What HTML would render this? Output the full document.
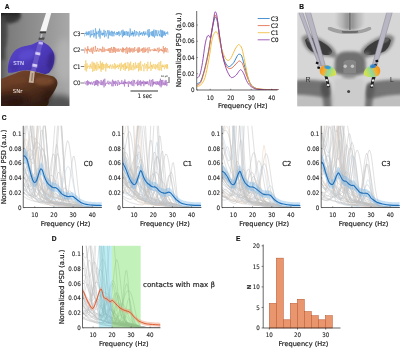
<!DOCTYPE html>
<html lang="en"><head><meta charset="utf-8"><title>Figure</title>
<style>html,body{margin:0;padding:0;background:#fff}body{width:400px;height:348px;overflow:hidden}svg{display:block}text{white-space:pre}</style></head>
<body>
<svg width="400" height="348" viewBox="0 0 400 348">
<text x="4.8" y="8.8" font-size="6.6" text-anchor="start" fill="#111" font-family="'Liberation Sans','DejaVu Sans',sans-serif" font-weight="bold" stroke="#111" stroke-width="0.18">A</text>
<text x="299.3" y="8.8" font-size="6.6" text-anchor="start" fill="#111" font-family="'Liberation Sans','DejaVu Sans',sans-serif" font-weight="bold" stroke="#111" stroke-width="0.18">B</text>
<text x="1.8" y="120" font-size="6.6" text-anchor="start" fill="#111" font-family="'Liberation Sans','DejaVu Sans',sans-serif" font-weight="bold" stroke="#111" stroke-width="0.18">C</text>
<text x="51.8" y="241" font-size="6.6" text-anchor="start" fill="#111" font-family="'Liberation Sans','DejaVu Sans',sans-serif" font-weight="bold" stroke="#111" stroke-width="0.18">D</text>
<text x="236" y="241" font-size="6.6" text-anchor="start" fill="#111" font-family="'Liberation Sans','DejaVu Sans',sans-serif" font-weight="bold" stroke="#111" stroke-width="0.18">E</text>
<defs>
<linearGradient id="abg" x1="0" y1="0" x2="1" y2="0"><stop offset="0" stop-color="#5a5a5a"/><stop offset="0.12" stop-color="#7c7c7c"/><stop offset="0.5" stop-color="#8f8f8f"/><stop offset="1" stop-color="#a9a9a9"/></linearGradient>
<radialGradient id="adark" cx="0" cy="0" r="1"><stop offset="0" stop-color="#1c1c1c" stop-opacity="1"/><stop offset="0.55" stop-color="#2a2a2a" stop-opacity="0.8"/><stop offset="1" stop-color="#444" stop-opacity="0"/></radialGradient>
<linearGradient id="stn" x1="0" y1="0" x2="1" y2="1"><stop offset="0" stop-color="#5846c8"/><stop offset="0.5" stop-color="#4e3bbc"/><stop offset="1" stop-color="#3e2c9c"/></linearGradient>
<linearGradient id="snr" x1="0" y1="0" x2="0.6" y2="1"><stop offset="0" stop-color="#7a4830"/><stop offset="0.45" stop-color="#613822"/><stop offset="1" stop-color="#2e1a10"/></linearGradient>
<filter id="b0" x="-5%" y="-5%" width="110%" height="110%"><feGaussianBlur stdDeviation="0.35"/></filter>
<filter id="b1" x="-20%" y="-20%" width="140%" height="140%"><feGaussianBlur stdDeviation="0.6"/></filter>
<filter id="b15" x="-20%" y="-20%" width="140%" height="140%"><feGaussianBlur stdDeviation="1"/></filter>
<filter id="b2" x="-30%" y="-30%" width="160%" height="160%"><feGaussianBlur stdDeviation="1.5"/></filter>
<filter id="b3" x="-40%" y="-40%" width="180%" height="180%"><feGaussianBlur stdDeviation="3"/></filter>
<clipPath id="clipA"><rect x="1" y="13" width="68.5" height="93"/></clipPath>
<clipPath id="clipB"><rect x="297.3" y="12.8" width="102.7" height="93.4"/></clipPath>
</defs>
<g clip-path="url(#clipA)">
<g filter="url(#b0)">
<rect x="0" y="12" width="71" height="96" fill="url(#abg)"/>
<ellipse cx="1" cy="13" rx="28" ry="26" fill="url(#adark)"/>
<rect x="-2" y="10" width="7" height="50" fill="#3c3c3c" opacity="0.7" filter="url(#b2)"/>
<rect x="-2" y="9" width="22" height="6.5" fill="#161616" opacity="0.85" filter="url(#b2)"/>
<ellipse cx="12" cy="17.5" rx="9" ry="5.5" fill="#262626" opacity="0.8" filter="url(#b2)" transform="rotate(-15 12 17.5)"/>
<ellipse cx="4" cy="32" rx="4" ry="16" fill="#444" opacity="0.6" filter="url(#b2)"/>
<ellipse cx="64" cy="60" rx="9" ry="22" fill="#bcbcbc" opacity="0.55" filter="url(#b3)"/>
<ellipse cx="58" cy="105" rx="18" ry="10" fill="#444" opacity="0.85" filter="url(#b3)"/>
<path d="M-1 79.6C0.5 79.03 5.15 77.27 8 76.2C10.85 75.13 13.42 74.13 16.1 73.2C18.78 72.27 21.42 70.93 24.1 70.6C26.78 70.27 29.52 70.77 32.2 71.2C34.88 71.63 37.52 72.53 40.2 73.2C42.88 73.87 46.22 74.7 48.3 75.2C50.38 75.7 51.37 75.52 52.7 76.2C54.03 76.88 55.52 77.95 56.3 79.3C57.08 80.65 57.73 82.3 57.4 84.3C57.07 86.3 55.65 88.95 54.3 91.3C52.95 93.65 51.18 95.78 49.3 98.4C47.42 101.02 51.38 105.57 43 107C34.62 108.43 6.33 107 -1 107Z" fill="url(#snr)" filter="url(#b1)"/>
<ellipse cx="44" cy="81" rx="10" ry="4.5" fill="#8a5638" opacity="0.6" filter="url(#b2)"/>
<ellipse cx="17" cy="80" rx="10" ry="4" fill="#74452c" opacity="0.5" filter="url(#b2)"/>
<ellipse cx="10" cy="101" rx="18" ry="8" fill="#1c100a" opacity="0.6" filter="url(#b3)"/>
<ellipse cx="47" cy="96" rx="5" ry="8" fill="#2a170e" opacity="0.5" filter="url(#b2)" transform="rotate(30 47 96)"/>
<path d="M30.6 69.5 L35 70 L33.6 83 L28.6 82.5Z" fill="#cdbba8" opacity="0.92" filter="url(#b1)"/>
<path d="M31.8 73 L33.2 73 L32.4 81 L31 81Z" fill="#8a6a50" opacity="0.7" filter="url(#b1)"/>
<path d="M8.2 72.7C8.15 71.95 7.67 70.35 7.9 68.2C8.13 66.05 8.73 62.37 9.6 59.8C10.47 57.23 11.7 54.67 13.1 52.8C14.5 50.93 16.02 49.72 18 48.6C19.98 47.48 22.67 46.8 25 46.1C27.33 45.4 30.02 45.03 32 44.4C33.98 43.77 35.45 42.93 36.9 42.3C38.35 41.67 39.42 40.48 40.7 40.6C41.98 40.72 43.25 42.13 44.6 43C45.95 43.87 47.52 44.63 48.8 45.8C50.08 46.97 51.38 48.37 52.3 50C53.22 51.63 54.02 53.5 54.3 55.6C54.58 57.7 54.42 60.38 54 62.6C53.58 64.82 52.78 67.12 51.8 68.9C50.82 70.68 49.53 72.5 48.1 73.3C46.67 74.1 45.18 73.97 43.2 73.7C41.22 73.43 38.77 72.27 36.2 71.7C33.63 71.13 30.6 70.42 27.8 70.3C25 70.18 21.97 70.6 19.4 71C16.83 71.4 14.27 72.42 12.4 72.7C10.53 72.98 8.9 72.7 8.2 72.7Z" fill="url(#stn)" filter="url(#b1)"/>
<ellipse cx="27" cy="55" rx="9" ry="5" fill="#6452d8" opacity="0.55" filter="url(#b2)" transform="rotate(-20 27 55)"/>
<ellipse cx="51" cy="61" rx="3.5" ry="9" fill="#30207c" opacity="0.65" filter="url(#b2)" transform="rotate(10 51 61)"/>
<ellipse cx="14" cy="67" rx="5" ry="4" fill="#3a2a95" opacity="0.5" filter="url(#b2)"/>
<path d="M38.6 40 L43.6 40 L35.6 71.5 L31 70.5Z" fill="#8070d4" opacity="0.55" filter="url(#b1)"/>
<rect x="38.6" y="41.8" width="4.4" height="2.6" fill="#cfc6f2" opacity="0.9" transform="rotate(12 40.8 43)" filter="url(#b0)"/>
<rect x="35.3" y="52.2" width="5" height="2.8" fill="#ddd5f8" opacity="0.95" transform="rotate(12 37.8 53.6)" filter="url(#b0)"/>
<rect x="32.3" y="64" width="5" height="2.8" fill="#ddd5f8" opacity="0.95" transform="rotate(12 34.8 65.4)" filter="url(#b0)"/>
<path d="M46.2 12.5 L51.4 12.5 L46.2 31.5 L40 31.5Z" fill="#f6f6f6"/>
<path d="M40 31.5 L46.2 31.5 L43.9 40.5 L38.2 40.5Z" fill="#8c8c90"/>
<path d="M40 31.5 L46.2 31.5 L45.8 33.2 L39.6 33.2Z" fill="#3c3c3c"/>
<path d="M38.9 37.6 L44.7 37.6 L44.1 39.8 L38.4 39.8Z" fill="#4c4c4c"/>
<path d="M41 34 L42.6 34 L41.6 38 L40.2 38Z" fill="#c8c8c8" opacity="0.8"/>
</g>
<text x="13.2" y="65.3" font-size="5.4" text-anchor="start" fill="#e4e0ff" font-family="'DejaVu Sans','Liberation Sans',sans-serif" font-weight="normal" stroke="#e4e0ff" stroke-width="0.05">STN</text>
<text x="12.8" y="93" font-size="5.4" text-anchor="start" fill="#efe4dc" font-family="'DejaVu Sans','Liberation Sans',sans-serif" font-weight="normal" stroke="#efe4dc" stroke-width="0.05">SNr</text>
</g>
<text x="73.2" y="35.65" font-size="6.1" text-anchor="start" fill="#1c1c1c" font-family="'DejaVu Sans Condensed','DejaVu Sans','Liberation Sans',sans-serif" font-weight="normal" stroke="#1c1c1c" stroke-width="0.1">C3</text>
<path d="M80.8 33.5 H84.3" stroke="#262626" stroke-width="0.6"/>
<path d="M84.6 36.4l.2 -2.6 .3 -.9 .2 .8 .3 -.6 .2 .6 .3 -1.3 .2 -.9 .3 3.7 .2 .3 .3 -2.9 .2 .6 .3 1.5 .2 -.7 .2 -2.1 .3 -.5 .2 2.9 .3 1 .2 -2.4 .3 -1.6 .2 2.8 .3 -.3 .2 .3 .3 3.4 .2 -2.9 .3 -3.6 .2 -.7 .2 .8 .3 4.3 .2 -.6 .3 -.8 .2 1.1 .3 -1.2 .2 -.3 .3 -2.9 .2 -.9 .3 2.5 .2 4.9 .2 .2 .3 -4.1 .2 -.3 .3 1.5 .2 1.1 .3 -3.2 .2 -4.1 .3 .7 .2 6.4 .3 3.3 .2 -4.6 .3 -2.5 .2 2.8 .2 -.3 .3 -.6 .2 .4 .3 -.4 .2 -1.9 .3 -.8 .2 3.1 .3 2.6 .2 .2 .3 -4.8 .2 -3.3 .3 5.1 .2 4.9 .2 -2.8 .3 -3.8 .2 -1.4 .3 1.2 .2 1.1 .3 .7 .2 1.5 .3 -2.1 .2 -.3 .3 2.9 .2 -.2 .3 -2.4 .2 .6 .2 .9 .3 -3 .2 -1.7 .3 4.3 .2 3.2 .3 -1.9 .2 -3.3 .3 -1.1 .2 -.1 .3 1.7 .2 3.3 .2 .5 .3 -2.2 .2 -.7 .3 .4 .2 -1 .3 -1.7 .2 -1 .3 3.5 .2 4.9 .3 -2 .2 -4.6 .3 -1.7 .2 1.6 .2 3.5 .3 -.7 .2 -3.1 .3 .2 .2 1.2 .3 2.2 .2 .7 .3 -.8 .2 -3.5 .3 -.8 .2 3.1 .3 2.5 .2 -1.9 .2 -3 .3 1 .2 .8 .3 -.9 .2 1.4 .3 2.5 .2 -2.9 .3 -2 .2 2 .3 .2 .2 -.4 .3 .6 .2 0 .2 .5 .3 .9 .2 -1.5 .3 -1.8 .2 .5 .3 1.7 .2 .9 .3 -2.2 .2 -.7 .3 2.1 .2 -2 .3 -.9 .2 2.9 .2 1.4 .3 .6 .2 -2.1 .3 -2.6 .2 .2 .3 2.2 .2 1 .3 -.4 .2 -.7 .3 -.9 .2 -.5 .2 -2 .3 1.9 .2 3.6 .3 1.4 .2 -2.8 .3 -4.8 .2 2.7 .3 3.5 .2 -1.5 .3 -3 .2 2.2 .3 1.5 .2 -3.5 .2 1.7 .3 2.1 .2 -.9 .3 -.3 .2 -2.1 .3 -1.1 .2 1.5 .3 2 .2 1 .3 -1.1 .2 -2.7 .3 1.1 .2 3.2 .2 -1.5 .3 -2.8 .2 .5 .3 .2 .2 1.2 .3 2.4 .2 1.2 .3 -3.5 .2 -5.2 .3 1.2 .2 4.6 .3 1.3 .2 .3 .2 -1.8 .3 -1.1 .2 1.6 .3 -2.9 .2 -.5 .3 3.3 .2 -1.9 .3 1.8 .2 2.1 .3 -2.8 .2 -1.2 .2 1.7 .3 -2.4 .2 -1.7 .3 2.8 .2 2.8 .3 .6 .2 -.9 .3 -2.2 .2 -1.5 .3 -.7 .2 2.1 .3 2.2 .2 -.4 .2 -.6 .3 -1.8 .2 -.6 .3 .7 .2 .4 .3 .8 .2 1.5 .3 1.2 .2 -2.7 .3 -2.6 .2 -.1 .3 2.7 .2 1.2 .2 -2 .3 .3 .2 1.2 .3 -1.5 .2 -.7 .3 1.2 .2 -.4 .3 .7 .2 2 .3 -.6 .2 -2.7 .3 -.4 .2 1.6 .2 -1.6 .3 -1 .2 3.6 .3 .9 .2 -1.8 .3 -1 .2 2 .3 -.3 .2 -1.8 .3 -1.2 .2 1.2 .3 .8 .2 .1 .2 .8 .3 .8 .2 .1 .3 -3.4 .2 -2.2 .3 2.7 .2 3.7 .3 1.3 .2 -4.1 .3 -4.3 .2 3.8 .2 4 .3 -2.2 .2 -2.3 .3 -.3 .2 .2 .3 1.3 .2 1.1 .3 .9 .2 -2.2 .3 -2 .2 3.2 .3 1.6 .2 -2.5 .2 -2.6 .3 .6 .2 5.1 .3 -1.4 .2 -5.5 .3 -.3 .2 4.7 .3 3.4 .2 -.9 .3 -2.6 .2 -3.9 .3 0 .2 4.5 .2 1.2 .3 -.7 .2 -1.3 .3 -3.8 .2 .2 .3 4.5 .2 1.4 .3 -1.6 .2 -.2 .3 -1.4 .2 .1 .3 -1.1 .2 -1.5 .2 3.1 .3 2 .2 -1.3 .3 .9 .2 1.2 .3 -4.2 .2 -2.5 .3 1.2 .2 2.9 .3 3.3 .2 -2.6 .2 -4.2 .3 2.8 .2 4.5 .3 -4.3 .2 -2.9 .3 3 .2 2.4 .3 -1.2 .2 -3.2 .3 .3 .2 2.9 .3 -1.4 .2 -1.7 .2 3.6 .3 .9 .2 -2.2 .3 -.5 .2 .6 .3 -1.4 .2 -.1 .3 1.5 .2 -.2 .3 -.3 .2 -1.8 .3 .5 .2 2.8" fill="none" stroke="#2f88d4" stroke-width="0.48" stroke-linejoin="round"/>
<text x="73.2" y="52.15" font-size="6.1" text-anchor="start" fill="#1c1c1c" font-family="'DejaVu Sans Condensed','DejaVu Sans','Liberation Sans',sans-serif" font-weight="normal" stroke="#1c1c1c" stroke-width="0.1">C2</text>
<path d="M80.8 50 H84.3" stroke="#262626" stroke-width="0.6"/>
<path d="M84.6 53.2l.2 -3.6 .3 -2 .2 .8 .3 .2 .2 1 .3 1.2 .2 .3 .3 -1.3 .2 -.7 .3 3.9 .2 .6 .3 -4.8 .2 -2.6 .2 3.2 .3 1.2 .2 -1.8 .3 1 .2 .1 .3 -.4 .2 1.9 .3 .5 .2 -1.5 .3 -.8 .2 -1 .3 .5 .2 2.3 .2 .9 .3 -2.7 .2 -2 .3 1.1 .2 0 .3 2.8 .2 2.3 .3 -3.1 .2 -3.9 .3 .4 .2 3.3 .2 .6 .3 0 .2 .6 .3 -.3 .2 -.6 .3 -2.3 .2 -2.6 .3 2.2 .2 3.2 .3 .5 .2 -.8 .3 -1 .2 .8 .2 .4 .3 -1.7 .2 -1.4 .3 0 .2 2 .3 .2 .2 .2 .3 1.4 .2 -.7 .3 -1.3 .2 -.5 .3 -.9 .2 1.6 .2 -.2 .3 -.8 .2 1.5 .3 -.7 .2 -.5 .3 .5 .2 2.2 .3 .1 .2 -3.9 .3 -1.6 .2 2.8 .3 2.6 .2 -.8 .2 -.4 .3 -.8 .2 -2.6 .3 .9 .2 1.9 .3 1.6 .2 -1 .3 -1.4 .2 0 .3 0 .2 1 .2 -.3 .3 -.9 .2 .2 .3 1.4 .2 -.1 .3 -.2 .2 -.9 .3 -1 .2 1.5 .3 .9 .2 -1.2 .3 -1.8 .2 .3 .2 3.3 .3 1 .2 -3.3 .3 -1.3 .2 1 .3 2.2 .2 1.7 .3 -2 .2 -3.9 .3 .9 .2 2.1 .3 .2 .2 -.9 .2 .5 .3 3 .2 -.9 .3 -5.1 .2 1.2 .3 3.6 .2 .3 .3 -2.3 .2 -2.6 .3 1.1 .2 3.7 .3 1 .2 -2.6 .2 -2.1 .3 .6 .2 1.4 .3 1.2 .2 -.8 .3 -1.4 .2 -.5 .3 .2 .2 2.8 .3 .3 .2 -2.9 .3 -.7 .2 .3 .2 2.3 .3 .6 .2 -1 .3 .1 .2 -1.2 .3 -.8 .2 .6 .3 .7 .2 0 .3 -.4 .2 .2 .2 2 .3 -.1 .2 -3.3 .3 -.9 .2 3.6 .3 1.4 .2 -2.8 .3 -1.9 .2 2.7 .3 1.2 .2 -2.6 .3 .6 .2 .3 .2 -.5 .3 -.1 .2 -1.1 .3 2.4 .2 2.7 .3 -1.2 .2 -3.2 .3 -2.1 .2 .1 .3 2.9 .2 4 .3 -1.3 .2 -3.4 .2 -1.3 .3 .7 .2 1.1 .3 1.2 .2 1.3 .3 -3 .2 -1.8 .3 2.4 .2 2.8 .3 -.9 .2 -3.1 .3 -.1 .2 1.7 .2 1.4 .3 -.6 .2 -2.6 .3 -.5 .2 1.4 .3 1.2 .2 2.1 .3 -1.4 .2 -2.7 .3 .1 .2 1.3 .2 2 .3 .1 .2 -3.8 .3 -1.2 .2 2.8 .3 1 .2 0 .3 -.4 .2 -.1 .3 .4 .2 -.9 .3 -.5 .2 -.6 .2 .9 .3 2.9 .2 -1.1 .3 -4 .2 .3 .3 4 .2 1.1 .3 -2.9 .2 -2.7 .3 .9 .2 3.9 .3 -.4 .2 -1.5 .2 -.2 .3 .3 .2 -.7 .3 -.7 .2 1.2 .3 1.1 .2 -.1 .3 -2.7 .2 -.2 .3 3.1 .2 1.7 .3 -2.2 .2 -2.7 .2 -.5 .3 1.7 .2 3.1 .3 .1 .2 -1.7 .3 -2.6 .2 -.6 .3 3 .2 1.6 .3 -1.9 .2 -1.1 .3 1 .2 .3 .2 .1 .3 -2.1 .2 -.7 .3 2.1 .2 2.2 .3 1.2 .2 -1.7 .3 -1.4 .2 -1.5 .3 -1.5 .2 1.2 .2 1.9 .3 -.2 .2 1.5 .3 -.2 .2 -1.7 .3 .6 .2 0 .3 0 .2 -.2 .3 -.1 .2 -.7 .3 .5 .2 -.2 .2 .2 .3 .9 .2 -.5 .3 0 .2 1 .3 -.9 .2 -1.8 .3 1.9 .2 .8 .3 -1.3 .2 -.8 .3 -.1 .2 1.9 .2 -.8 .3 -.2 .2 1.3 .3 0 .2 -.3 .3 -1.6 .2 -1.2 .3 -.2 .2 2.2 .3 2.4 .2 .1 .3 -1.4 .2 -2.8 .2 -.8 .3 1.8 .2 2 .3 -.2 .2 -1 .3 -.2 .2 -.6 .3 .6 .2 .6 .3 -1.7 .2 .9 .2 1.4 .3 -.7 .2 -.4 .3 1.1 .2 .5 .3 -4.1 .2 -1.4 .3 3.4 .2 3.9 .3 -.9 .2 -3.6 .3 -.8 .2 2.7 .2 1.1 .3 -2.3 .2 -2.2 .3 .8 .2 2.9 .3 1.2 .2 -.7 .3 -2 .2 -1.5 .3 .6 .2 .2 .3 1.3 .2 2.6" fill="none" stroke="#e2703f" stroke-width="0.48" stroke-linejoin="round"/>
<text x="73.2" y="68.65" font-size="6.1" text-anchor="start" fill="#1c1c1c" font-family="'DejaVu Sans Condensed','DejaVu Sans','Liberation Sans',sans-serif" font-weight="normal" stroke="#1c1c1c" stroke-width="0.1">C1</text>
<path d="M80.8 66.5 H84.3" stroke="#262626" stroke-width="0.6"/>
<path d="M84.6 64l.2 .7 .3 5.2 .2 .4 .3 -6.7 .2 -3.3 .3 4.7 .2 6.5 .3 -.6 .2 -5.2 .3 -2.3 .2 3 .3 2.1 .2 -1.9 .2 -.7 .3 .5 .2 .2 .3 -1.1 .2 .7 .3 0 .2 .4 .3 2.3 .2 -1.5 .3 -3.6 .2 2.2 .3 .7 .2 -.7 .2 2.2 .3 .3 .2 -1.3 .3 -4.7 .2 -.9 .3 6.3 .2 3.9 .3 -1.9 .2 -3.3 .3 -3.7 .2 -.5 .2 5.8 .3 2.8 .2 -5.1 .3 -2.8 .2 .6 .3 4.5 .2 1 .3 -4.5 .2 1.6 .3 4.6 .2 -1.8 .3 -4.5 .2 -2.8 .2 1.1 .3 4.4 .2 1.1 .3 1.3 .2 -1.5 .3 -4.4 .2 .6 .3 3.3 .2 .7 .3 -1.8 .2 -.7 .3 2.7 .2 -3.5 .2 -4.3 .3 3.6 .2 6 .3 1.4 .2 -6.8 .3 -1.7 .2 6.4 .3 -.4 .2 -4.3 .3 -2.7 .2 2.8 .3 4.7 .2 -2.3 .2 -3.6 .3 1.4 .2 2.9 .3 -1 .2 0 .3 -.4 .2 -2.2 .3 -.6 .2 4.5 .3 3 .2 -3.9 .2 -4.7 .3 .1 .2 4 .3 1.4 .2 -.7 .3 -2.2 .2 -1.4 .3 2.9 .2 .5 .3 -1.2 .2 .7 .3 .8 .2 -2 .2 0 .3 2.9 .2 -1 .3 -2.8 .2 -.5 .3 1.8 .2 -.6 .3 .1 .2 1.5 .3 .8 .2 1.1 .3 -1.7 .2 -2.6 .2 -.4 .3 1.3 .2 1.8 .3 -.9 .2 -.1 .3 2.1 .2 -1 .3 -3.5 .2 -.9 .3 4 .2 2.2 .3 -1.4 .2 -2.7 .2 -1 .3 2.1 .2 1.6 .3 -.8 .2 -1.2 .3 -.1 .2 1.1 .3 -1.1 .2 -1.4 .3 2.4 .2 2.2 .3 -.8 .2 -1.9 .2 -1.3 .3 .9 .2 .8 .3 -3.3 .2 .9 .3 3.9 .2 2.6 .3 -2 .2 -4.7 .3 -1.5 .2 2.8 .2 3.3 .3 -.2 .2 -2.2 .3 -1.3 .2 1.6 .3 .4 .2 -3 .3 1.7 .2 4.1 .3 -1.5 .2 -3 .3 -1.1 .2 -1 .2 2.9 .3 4.7 .2 -2.2 .3 -6.1 .2 3 .3 3.4 .2 -3.2 .3 .4 .2 2.2 .3 -1.1 .2 .3 .3 -2.4 .2 -3.2 .2 2.1 .3 2.2 .2 3.1 .3 1.7 .2 -4.5 .3 -3.2 .2 2.1 .3 3.7 .2 .5 .3 -4.8 .2 -3.2 .3 1.9 .2 5.6 .2 .9 .3 -2.9 .2 -1.4 .3 -.6 .2 -.4 .3 .6 .2 2.3 .3 2.7 .2 -2.8 .3 -4.6 .2 .9 .2 3.4 .3 0 .2 -.6 .3 2.5 .2 .3 .3 -4.6 .2 -2.5 .3 1.7 .2 4.2 .3 -.1 .2 -2.8 .3 .1 .2 2.3 .2 -.2 .3 -.5 .2 .2 .3 -4.1 .2 1.9 .3 6.4 .2 -3.1 .3 -4.8 .2 -1.1 .3 2.6 .2 4.2 .3 1 .2 -2.4 .2 -4.6 .3 -2.1 .2 4.8 .3 4.8 .2 -1.4 .3 -2.7 .2 0 .3 -.3 .2 -.8 .3 -1.2 .2 .7 .3 .5 .2 -.3 .2 2.7 .3 3.3 .2 -1.4 .3 -4.5 .2 -2.2 .3 .3 .2 1.2 .3 2.6 .2 1.3 .3 -.5 .2 -1 .3 -1.5 .2 -1.6 .2 1.7 .3 5.5 .2 -.7 .3 -6 .2 -2.7 .3 1.3 .2 3.3 .3 2.5 .2 -.8 .3 -1.4 .2 0 .2 1 .3 .5 .2 -1.2 .3 -3.2 .2 -2 .3 5 .2 4.1 .3 -3.9 .2 -2.1 .3 1.9 .2 -1.2 .3 0 .2 3.1 .2 .1 .3 -2.4 .2 -2.5 .3 .6 .2 1.4 .3 1.3 .2 1.5 .3 -.6 .2 -1.7 .3 -1.6 .2 -.8 .3 3.5 .2 1.9 .2 -2.7 .3 -1.6 .2 .2 .3 .5 .2 2.4 .3 -.9 .2 -3.5 .3 1.3 .2 3.5 .3 1.6 .2 -1.5 .3 -4 .2 -2.6 .2 .3 .3 3.8 .2 4.2 .3 .1 .2 -.5 .3 -3.5 .2 -5.5 .3 .7 .2 4.1 .3 4.9 .2 -.2 .2 -5 .3 0 .2 1.7 .3 -1.1 .2 -1.5 .3 1.1 .2 1.3 .3 -1.2 .2 .8 .3 .4 .2 1.6 .3 .6 .2 -4 .2 -.7 .3 1.9 .2 -.8 .3 .4 .2 1.8 .3 -1 .2 -2.5 .3 1.2 .2 3.6 .3 -1.2 .2 -3.6 .3 3.6 .2 .7" fill="none" stroke="#f0bc38" stroke-width="0.48" stroke-linejoin="round"/>
<text x="73.2" y="85.15" font-size="6.1" text-anchor="start" fill="#1c1c1c" font-family="'DejaVu Sans Condensed','DejaVu Sans','Liberation Sans',sans-serif" font-weight="normal" stroke="#1c1c1c" stroke-width="0.1">C0</text>
<path d="M80.8 83 H84.3" stroke="#262626" stroke-width="0.6"/>
<path d="M84.6 81.5l.2 .4 .3 2 .2 .1 .3 .2 .2 -.1 .3 -2.2 .2 -.8 .3 .9 .2 1.9 .3 1.6 .2 -1.5 .3 -3.7 .2 .7 .2 4.2 .3 -.3 .2 -2.8 .3 -.8 .2 2.2 .3 0 .2 -1.1 .3 -.3 .2 1.6 .3 .7 .2 -1.9 .3 .6 .2 1.3 .2 -1.5 .3 -.9 .2 -.3 .3 .3 .2 1.4 .3 -.3 .2 1.7 .3 -.1 .2 -2.5 .3 .4 .2 -.3 .2 -1.2 .3 .9 .2 1.8 .3 2 .2 -1.2 .3 -3.6 .2 .6 .3 3.4 .2 -1.4 .3 -3.7 .2 2.5 .3 2.5 .2 .2 .2 -3.4 .3 -1.7 .2 3.3 .3 2.9 .2 -2.8 .3 -2.6 .2 2.5 .3 .2 .2 0 .3 -.5 .2 -1.3 .3 .5 .2 1.2 .2 1.2 .3 .3 .2 -2.5 .3 -2.4 .2 2.1 .3 3 .2 -.7 .3 -2.7 .2 -.3 .3 1.9 .2 2 .3 -1.2 .2 -4.4 .2 .1 .3 5.1 .2 2.5 .3 -1.3 .2 -5.7 .3 -1.7 .2 .6 .3 4.8 .2 1.6 .3 -2.3 .2 -.4 .2 .4 .3 -.7 .2 .6 .3 .4 .2 -.3 .3 -.1 .2 -1.7 .3 -.9 .2 2.4 .3 1 .2 -.7 .3 1.2 .2 -.5 .2 -2.5 .3 .4 .2 .7 .3 .4 .2 .7 .3 -1.4 .2 -.7 .3 .9 .2 .4 .3 2 .2 1.3 .3 -3.3 .2 -2.8 .2 -.5 .3 3.4 .2 3.2 .3 -1.5 .2 -4 .3 .5 .2 2.7 .3 -.3 .2 -1.5 .3 -.9 .2 3 .3 1.5 .2 -2.6 .2 -2.4 .3 .8 .2 1.9 .3 0 .2 -1 .3 .2 .2 2.7 .3 .6 .2 -4.2 .3 -1.7 .2 1.2 .3 .8 .2 .6 .2 2.2 .3 0 .2 -2.4 .3 -.8 .2 1.2 .3 1.2 .2 -.7 .3 -.5 .2 .6 .3 .5 .2 -.1 .2 -3.7 .3 .3 .2 2.8 .3 .8 .2 -.9 .3 .2 .2 -.9 .3 1.7 .2 -1.1 .3 -1.9 .2 2.5 .3 2.8 .2 -3.2 .2 -3.8 .3 3.7 .2 .5 .3 -1.8 .2 .9 .3 -.7 .2 1.3 .3 .5 .2 -.5 .3 .3 .2 -1.5 .3 -.4 .2 -.1 .2 2.2 .3 3.1 .2 -2.8 .3 -3.3 .2 .2 .3 .8 .2 1.6 .3 .6 .2 -.8 .3 -1.2 .2 -.2 .3 2.3 .2 .4 .2 -2.9 .3 -.8 .2 1.9 .3 3.1 .2 -.1 .3 -2.7 .2 -1.5 .3 -1.8 .2 .7 .3 3.3 .2 2.4 .2 -.5 .3 -3.8 .2 -1.8 .3 2.2 .2 1.1 .3 0 .2 -.2 .3 .3 .2 .7 .3 -.7 .2 -1.3 .3 .1 .2 -.7 .2 1.8 .3 2.3 .2 -3.5 .3 -2.4 .2 3.2 .3 2.2 .2 -.4 .3 -1.9 .2 -1.2 .3 -.5 .2 1.6 .3 2.4 .2 -2.5 .2 -2.4 .3 2 .2 3.9 .3 -1.1 .2 -3.4 .3 0 .2 2.2 .3 -.2 .2 -1.8 .3 1.6 .2 -.8 .3 -2.2 .2 .7 .2 3.4 .3 1.6 .2 -2.4 .3 -2 .2 -.4 .3 2.6 .2 .5 .3 -2.9 .2 1 .3 1.4 .2 -1.9 .3 1.3 .2 .5 .2 -2.6 .3 .6 .2 2.3 .3 -.5 .2 -2.4 .3 .9 .2 1 .3 1.4 .2 .7 .3 -.5 .2 -1.6 .2 -3.3 .3 -.3 .2 2.5 .3 3.4 .2 .9 .3 -3.5 .2 -1.3 .3 -1.7 .2 .6 .3 4 .2 1.3 .3 .8 .2 -2.2 .2 -5.2 .3 .7 .2 5.3 .3 -1.4 .2 -2.1 .3 2 .2 0 .3 -1.8 .2 0 .3 1.3 .2 1.1 .3 -.1 .2 -2.3 .2 -.5 .3 1.8 .2 1.5 .3 0 .2 -2 .3 -1.6 .2 1.2 .3 2.2 .2 -2 .3 -.7 .2 .7 .3 2.5 .2 -.1 .2 -3.5 .3 -.6 .2 2 .3 3.5 .2 -2.8 .3 -4.8 .2 1.8 .3 5.1 .2 1.8 .3 -3.2 .2 -4.2 .2 1.9 .3 3.6 .2 -1.8 .3 -2.3 .2 -1.5 .3 1.2 .2 3.8 .3 -.3 .2 -1.9 .3 0 .2 2 .3 .6 .2 -2.7 .2 -2 .3 1.5 .2 3 .3 -2.1 .2 -3.1 .3 1.1 .2 2.8 .3 2.3 .2 -.7 .3 -3.1 .2 -.3 .3 1 .2 -.5" fill="none" stroke="#8f48b4" stroke-width="0.48" stroke-linejoin="round"/>
<path d="M130.5 91 H158" stroke="#1c1c1c" stroke-width="0.9"/>
<text x="144.8" y="98.4" font-size="6.1" text-anchor="middle" fill="#1c1c1c" font-family="'DejaVu Sans Condensed','DejaVu Sans','Liberation Sans',sans-serif" font-weight="normal" stroke="#1c1c1c" stroke-width="0.1">1 sec</text>
<path d="M169 77 V83" stroke="#1c1c1c" stroke-width="0.7"/>
<text x="161" y="76.6" font-size="2.4" text-anchor="start" fill="#1c1c1c" font-family="'DejaVu Sans','Liberation Sans',sans-serif" font-weight="normal" stroke="#1c1c1c" stroke-width="0.05">10 µV</text>
<clipPath id="clipP"><rect x="196.7" y="8" width="82" height="82"/></clipPath>
<g clip-path="url(#clipP)" fill="none" stroke-width="0.9" stroke-linejoin="round">
<path d="M196.75 84C197.08 83.83 198 83.67 198.75 83C199.5 82.33 200.21 82.58 201.25 80C202.29 77.42 203.75 72.5 205 67.5C206.25 62.5 207.58 56.25 208.75 50C209.92 43.75 211.04 35.21 212 30C212.96 24.79 213.88 20.83 214.5 18.75C215.12 16.67 215.25 16.88 215.75 17.5C216.25 18.12 216.79 18.75 217.5 22.5C218.21 26.25 218.96 33.96 220 40C221.04 46.04 222.5 54.46 223.75 58.75C225 63.04 226.46 64.5 227.5 65.75C228.54 67 228.96 66.79 230 66.25C231.04 65.71 232.5 64.29 233.75 62.5C235 60.71 236.54 56.88 237.5 55.5C238.46 54.12 238.79 54.12 239.5 54.25C240.21 54.38 240.83 54.04 241.75 56.25C242.67 58.46 243.83 63.54 245 67.5C246.17 71.46 247.5 76.88 248.75 80C250 83.12 250.62 84.71 252.5 86.25C254.38 87.79 255.42 88.62 260 89.25C264.58 89.88 276.67 89.88 280 90" stroke="#1f77c4"/>
<path d="M196.75 85.25C197.08 85.12 198 85.17 198.75 84.5C199.5 83.83 200.21 83.88 201.25 81.25C202.29 78.62 203.75 73.75 205 68.75C206.25 63.75 207.58 57.92 208.75 51.25C209.92 44.58 211.04 34.5 212 28.75C212.96 23 213.92 18.96 214.5 16.75C215.08 14.54 215 14.75 215.5 15.5C216 16.25 216.75 17.17 217.5 21.25C218.25 25.33 218.96 33.54 220 40C221.04 46.46 222.5 55.42 223.75 60C225 64.58 226.25 66.12 227.5 67.5C228.75 68.88 230 68.67 231.25 68.25C232.5 67.83 233.83 66.12 235 65C236.17 63.88 237.42 62.12 238.25 61.5C239.08 60.88 239.29 60.88 240 61.25C240.71 61.62 241.58 61.88 242.5 63.75C243.42 65.62 244.33 69.38 245.5 72.5C246.67 75.62 248.25 80.08 249.5 82.5C250.75 84.92 251.25 85.88 253 87C254.75 88.12 255.5 88.75 260 89.25C264.5 89.75 276.67 89.88 280 90" stroke="#e0603a"/>
<path d="M196.75 86.5C197.08 86.42 198 86.33 198.75 86C199.5 85.67 200.21 85.92 201.25 84.5C202.29 83.08 203.75 81.58 205 77.5C206.25 73.42 207.58 66.25 208.75 60C209.92 53.75 211.04 44.5 212 40C212.96 35.5 213.79 34.33 214.5 33C215.21 31.67 215.67 31.75 216.25 32C216.83 32.25 217.17 31.92 218 34.5C218.83 37.08 220.08 43.67 221.25 47.5C222.42 51.33 223.83 55.33 225 57.5C226.17 59.67 227.21 60.5 228.25 60.5C229.29 60.5 230.12 59.33 231.25 57.5C232.38 55.67 233.88 51.58 235 49.5C236.12 47.42 237.25 45.75 238 45C238.75 44.25 238.83 44.38 239.5 45C240.17 45.62 241.08 45.83 242 48.75C242.92 51.67 244 57.71 245 62.5C246 67.29 246.96 73.75 248 77.5C249.04 81.25 249.67 83.12 251.25 85C252.83 86.88 252.71 87.92 257.5 88.75C262.29 89.58 276.25 89.79 280 90" stroke="#f2b830"/>
<path d="M196.75 78C197.08 77.79 198.12 77.67 198.75 76.75C199.38 75.83 199.88 74.88 200.5 72.5C201.12 70.12 201.75 67.08 202.5 62.5C203.25 57.92 204.25 49.25 205 45C205.75 40.75 206.38 38.58 207 37C207.62 35.42 208.17 35.42 208.75 35.5C209.33 35.58 209.88 38.83 210.5 37.5C211.12 36.17 211.83 31.46 212.5 27.5C213.17 23.54 214 16.33 214.5 13.75C215 11.17 215.08 11.58 215.5 12C215.92 12.42 216.33 12.42 217 16.25C217.67 20.08 218.58 28.54 219.5 35C220.42 41.46 221.38 49.38 222.5 55C223.62 60.62 225 65.21 226.25 68.75C227.5 72.29 228.96 74.79 230 76.25C231.04 77.71 231.46 77.71 232.5 77.5C233.54 77.29 235.08 76.17 236.25 75C237.42 73.83 238.67 71.33 239.5 70.5C240.33 69.67 240.54 69.46 241.25 70C241.96 70.54 242.71 71.67 243.75 73.75C244.79 75.83 246.04 80.21 247.5 82.5C248.96 84.79 250.42 86.33 252.5 87.5C254.58 88.67 255.42 89.08 260 89.5C264.58 89.92 276.67 89.92 280 90" stroke="#8a3aa8"/>
</g>
<path d="M196.7 11 V90 H277.5" fill="none" stroke="#262626" stroke-width="0.7"/>
<path d="M196.7 90 h1.2" stroke="#262626" stroke-width="0.5"/>
<text x="194.6" y="92.2" font-size="6.2" text-anchor="end" fill="#1c1c1c" font-family="'DejaVu Sans Condensed','DejaVu Sans','Liberation Sans',sans-serif" font-weight="normal" stroke="#1c1c1c" stroke-width="0.1">0</text>
<path d="M196.7 73.75 h1.2" stroke="#262626" stroke-width="0.5"/>
<text x="194.6" y="75.95" font-size="6.2" text-anchor="end" fill="#1c1c1c" font-family="'DejaVu Sans Condensed','DejaVu Sans','Liberation Sans',sans-serif" font-weight="normal" stroke="#1c1c1c" stroke-width="0.1">0.02</text>
<path d="M196.7 57.5 h1.2" stroke="#262626" stroke-width="0.5"/>
<text x="194.6" y="59.7" font-size="6.2" text-anchor="end" fill="#1c1c1c" font-family="'DejaVu Sans Condensed','DejaVu Sans','Liberation Sans',sans-serif" font-weight="normal" stroke="#1c1c1c" stroke-width="0.1">0.04</text>
<path d="M196.7 41.25 h1.2" stroke="#262626" stroke-width="0.5"/>
<text x="194.6" y="43.45" font-size="6.2" text-anchor="end" fill="#1c1c1c" font-family="'DejaVu Sans Condensed','DejaVu Sans','Liberation Sans',sans-serif" font-weight="normal" stroke="#1c1c1c" stroke-width="0.1">0.06</text>
<path d="M196.7 25 h1.2" stroke="#262626" stroke-width="0.5"/>
<text x="194.6" y="27.2" font-size="6.2" text-anchor="end" fill="#1c1c1c" font-family="'DejaVu Sans Condensed','DejaVu Sans','Liberation Sans',sans-serif" font-weight="normal" stroke="#1c1c1c" stroke-width="0.1">0.08</text>
<path d="M210.2 90 v-1.2" stroke="#262626" stroke-width="0.5"/>
<text x="210.2" y="99.6" font-size="6.2" text-anchor="middle" fill="#1c1c1c" font-family="'DejaVu Sans Condensed','DejaVu Sans','Liberation Sans',sans-serif" font-weight="normal" stroke="#1c1c1c" stroke-width="0.1">10</text>
<path d="M230.7 90 v-1.2" stroke="#262626" stroke-width="0.5"/>
<text x="230.7" y="99.6" font-size="6.2" text-anchor="middle" fill="#1c1c1c" font-family="'DejaVu Sans Condensed','DejaVu Sans','Liberation Sans',sans-serif" font-weight="normal" stroke="#1c1c1c" stroke-width="0.1">20</text>
<path d="M251.2 90 v-1.2" stroke="#262626" stroke-width="0.5"/>
<text x="251.2" y="99.6" font-size="6.2" text-anchor="middle" fill="#1c1c1c" font-family="'DejaVu Sans Condensed','DejaVu Sans','Liberation Sans',sans-serif" font-weight="normal" stroke="#1c1c1c" stroke-width="0.1">30</text>
<path d="M271.7 90 v-1.2" stroke="#262626" stroke-width="0.5"/>
<text x="271.7" y="99.6" font-size="6.2" text-anchor="middle" fill="#1c1c1c" font-family="'DejaVu Sans Condensed','DejaVu Sans','Liberation Sans',sans-serif" font-weight="normal" stroke="#1c1c1c" stroke-width="0.1">40</text>
<text x="242.8" y="107.8" font-size="6.6" text-anchor="middle" fill="#1c1c1c" font-family="'DejaVu Sans','Liberation Sans',sans-serif" font-weight="normal" stroke="#1c1c1c" stroke-width="0.18">Frequency (Hz)</text>
<text x="180.8" y="50" font-size="6.8" text-anchor="middle" fill="#1c1c1c" font-family="'DejaVu Sans','Liberation Sans',sans-serif" font-weight="normal" transform="rotate(-90 180.8 50)" stroke="#1c1c1c" stroke-width="0.18">Normalized PSD (a.u.)</text>
<path d="M257.7 18.5 H269.7" stroke="#1f77c4" stroke-width="0.8"/>
<text x="271.1" y="20.65" font-size="6.1" text-anchor="start" fill="#1c1c1c" font-family="'DejaVu Sans Condensed','DejaVu Sans','Liberation Sans',sans-serif" font-weight="normal" stroke="#1c1c1c" stroke-width="0.2">C3</text>
<path d="M257.7 25.6 H269.7" stroke="#e0603a" stroke-width="0.8"/>
<text x="271.1" y="27.75" font-size="6.1" text-anchor="start" fill="#1c1c1c" font-family="'DejaVu Sans Condensed','DejaVu Sans','Liberation Sans',sans-serif" font-weight="normal" stroke="#1c1c1c" stroke-width="0.2">C2</text>
<path d="M257.7 32.7 H269.7" stroke="#f2b830" stroke-width="0.8"/>
<text x="271.1" y="34.85" font-size="6.1" text-anchor="start" fill="#1c1c1c" font-family="'DejaVu Sans Condensed','DejaVu Sans','Liberation Sans',sans-serif" font-weight="normal" stroke="#1c1c1c" stroke-width="0.2">C1</text>
<path d="M257.7 39.8 H269.7" stroke="#8a3aa8" stroke-width="0.8"/>
<text x="271.1" y="41.95" font-size="6.1" text-anchor="start" fill="#1c1c1c" font-family="'DejaVu Sans Condensed','DejaVu Sans','Liberation Sans',sans-serif" font-weight="normal" stroke="#1c1c1c" stroke-width="0.2">C0</text>
<g clip-path="url(#clipB)">
<rect x="297" y="12" width="104" height="95" fill="#d6d6d6"/>
<defs><linearGradient id="lobeL" x1="0" y1="0" x2="1" y2="0"><stop offset="0" stop-color="#d2d2d2"/><stop offset="0.5" stop-color="#b4b4b4"/><stop offset="1" stop-color="#868686"/></linearGradient><linearGradient id="lobeR" x1="1" y1="0" x2="0" y2="0"><stop offset="0" stop-color="#d2d2d2"/><stop offset="0.5" stop-color="#b4b4b4"/><stop offset="1" stop-color="#868686"/></linearGradient></defs>
<g filter="url(#b0)">
<rect x="290" y="93" width="120" height="20" fill="#bdbdbd" opacity="0.9" filter="url(#b3)"/>
<path d="M294 80.5 C302 79.5 312 79.5 323.9 81 L330 83.5 L331.5 110 L324 110 L322.5 97.5 C314 95.5 304 95 294 94.5Z" fill="#6e6e6e" opacity="0.95" filter="url(#b2)"/>
<ellipse cx="325.5" cy="90" rx="4.5" ry="8" fill="#484848" opacity="0.8" filter="url(#b2)" transform="rotate(-10 325.5 90)"/>
<path d="M404 80 C396 79.5 388 79.5 376 81 L367 84 L364 110 L371.5 110 L373 98.5 C382 96 392 95 404 94.5Z" fill="#707070" opacity="0.95" filter="url(#b2)"/>
<ellipse cx="370" cy="91" rx="4.5" ry="8" fill="#545454" opacity="0.75" filter="url(#b2)" transform="rotate(10 370 91)"/>
<path d="M334 80 C339 76 360 76 364.5 80 L364 110 L334 110Z" fill="#cccccc" filter="url(#b2)"/>
<circle cx="348.6" cy="91.4" r="1.5" fill="#444" filter="url(#b1)"/>
<path d="M336 12 L349.6 12 L349.6 29.5 C345 30.5 339 29 336.5 25 C335 21 335.5 16 336 12Z" fill="url(#lobeL)" filter="url(#b15)"/>
<path d="M364 12 L350.2 12 L350.2 29.5 C355 30.5 361 29 363.5 25 C365 21 364.5 16 364 12Z" fill="url(#lobeR)" filter="url(#b15)"/>
<rect x="349.3" y="10" width="1.2" height="20" fill="#5a5a5a" opacity="0.9" filter="url(#b1)"/>
<path d="M329.5 28.5 C336 31.5 343 32.3 350 32.3 C357 32.3 364 31.5 369.5 28.5" fill="none" stroke="#a0a0a0" stroke-width="3.6" stroke-linecap="round" filter="url(#b1)"/>
<path d="M343 31.6 C347 32.2 353 32.2 357 31.6" fill="none" stroke="#6c6c6c" stroke-width="2.4" stroke-linecap="round" filter="url(#b1)"/>
<path d="M301.5 37.6C302.25 37.15 303.92 35.17 306 34.9C308.08 34.63 311.33 35.23 314 36C316.67 36.77 319.42 38.08 322 39.5C324.58 40.92 327.42 42.75 329.5 44.5C331.58 46.25 333.58 48.33 334.5 50C335.42 51.67 335.75 53.42 335 54.5C334.25 55.58 332.33 56.33 330 56.5C327.67 56.67 324.17 56.17 321 55.5C317.83 54.83 313.75 54.08 311 52.5C308.25 50.92 306.08 48.48 304.5 46C302.92 43.52 302 39 301.5 37.6Z" fill="#7a7a7a" opacity="0.9" filter="url(#b2)"/>
<path d="M394.5 37.6C393.75 37.15 392.08 35.17 390 34.9C387.92 34.63 384.67 35.23 382 36C379.33 36.77 376.58 38.08 374 39.5C371.42 40.92 368.58 42.75 366.5 44.5C364.42 46.25 362.42 48.33 361.5 50C360.58 51.67 360.25 53.42 361 54.5C361.75 55.58 363.67 56.33 366 56.5C368.33 56.67 371.83 56.17 375 55.5C378.17 54.83 382.25 54.08 385 52.5C387.75 50.92 389.92 48.48 391.5 46C393.08 43.52 394 39 394.5 37.6Z" fill="#7a7a7a" opacity="0.9" filter="url(#b2)"/>
<path d="M305 39.91C305.6 39.55 306.93 37.96 308.6 37.75C310.27 37.53 312.87 38.01 315 38.63C317.13 39.24 319.33 40.29 321.4 41.43C323.47 42.56 325.73 44.03 327.4 45.43C329.07 46.83 330.67 48.49 331.4 49.83C332.13 51.16 332.4 52.56 331.8 53.43C331.2 54.29 329.67 54.89 327.8 55.03C325.93 55.16 323.13 54.76 320.6 54.23C318.07 53.69 314.8 53.09 312.6 51.83C310.4 50.56 308.67 48.61 307.4 46.63C306.13 44.64 305.4 41.03 305 39.91Z" fill="#383838" opacity="0.95" filter="url(#b1)"/>
<path d="M391 39.91C390.4 39.55 389.07 37.96 387.4 37.75C385.73 37.53 383.13 38.01 381 38.63C378.87 39.24 376.67 40.29 374.6 41.43C372.53 42.56 370.27 44.03 368.6 45.43C366.93 46.83 365.33 48.49 364.6 49.83C363.87 51.16 363.6 52.56 364.2 53.43C364.8 54.29 366.33 54.89 368.2 55.03C370.07 55.16 372.87 54.76 375.4 54.23C377.93 53.69 381.2 53.09 383.4 51.83C385.6 50.56 387.33 48.61 388.6 46.63C389.87 44.64 390.6 41.03 391 39.91Z" fill="#383838" opacity="0.95" filter="url(#b1)"/>
<ellipse cx="311" cy="40.5" rx="4.5" ry="2.2" fill="#707070" opacity="0.7" filter="url(#b1)" transform="rotate(25 311 40.5)"/>
<ellipse cx="385" cy="40.5" rx="4.5" ry="2.2" fill="#707070" opacity="0.7" filter="url(#b1)" transform="rotate(-25 385 40.5)"/>
<ellipse cx="333.5" cy="55" rx="4.5" ry="2.6" fill="#7c7c7c" opacity="0.8" filter="url(#b2)" transform="rotate(25 333.5 55)"/>
<ellipse cx="365.5" cy="55" rx="4.5" ry="2.6" fill="#7c7c7c" opacity="0.8" filter="url(#b2)" transform="rotate(-25 365.5 55)"/>
<path d="M335 60 C337 51 345 51.5 350 51.5 C355 51.5 363 51 365.5 60 L366 72 C362 77 340 77 334.5 72Z" fill="#707070" filter="url(#b2)"/>
<path d="M343.5 62 C346 59 354 59 356 62 L356 73 L343.5 73Z" fill="#858585" filter="url(#b1)"/>
<ellipse cx="345.2" cy="66.3" rx="1.7" ry="1.7" fill="#c8c8c8" opacity="0.95" filter="url(#b1)" transform="rotate(0 345.2 66.3)"/>
<ellipse cx="352.4" cy="66.3" rx="1.7" ry="1.7" fill="#c8c8c8" opacity="0.95" filter="url(#b1)" transform="rotate(0 352.4 66.3)"/>
<ellipse cx="349" cy="76" rx="7" ry="2.5" fill="#8a8a8a" opacity="0.8" filter="url(#b2)" transform="rotate(0 349 76)"/>
</g>
<g filter="url(#b0)">
<path d="M298.6 12 L302.6 12 L321.5 66 L319 66Z" fill="#b9b6c4" stroke="#807d88" stroke-width="0.45"/>
<path d="M305 12 L310.5 12 L325.5 66 L321.5 66Z" fill="#b9b6c4" stroke="#807d88" stroke-width="0.45"/>
<path d="M386.8 12 L392.4 12 L376.8 66 L372 66Z" fill="#b9b6c4" stroke="#807d88" stroke-width="0.45"/>
<rect x="316.3" y="61.5" width="2.6" height="2.2" fill="#111" transform="rotate(20 316.3 61.5)"/>
<rect x="317.8" y="66.2" width="2.6" height="2.2" fill="#111" transform="rotate(20 317.8 66.2)"/>
<rect x="375.2" y="60.5" width="2.6" height="2.2" fill="#111" transform="rotate(-20 375.2 60.5)"/>
<rect x="373.8" y="64.5" width="2.6" height="2.2" fill="#111" transform="rotate(-20 373.8 64.5)"/>
<path d="M324.5 76 L327.5 76 L330 87 L327.5 87.5Z" fill="#222"/>
<rect x="325.6" y="79" width="2.4" height="2" fill="#eee" transform="rotate(15 326 80)"/>
<rect x="327" y="84" width="2.4" height="2" fill="#eee" transform="rotate(15 328 85)"/>
<path d="M372 77 L375.5 77 L372.5 88 L370 87.5Z" fill="#222"/>
<rect x="371.8" y="79.5" width="2.4" height="2" fill="#eee" transform="rotate(-15 373 80)"/>
<rect x="370.6" y="84.5" width="2.4" height="2" fill="#eee" transform="rotate(-15 372 85)"/>
<defs><linearGradient id="rb1" x1="0" y1="0.3" x2="1" y2="0.6"><stop offset="0" stop-color="#f5901a"/><stop offset="0.3" stop-color="#f4b030"/><stop offset="0.55" stop-color="#8fd8a0"/><stop offset="0.8" stop-color="#bfe060"/><stop offset="1" stop-color="#d8e050"/></linearGradient><linearGradient id="rb2" x1="1" y1="0.3" x2="0" y2="0.6"><stop offset="0" stop-color="#f5901a"/><stop offset="0.3" stop-color="#f4b030"/><stop offset="0.55" stop-color="#8fd8a0"/><stop offset="0.8" stop-color="#bfe060"/><stop offset="1" stop-color="#d8e050"/></linearGradient></defs>
<path d="M320 69 C321 65 327 64.5 331 66.5 C335 68.5 337 72 336 75 C332 77.5 325 77 321.5 75 C319.5 73 319.5 71 320 69Z" fill="url(#rb1)" filter="url(#b1)"/>
<ellipse cx="327.5" cy="67.2" rx="3.2" ry="1.8" fill="#2f98e0" opacity="0.95" filter="url(#b1)" transform="rotate(10 327.5 67.2)"/>
<path d="M380 69 C379 65 373 64.5 369 66.5 C365 68.5 363 72 364 75 C368 78 375 77.5 378.5 75.5 C380.5 73 380.5 71 380 69Z" fill="url(#rb2)" filter="url(#b1)"/>
<ellipse cx="373" cy="66.2" rx="3" ry="1.9" fill="#2a7fd0" opacity="0.95" filter="url(#b1)" transform="rotate(-10 373 66.2)"/>
</g>
<text x="305.4" y="81.8" font-size="6.8" text-anchor="start" fill="#333" font-family="'Liberation Sans','DejaVu Sans',sans-serif" font-weight="normal" stroke="#333" stroke-width="0.05">R</text>
<text x="390" y="82.2" font-size="6.8" text-anchor="start" fill="#333" font-family="'Liberation Sans','DejaVu Sans',sans-serif" font-weight="normal" stroke="#333" stroke-width="0.05">L</text>
</g>
<clipPath id="cc0"><rect x="23.25" y="125.8" width="78.6" height="81.7"/></clipPath>
<g clip-path="url(#cc0)" fill="none" stroke-linejoin="round">
<path d="M23.2 147.7l1.2 -5.1 1.1 -3.2 1.1 0 1.1 3.6 1.1 6.9 1.1 8.8 1.1 9.2 1.1 8.2 1.1 6.5 1.1 4.7 1.1 3.2 1.1 2.1 1.1 1.4 1.1 1 1.2 .8 1.1 .7 1.1 .6 1.1 .6 1.1 .5 1.1 .5 1.1 .4 1.1 .4 1.1 .4 1.1 .3 1.1 .4 1.1 .3 1.1 .3 1.1 .2 1.2 .3 1.1 .2 1.1 .2 1.1 .2 1.1 .2 1.1 .2 1.1 .2 1.1 .2 1.1 .1 1.1 .2 1.1 .1 1.1 .2 1.1 .1 1.1 .2 1.2 .1 1.1 .2 1.1 .2 1.1 .1 1.1 .2 1.1 .3 1.1 .2 1.1 .3 1.1 .3 1.1 .3 1.1 .2 1.1 .3 1.1 .2 1.1 .1 1.1 .2 1.2 .1 1.1 0 1.1 .1 1.1 0 1.1 .1 1.1 0 1.1 0 1.1 0 1.1 0 1.1 0 1.1 0 1.1 0 1.1 .1 1.1 0" stroke="#ecd3c0" stroke-width="0.7" opacity="0.72"/>
<path d="M23.2 105l1.2 -17.8 1.1 -15.6 1.1 -11.7 1.1 -6.5 1.1 -.1 1.1 6.6 1.1 13.1 1.1 18.2 1.1 21.3 1.1 21.9 1.1 19.9 1.1 16.4 1.1 12.1 1.1 8.2 1.2 5 1.1 2.9 1.1 1.5 1.1 .9 1.1 .5 1.1 .3 1.1 .2 1.1 .2 1.1 .2 1.1 .2 1.1 .2 1.1 .2 1.1 .1 1.1 .2 1.2 .1 1.1 .1 1.1 .2 1.1 .1 1.1 .1 1.1 .1 1.1 .1 1.1 .1 1.1 .1 1.1 .1 1.1 .1 1.1 .1 1.1 .1 1.1 .1 1.2 .1 1.1 .1 1.1 .2 1.1 .1 1.1 .1 1.1 .2 1.1 .2 1.1 .1 1.1 .2 1.1 .2 1.1 .2 1.1 .2 1.1 .1 1.1 .1 1.1 .1 1.2 .1 1.1 .1 1.1 0 1.1 0 1.1 0 1.1 .1 1.1 0 1.1 0 1.1 0 1.1 0 1.1 0 1.1 0 1.1 0 1.1 0" stroke="#c4c4c4" stroke-width="0.7" opacity="0.72"/>
<path d="M23.2 134.2l1.2 -3.8 1.1 -9.9 1.1 -14.3 1.1 -13.7 1.1 -6.7 1.1 4.7 1.1 15.8 1.1 21.9 1.1 21.7 1.1 17.2 1.1 11.5 1.1 6.8 1.1 3.9 1.1 2.3 1.2 1.7 1.1 1.3 1.1 1 1.1 .6 1.1 0 1.1 -1 1.1 -2.5 1.1 -4.5 1.1 -6.6 1.1 -8.1 1.1 -8.6 1.1 -7.1 1.1 -3.8 1.1 .6 1.2 4.9 1.1 8.1 1.1 9.4 1.1 8.9 1.1 7.2 1.1 5.2 1.1 3.4 1.1 1.9 1.1 1 1.1 .6 1.1 .3 1.1 .2 1.1 .1 1.1 .1 1.2 .1 1.1 .1 1.1 .2 1.1 .1 1.1 .1 1.1 .1 1.1 .1 1.1 .1 1.1 .2 1.1 .1 1.1 .1 1.1 .1 1.1 .1 1.1 .1 1.1 0 1.2 0 1.1 .1 1.1 0 1.1 0 1.1 0 1.1 0 1.1 0 1.1 0 1.1 0 1.1 0 1.1 0 1.1 0 1.1 0 1.1 0" stroke="#c4c4c4" stroke-width="0.7" opacity="0.72"/>
<path d="M23.2 181.9l1.2 3 1.1 2.6 1.1 2.2 1.1 1.9 1.1 1.5 1.1 1.4 1.1 1.1 1.1 1 1.1 .8 1.1 .8 1.1 .6 1.1 .5 1.1 .5 1.1 .4 1.2 .4 1.1 .3 1.1 .3 1.1 .3 1.1 .2 1.1 .2 1.1 .2 1.1 .2 1.1 .2 1.1 .1 1.1 .2 1.1 .1 1.1 .2 1.1 .1 1.2 .1 1.1 .1 1.1 0 1.1 -.1 1.1 -.3 1.1 -.5 1.1 -.8 1.1 -1.4 1.1 -1.7 1.1 -2.1 1.1 -2.2 1.1 -1.9 1.1 -1.2 1.1 -.3 1.2 .7 1.1 1.7 1.1 2.3 1.1 2.5 1.1 2.3 1.1 2 1.1 1.5 1.1 1.1 1.1 .7 1.1 .5 1.1 .3 1.1 .3 1.1 .2 1.1 .1 1.1 .1 1.2 .1 1.1 .1 1.1 0 1.1 .1 1.1 0 1.1 0 1.1 0 1.1 0 1.1 0 1.1 .1 1.1 0 1.1 0 1.1 0 1.1 0" stroke="#c4c4c4" stroke-width="0.7" opacity="0.72"/>
<path d="M23.2 196.2l1.2 .8 1.1 .7 1.1 .6 1.1 .6 1.1 .5 1.1 .4 1.1 .4 1.1 .4 1.1 .3 1.1 .4 1.1 .2 1.1 .3 1.1 .2 1.1 .3 1.2 .1 1.1 -.1 1.1 -.4 1.1 -1.3 1.1 -2.5 1.1 -3.6 1.1 -3.8 1.1 -2.5 1.1 -.1 1.1 2.6 1.1 4 1.1 3.9 1.1 2.8 1.1 1.7 1.2 .9 1.1 .3 1.1 .2 1.1 .1 1.1 .1 1.1 .1 1.1 0 1.1 .1 1.1 .1 1.1 0 1.1 .1 1.1 .1 1.1 .1 1.1 0 1.2 .1 1.1 .1 1.1 .1 1.1 .1 1.1 .1 1.1 .2 1.1 .1 1.1 .2 1.1 .2 1.1 .2 1.1 .2 1.1 .1 1.1 .1 1.1 .2 1.1 0 1.2 .1 1.1 .1 1.1 0 1.1 0 1.1 0 1.1 .1 1.1 0 1.1 0 1.1 0 1.1 0 1.1 0 1.1 0 1.1 0 1.1 0" stroke="#c4c4c4" stroke-width="0.7" opacity="0.72"/>
<path d="M23.2 179.9l1.2 4.4 1.1 3.6 1.1 2.9 1.1 2.3 1.1 1.6 1.1 .8 1.1 -.3 1.1 -1.8 1.1 -3.7 1.1 -5.7 1.1 -6.6 1.1 -5.8 1.1 -3.3 1.1 .3 1.2 3.5 1.1 5.3 1.1 5.9 1.1 5.6 1.1 4.8 1.1 4 1.1 3 1.1 2.1 1.1 1.5 1.1 .9 1.1 .5 1.1 .3 1.1 .2 1.1 .1 1.2 0 1.1 .1 1.1 0 1.1 .1 1.1 0 1.1 0 1.1 .1 1.1 0 1.1 0 1.1 .1 1.1 0 1.1 0 1.1 .1 1.1 0 1.2 0 1.1 .1 1.1 0 1.1 0 1.1 .1 1.1 0 1.1 .1 1.1 .1 1.1 0 1.1 .1 1.1 .1 1.1 0 1.1 .1 1.1 0 1.1 .1 1.2 0 1.1 0 1.1 0 1.1 0 1.1 0 1.1 0 1.1 0 1.1 .1 1.1 0 1.1 0 1.1 0 1.1 0 1.1 0 1.1 0" stroke="#c0d8ea" stroke-width="0.7" opacity="0.72"/>
<path d="M23.2 160l1.2 -1 1.1 -1.9 1.1 -2.6 1.1 -2.7 1.1 -2.1 1.1 -.9 1.1 .8 1.1 2.5 1.1 4.2 1.1 5.3 1.1 5.8 1.1 5.6 1.1 5 1.1 4.1 1.2 3.2 1.1 2.4 1.1 1.8 1.1 1.4 1.1 1 1.1 .9 1.1 .8 1.1 .7 1.1 .6 1.1 .6 1.1 .6 1.1 .5 1.1 .5 1.1 .5 1.2 .5 1.1 .3 1.1 .4 1.1 .2 1.1 .2 1.1 .1 1.1 -.1 1.1 -.1 1.1 -.3 1.1 -.3 1.1 -.2 1.1 -.2 1.1 .1 1.1 .2 1.2 .5 1.1 .6 1.1 .9 1.1 .9 1.1 .9 1.1 .9 1.1 .8 1.1 .7 1.1 .5 1.1 .6 1.1 .4 1.1 .3 1.1 .3 1.1 .2 1.1 .2 1.2 .1 1.1 .1 1.1 .1 1.1 0 1.1 0 1.1 .1 1.1 0 1.1 0 1.1 0 1.1 0 1.1 0 1.1 0 1.1 0 1.1 .1" stroke="#c4c4c4" stroke-width="0.7" opacity="0.72"/>
<path d="M23.2 175.7l1.2 2.2 1.1 1.7 1.1 1 1.1 .4 1.1 -.3 1.1 -.9 1.1 -1.4 1.1 -1.7 1.1 -1.7 1.1 -1.4 1.1 -.6 1.1 .3 1.1 1.2 1.1 2.2 1.2 2.9 1.1 3.4 1.1 3.5 1.1 3.3 1.1 2.9 1.1 2.4 1.1 1.9 1.1 1.4 1.1 1.1 1.1 .8 1.1 .5 1.1 .4 1.1 .3 1.1 .3 1.2 .2 1.1 .2 1.1 .2 1.1 .2 1.1 .1 1.1 .2 1.1 .1 1.1 .2 1.1 .1 1.1 .1 1.1 .2 1.1 .1 1.1 .1 1.1 .1 1.2 .2 1.1 .1 1.1 .2 1.1 .2 1.1 .2 1.1 .2 1.1 .2 1.1 .3 1.1 .3 1.1 .3 1.1 .3 1.1 .2 1.1 .2 1.1 .2 1.1 .1 1.2 .2 1.1 0 1.1 .1 1.1 0 1.1 .1 1.1 0 1.1 0 1.1 0 1.1 0 1.1 0 1.1 0 1.1 0 1.1 0 1.1 0" stroke="#c4c4c4" stroke-width="0.7" opacity="0.72"/>
<path d="M23.2 185.4l1.2 .8 1.1 .5 1.1 .2 1.1 -.3 1.1 -.6 1.1 -1 1.1 -1.3 1.1 -1.4 1.1 -1.3 1.1 -.9 1.1 -.4 1.1 .4 1.1 1.1 1.1 1.9 1.2 2.3 1.1 2.5 1.1 2.5 1.1 2.4 1.1 2 1.1 1.6 1.1 1.3 1.1 1 1.1 .7 1.1 .6 1.1 .4 1.1 .3 1.1 .3 1.1 .3 1.2 .2 1.1 .3 1.1 .2 1.1 .2 1.1 .2 1.1 .2 1.1 .1 1.1 .2 1.1 .2 1.1 .1 1.1 .2 1.1 .2 1.1 .1 1.1 .2 1.2 .1 1.1 .2 1.1 .2 1.1 .2 1.1 .2 1.1 .2 1.1 .3 1.1 .3 1.1 .3 1.1 .3 1.1 .2 1.1 .3 1.1 .2 1.1 .1 1.1 .2 1.2 .1 1.1 .1 1.1 0 1.1 0 1.1 .1 1.1 0 1.1 0 1.1 0 1.1 0 1.1 0 1.1 0 1.1 .1 1.1 0 1.1 0" stroke="#c4c4c4" stroke-width="0.7" opacity="0.72"/>
<path d="M23.2 187.1l1.2 1.5 1.1 1.3 1.1 1.3 1.1 1.2 1.1 1 1.1 1 1.1 1 1.1 .8 1.1 .8 1.1 .7 1.1 .6 1.1 .5 1.1 .3 1.1 .1 1.2 -.3 1.1 -.7 1.1 -1.4 1.1 -2.1 1.1 -2.7 1.1 -3.3 1.1 -3.6 1.1 -3.5 1.1 -3 1.1 -2.2 1.1 -1.1 1.1 0 1.1 1.2 1.1 2.2 1.2 3 1.1 3.5 1.1 3.8 1.1 3.7 1.1 3.4 1.1 2.9 1.1 2.3 1.1 1.7 1.1 1.2 1.1 .8 1.1 .5 1.1 .3 1.1 .2 1.1 .2 1.2 .1 1.1 .1 1.1 .1 1.1 0 1.1 .1 1.1 .1 1.1 .1 1.1 .1 1.1 .2 1.1 .1 1.1 .1 1.1 0 1.1 .1 1.1 .1 1.1 0 1.2 .1 1.1 0 1.1 0 1.1 0 1.1 0 1.1 0 1.1 0 1.1 0 1.1 0 1.1 0 1.1 .1 1.1 0 1.1 0 1.1 0" stroke="#c4c4c4" stroke-width="0.7" opacity="0.72"/>
<path d="M23.2 149.7l1.2 2.9 1.1 2.5 1.1 2.1 1.1 1.4 1.1 .5 1.1 -.7 1.1 -2.2 1.1 -3.3 1.1 -3.8 1.1 -3.7 1.1 -2.6 1.1 -1 1.1 .3 1.1 1.2 1.2 1.6 1.1 1.5 1.1 1.7 1.1 2.1 1.1 3.1 1.1 4.3 1.1 5.3 1.1 5.9 1.1 5.8 1.1 5.2 1.1 4.3 1.1 3.4 1.1 2.5 1.1 1.8 1.2 1.3 1.1 1 1.1 .7 1.1 .6 1.1 .6 1.1 .5 1.1 .5 1.1 .5 1.1 .4 1.1 .4 1.1 .5 1.1 .4 1.1 .4 1.1 .3 1.2 .4 1.1 .4 1.1 .5 1.1 .4 1.1 .5 1.1 .5 1.1 .5 1.1 .6 1.1 .6 1.1 .5 1.1 .6 1.1 .4 1.1 .4 1.1 .3 1.1 .3 1.2 .2 1.1 .1 1.1 .1 1.1 .1 1.1 0 1.1 .1 1.1 0 1.1 0 1.1 0 1.1 0 1.1 .1 1.1 0 1.1 0 1.1 0" stroke="#c4c4c4" stroke-width="0.7" opacity="0.72"/>
<path d="M23.2 190l1.2 .6 1.1 .2 1.1 -.8 1.1 -2 1.1 -4.1 1.1 -6.3 1.1 -8.6 1.1 -10.1 1.1 -9.9 1.1 -7.6 1.1 -3.5 1.1 1.7 1.1 6.5 1.1 9.9 1.2 11.2 1.1 10.5 1.1 8.6 1.1 6.3 1.1 4.1 1.1 2.5 1.1 1.4 1.1 .8 1.1 .4 1.1 .3 1.1 .3 1.1 .2 1.1 .2 1.1 .1 1.2 .2 1.1 .2 1.1 .1 1.1 .2 1.1 .1 1.1 .1 1.1 .2 1.1 .1 1.1 .1 1.1 .1 1.1 .1 1.1 .1 1.1 .1 1.1 .1 1.2 .2 1.1 .1 1.1 .1 1.1 .2 1.1 .1 1.1 .2 1.1 .2 1.1 .2 1.1 .2 1.1 .3 1.1 .2 1.1 .2 1.1 .1 1.1 .2 1.1 .1 1.2 .1 1.1 0 1.1 .1 1.1 0 1.1 0 1.1 0 1.1 0 1.1 .1 1.1 0 1.1 0 1.1 0 1.1 0 1.1 0 1.1 0" stroke="#c4c4c4" stroke-width="0.7" opacity="0.72"/>
<path d="M23.2 184.6l1.2 -.6 1.1 -1.3 1.1 -1.8 1.1 -2 1.1 -1.8 1.1 -1.2 1.1 -.3 1.1 .8 1.1 1.5 1.1 1.7 1.1 1.4 1.1 .5 1.1 -.5 1.1 -1.1 1.2 -1 1.1 -.2 1.1 1.3 1.1 2.7 1.1 3.8 1.1 4.2 1.1 3.9 1.1 3.1 1.1 2.3 1.1 1.5 1.1 1 1.1 .5 1.1 .4 1.1 .2 1.2 .2 1.1 .2 1.1 .1 1.1 .2 1.1 .1 1.1 .1 1.1 .1 1.1 .2 1.1 .1 1.1 .1 1.1 .1 1.1 .1 1.1 .1 1.1 .1 1.2 .1 1.1 .1 1.1 .1 1.1 .1 1.1 .1 1.1 .2 1.1 .1 1.1 .2 1.1 .2 1.1 .1 1.1 .2 1.1 .2 1.1 .1 1.1 .1 1.1 .1 1.2 0 1.1 .1 1.1 0 1.1 0 1.1 .1 1.1 0 1.1 0 1.1 0 1.1 0 1.1 0 1.1 0 1.1 0 1.1 0 1.1 0" stroke="#c4c4c4" stroke-width="0.7" opacity="0.72"/>
<path d="M23.2 159.2l1.2 -2 1.1 -3 1.1 -4 1.1 -4.4 1.1 -4.4 1.1 -3.6 1.1 -2.2 1.1 -.4 1.1 1.8 1.1 3.9 1.1 5.6 1.1 6.6 1.1 7.1 1.1 7 1.2 6.3 1.1 5.3 1.1 4.3 1.1 3.3 1.1 2.5 1.1 1.8 1.1 1.4 1.1 1 1.1 .8 1.1 .7 1.1 .6 1.1 .6 1.1 .5 1.1 .5 1.2 .4 1.1 .4 1.1 .4 1.1 .4 1.1 .4 1.1 .4 1.1 .3 1.1 .3 1.1 .3 1.1 .3 1.1 .3 1.1 .3 1.1 .3 1.1 .3 1.2 .3 1.1 .3 1.1 .3 1.1 .3 1.1 .4 1.1 .3 1.1 .5 1.1 .4 1.1 .5 1.1 .4 1.1 .5 1.1 .4 1.1 .3 1.1 .2 1.1 .2 1.2 .2 1.1 .1 1.1 .1 1.1 0 1.1 .1 1.1 0 1.1 0 1.1 0 1.1 .1 1.1 0 1.1 0 1.1 0 1.1 0 1.1 0" stroke="#ecd3c0" stroke-width="0.7" opacity="0.72"/>
<path d="M23.2 187.9l1.2 1.7 1.1 1.5 1.1 1.4 1.1 1.2 1.1 1.1 1.1 .9 1.1 .6 1.1 .2 1.1 -.6 1.1 -1.7 1.1 -3.4 1.1 -5.3 1.1 -7.3 1.1 -8.7 1.2 -8.9 1.1 -7.4 1.1 -4.4 1.1 -.2 1.1 4.1 1.1 7.6 1.1 9.4 1.1 9.6 1.1 8.4 1.1 6.5 1.1 4.6 1.1 3 1.1 1.7 1.1 .9 1.2 .5 1.1 .3 1.1 .2 1.1 .1 1.1 .1 1.1 .1 1.1 .1 1.1 .1 1.1 .1 1.1 0 1.1 .1 1.1 .1 1.1 0 1.1 .1 1.2 .1 1.1 0 1.1 .1 1.1 .1 1.1 0 1.1 .1 1.1 .1 1.1 .1 1.1 .1 1.1 .1 1.1 .1 1.1 .1 1.1 .1 1.1 .1 1.1 0 1.2 0 1.1 .1 1.1 0 1.1 0 1.1 0 1.1 0 1.1 0 1.1 0 1.1 0 1.1 0 1.1 0 1.1 0 1.1 0 1.1 0" stroke="#c4c4c4" stroke-width="0.7" opacity="0.72"/>
<path d="M23.2 151.3l1.2 -8.9 1.1 -8.6 1.1 -6.9 1.1 -4.1 1.1 -.7 1.1 3.1 1.1 6.4 1.1 8.9 1.1 10.1 1.1 10.3 1.1 9.5 1.1 8.1 1.1 6.4 1.1 4.7 1.2 3.3 1.1 2.3 1.1 1.5 1.1 .9 1.1 .7 1.1 .5 1.1 .2 1.1 0 1.1 -.6 1.1 -1.6 1.1 -3.2 1.1 -5.3 1.1 -7.6 1.1 -9.2 1.2 -9 1.1 -6.6 1.1 -2.3 1.1 2.9 1.1 7.2 1.1 9.4 1.1 9.6 1.1 7.9 1.1 5.7 1.1 3.5 1.1 2 1.1 1 1.1 .6 1.1 .3 1.2 .2 1.1 .2 1.1 .1 1.1 .3 1.1 .2 1.1 .2 1.1 .3 1.1 .3 1.1 .3 1.1 .3 1.1 .3 1.1 .2 1.1 .3 1.1 .1 1.1 .2 1.2 .1 1.1 0 1.1 .1 1.1 0 1.1 .1 1.1 0 1.1 0 1.1 0 1.1 0 1.1 0 1.1 0 1.1 0 1.1 .1 1.1 0" stroke="#c4c4c4" stroke-width="0.7" opacity="0.72"/>
<path d="M23.2 150.2l1.2 5.9 1.1 2.8 1.1 -1.3 1.1 -6 1.1 -10 1.1 -11.1 1.1 -7.9 1.1 -1 1.1 7.6 1.1 14 1.1 16.6 1.1 15.2 1.1 11.4 1.1 7.4 1.2 4.2 1.1 2.3 1.1 1.3 1.1 .8 1.1 .6 1.1 .5 1.1 .4 1.1 .3 1.1 .3 1.1 .3 1.1 .2 1.1 .2 1.1 .2 1.1 .1 1.2 .2 1.1 .1 1.1 .1 1.1 .1 1.1 .1 1.1 .1 1.1 .1 1.1 0 1.1 .1 1.1 0 1.1 .1 1.1 0 1.1 .1 1.1 0 1.2 .1 1.1 0 1.1 .1 1.1 0 1.1 .1 1.1 0 1.1 .1 1.1 .1 1.1 .1 1.1 .1 1.1 0 1.1 .1 1.1 .1 1.1 0 1.1 0 1.2 .1 1.1 0 1.1 0 1.1 0 1.1 0 1.1 0 1.1 0 1.1 0 1.1 .1 1.1 0 1.1 0 1.1 0 1.1 0 1.1 0" stroke="#c4c4c4" stroke-width="0.7" opacity="0.72"/>
<path d="M23.2 163.2l1.2 3.9 1.1 3.5 1.1 3.2 1.1 2.9 1.1 2.7 1.1 2.4 1.1 2.1 1.1 2 1.1 1.8 1.1 1.6 1.1 1.5 1.1 1.4 1.1 1.2 1.1 1.1 1.2 1 1.1 1 1.1 .8 1.1 .8 1.1 .7 1.1 .6 1.1 .6 1.1 .5 1.1 .5 1.1 .5 1.1 .4 1.1 .3 1.1 .3 1.1 .1 1.2 0 1.1 -.4 1.1 -1 1.1 -2 1.1 -3.3 1.1 -5.2 1.1 -7.4 1.1 -9.6 1.1 -10.8 1.1 -10.4 1.1 -8.1 1.1 -3.8 1.1 1.3 1.1 6 1.2 9.1 1.1 10.4 1.1 10.2 1.1 8.7 1.1 7 1.1 5.1 1.1 3.5 1.1 2.3 1.1 1.3 1.1 .8 1.1 .5 1.1 .3 1.1 .1 1.1 .1 1.1 .1 1.2 .1 1.1 0 1.1 0 1.1 .1 1.1 0 1.1 0 1.1 0 1.1 0 1.1 0 1.1 0 1.1 0 1.1 0 1.1 0 1.1 0" stroke="#c4c4c4" stroke-width="0.7" opacity="0.72"/>
<path d="M23.2 193l1.2 .6 1.1 .5 1.1 .5 1.1 .4 1.1 .4 1.1 .3 1.1 -.1 1.1 -.6 1.1 -1.6 1.1 -3 1.1 -4.2 1.1 -4.7 1.1 -3.8 1.1 -1.5 1.2 1.5 1.1 3.9 1.1 5.2 1.1 5 1.1 3.9 1.1 2.5 1.1 1.4 1.1 .8 1.1 .4 1.1 .3 1.1 .2 1.1 .2 1.1 .1 1.1 .2 1.2 .2 1.1 .1 1.1 .2 1.1 .1 1.1 .2 1.1 .1 1.1 .2 1.1 .1 1.1 .1 1.1 .1 1.1 .2 1.1 .1 1.1 .1 1.1 .2 1.2 .1 1.1 .2 1.1 .1 1.1 .2 1.1 .2 1.1 .3 1.1 .2 1.1 .3 1.1 .3 1.1 .3 1.1 .3 1.1 .3 1.1 .2 1.1 .2 1.1 .1 1.2 .1 1.1 .1 1.1 .1 1.1 0 1.1 0 1.1 .1 1.1 0 1.1 0 1.1 0 1.1 0 1.1 0 1.1 0 1.1 0 1.1 0" stroke="#c4c4c4" stroke-width="0.7" opacity="0.72"/>
<path d="M23.2 167.8l1.2 2.1 1.1 1.9 1.1 1.8 1.1 1.7 1.1 1.6 1.1 1.5 1.1 1.4 1.1 1.3 1.1 1.3 1.1 1.1 1.1 .8 1.1 .4 1.1 -.7 1.1 -2.6 1.2 -5.1 1.1 -7.5 1.1 -8.2 1.1 -6 1.1 -1 1.1 4.6 1.1 8.4 1.1 9.2 1.1 7.8 1.1 5.4 1.1 3.5 1.1 2.1 1.1 1.3 1.1 .9 1.2 .7 1.1 .5 1.1 .4 1.1 .4 1.1 .4 1.1 .4 1.1 .3 1.1 .3 1.1 .3 1.1 .3 1.1 .3 1.1 .3 1.1 .2 1.1 .3 1.2 .3 1.1 .3 1.1 .3 1.1 .3 1.1 .3 1.1 .4 1.1 .4 1.1 .4 1.1 .5 1.1 .4 1.1 .4 1.1 .3 1.1 .3 1.1 .3 1.1 .2 1.2 .1 1.1 .1 1.1 .1 1.1 .1 1.1 0 1.1 0 1.1 0 1.1 .1 1.1 0 1.1 0 1.1 0 1.1 0 1.1 0 1.1 0" stroke="#c4c4c4" stroke-width="0.7" opacity="0.72"/>
<path d="M23.2 140.1l1.2 6.7 1.1 6 1.1 5.4 1.1 4.8 1.1 4.3 1.1 3.8 1.1 3.5 1.1 3.1 1.1 2.7 1.1 2.5 1.1 2.2 1.1 2 1.1 1.8 1.1 1.6 1.2 1.4 1.1 1.3 1.1 1.2 1.1 1 1.1 1 1.1 .8 1.1 .7 1.1 .6 1.1 .3 1.1 -.3 1.1 -1.6 1.1 -3.6 1.1 -7 1.1 -11.3 1.2 -15.5 1.1 -18 1.1 -17.2 1.1 -11.9 1.1 -3.2 1.1 6.7 1.1 14.5 1.1 18.4 1.1 18 1.1 14.8 1.1 10.5 1.1 6.4 1.1 3.5 1.1 1.7 1.2 .8 1.1 .4 1.1 .2 1.1 .2 1.1 .2 1.1 .2 1.1 .2 1.1 .2 1.1 .2 1.1 .2 1.1 .2 1.1 .2 1.1 .2 1.1 .1 1.1 .1 1.2 .1 1.1 0 1.1 .1 1.1 0 1.1 0 1.1 0 1.1 .1 1.1 0 1.1 0 1.1 0 1.1 0 1.1 0 1.1 0 1.1 0" stroke="#c4c4c4" stroke-width="0.7" opacity="0.72"/>
<path d="M23.2 167.7l1.2 5.3 1.1 4.3 1.1 3.7 1.1 3.1 1.1 2.6 1.1 2.1 1.1 1.2 1.1 -.2 1.1 -2.8 1.1 -7.4 1.1 -13.8 1.1 -20.4 1.1 -24.5 1.1 -22.5 1.2 -13.3 1.1 1.1 1.1 15.2 1.1 23.9 1.1 25.1 1.1 20.5 1.1 13.2 1.1 5.9 1.1 .1 1.1 -4.7 1.1 -8.7 1.1 -12.1 1.1 -14.6 1.1 -15.7 1.2 -14.6 1.1 -10.9 1.1 -5.2 1.1 1.5 1.1 8 1.1 12.9 1.1 15.6 1.1 15.8 1.1 14.2 1.1 11.4 1.1 8.3 1.1 5.6 1.1 3.5 1.1 2 1.2 1.1 1.1 .6 1.1 .4 1.1 .2 1.1 .2 1.1 .2 1.1 .3 1.1 .2 1.1 .3 1.1 .3 1.1 .2 1.1 .3 1.1 .2 1.1 .1 1.1 .2 1.2 .1 1.1 0 1.1 .1 1.1 0 1.1 .1 1.1 0 1.1 0 1.1 0 1.1 0 1.1 0 1.1 0 1.1 0 1.1 0 1.1 .1" stroke="#c4c4c4" stroke-width="0.7" opacity="0.72"/>
<path d="M23.2 154.3l1.2 4.7 1.1 4.2 1.1 3.8 1.1 3.8 1.1 3.8 1.1 3.9 1.1 3.8 1.1 3.6 1.1 3.2 1.1 2.8 1.1 2.3 1.1 1.9 1.1 1.4 1.1 1.1 1.2 .9 1.1 .6 1.1 .5 1.1 .2 1.1 -.2 1.1 -.8 1.1 -1.7 1.1 -2.6 1.1 -2.9 1.1 -2.2 1.1 -.7 1.1 1.2 1.1 2.8 1.1 3.2 1.2 2.9 1.1 2 1.1 1.2 1.1 .6 1.1 .3 1.1 .2 1.1 .1 1.1 .1 1.1 .1 1.1 .1 1.1 .1 1.1 0 1.1 .1 1.1 .1 1.2 .1 1.1 .1 1.1 .1 1.1 .2 1.1 .1 1.1 .2 1.1 .2 1.1 .2 1.1 .2 1.1 .3 1.1 .2 1.1 .2 1.1 .1 1.1 .2 1.1 .1 1.2 0 1.1 .1 1.1 .1 1.1 0 1.1 0 1.1 0 1.1 0 1.1 0 1.1 .1 1.1 0 1.1 0 1.1 0 1.1 0 1.1 0" stroke="#c0d8ea" stroke-width="0.7" opacity="0.72"/>
<path d="M23.2 134.3l1.2 4.9 1.1 4.6 1.1 4.3 1.1 3.9 1.1 3.6 1.1 3.2 1.1 2.6 1.1 1.7 1.1 .3 1.1 -1.6 1.1 -4.3 1.1 -7.3 1.1 -10.1 1.1 -11.8 1.2 -11.5 1.1 -8.8 1.1 -3.9 1.1 2.4 1.1 8.4 1.1 12.8 1.1 14.8 1.1 14.5 1.1 12.5 1.1 9.6 1.1 6.8 1.1 4.4 1.1 2.8 1.1 1.8 1.2 1.1 1.1 .9 1.1 .6 1.1 .6 1.1 .5 1.1 .5 1.1 .4 1.1 .4 1.1 .1 1.1 -.3 1.1 -1.3 1.1 -3 1.1 -5.3 1.1 -8 1.2 -9.9 1.1 -9.4 1.1 -6.1 1.1 -.3 1.1 5.7 1.1 10 1.1 11 1.1 9.5 1.1 6.6 1.1 3.9 1.1 2 1.1 1 1.1 .5 1.1 .3 1.1 .2 1.2 .1 1.1 .1 1.1 .1 1.1 0 1.1 0 1.1 .1 1.1 0 1.1 0 1.1 0 1.1 0 1.1 0 1.1 0 1.1 0 1.1 0" stroke="#c4c4c4" stroke-width="0.7" opacity="0.72"/>
<path d="M23.2 168.2l1.2 2.5 1.1 2.3 1.1 2.1 1.1 2.1 1.1 1.8 1.1 1.8 1.1 1.6 1.1 1.5 1.1 1.2 1.1 .7 1.1 -.2 1.1 -1.7 1.1 -4.2 1.1 -7.4 1.2 -10.6 1.1 -12.9 1.1 -12.5 1.1 -9.1 1.1 -2.9 1.1 4.6 1.1 10.7 1.1 14.1 1.1 14.2 1.1 12 1.1 8.8 1.1 5.6 1.1 3.3 1.1 1.8 1.2 1 1.1 .6 1.1 .4 1.1 .3 1.1 .3 1.1 .3 1.1 .3 1.1 .2 1.1 .3 1.1 .2 1.1 .2 1.1 .2 1.1 .2 1.1 .2 1.2 .2 1.1 .2 1.1 .2 1.1 .2 1.1 .2 1.1 .3 1.1 .2 1.1 .3 1.1 .3 1.1 .2 1.1 .3 1.1 .2 1.1 .1 1.1 .2 1.1 .1 1.2 .1 1.1 0 1.1 .1 1.1 0 1.1 0 1.1 0 1.1 .1 1.1 0 1.1 0 1.1 0 1.1 0 1.1 0 1.1 0 1.1 0" stroke="#c4c4c4" stroke-width="0.7" opacity="0.72"/>
<path d="M23.2 149.7l1.2 4.1 1.1 3.8 1.1 3.5 1.1 3.3 1.1 3 1.1 2.8 1.1 2.6 1.1 2.4 1.1 2.3 1.1 2.1 1.1 1.9 1.1 1.8 1.1 1.6 1.1 1.6 1.2 1.4 1.1 1.3 1.1 1.3 1.1 1.1 1.1 1.1 1.1 1 1.1 .9 1.1 .8 1.1 .7 1.1 .6 1.1 0 1.1 -1 1.1 -3.1 1.1 -6.5 1.2 -11.1 1.1 -15.5 1.1 -17.6 1.1 -15.4 1.1 -8.3 1.1 2 1.1 11.5 1.1 17.4 1.1 18.2 1.1 15 1.1 10.4 1.1 6.2 1.1 3.2 1.1 1.4 1.2 .7 1.1 .4 1.1 .3 1.1 .2 1.1 .2 1.1 .3 1.1 .2 1.1 .3 1.1 .2 1.1 .3 1.1 .2 1.1 .2 1.1 .1 1.1 .2 1.1 .1 1.2 0 1.1 .1 1.1 0 1.1 0 1.1 .1 1.1 0 1.1 0 1.1 0 1.1 0 1.1 0 1.1 0 1.1 0 1.1 0 1.1 0" stroke="#c4c4c4" stroke-width="0.7" opacity="0.72"/>
<path d="M23.2 121.3l1.2 -3.4 1.1 -11.2 1.1 -20.5 1.1 -29.5 1.1 -33.8 1.1 -28.5 1.1 -12.3 1.1 10 1.1 29.7 1.1 39.5 1.1 39 1.1 32 1.1 23.5 1.1 16.3 1.2 11.1 1.1 7.5 1.1 5.1 1.1 3.3 1.1 2.1 1.1 1.3 1.1 .8 1.1 .6 1.1 .4 1.1 .3 1.1 .2 1.1 .2 1.1 .1 1.1 .2 1.2 .1 1.1 .1 1.1 .1 1.1 .1 1.1 .1 1.1 .1 1.1 .1 1.1 0 1.1 .1 1.1 0 1.1 .1 1.1 0 1.1 .1 1.1 0 1.2 .1 1.1 0 1.1 .1 1.1 .1 1.1 0 1.1 .1 1.1 .1 1.1 .1 1.1 .1 1.1 .1 1.1 .1 1.1 .1 1.1 .1 1.1 .1 1.1 0 1.2 0 1.1 .1 1.1 0 1.1 0 1.1 0 1.1 0 1.1 0 1.1 0 1.1 0 1.1 0 1.1 0 1.1 0 1.1 0 1.1 0" stroke="#ecd3c0" stroke-width="0.7" opacity="0.72"/>
<path d="M23.2 145.6l1.2 -11.1 1.1 -7.9 1.1 -2.6 1.1 3.6 1.1 9.1 1.1 12.6 1.1 13.6 1.1 12.4 1.1 9.9 1.1 7.1 1.1 4.6 1.1 2.8 1.1 1.6 1.1 .9 1.2 .5 1.1 .4 1.1 .3 1.1 .3 1.1 .2 1.1 .2 1.1 .2 1.1 0 1.1 -.3 1.1 -.6 1.1 -1.5 1.1 -2.6 1.1 -3.9 1.1 -5.3 1.2 -6.1 1.1 -5.9 1.1 -4.4 1.1 -1.6 1.1 1.4 1.1 4.3 1.1 5.9 1.1 6.4 1.1 5.6 1.1 4.3 1.1 3 1.1 1.7 1.1 1 1.1 .5 1.2 .3 1.1 .1 1.1 .1 1.1 0 1.1 .1 1.1 .1 1.1 .1 1.1 .1 1.1 0 1.1 .1 1.1 .1 1.1 .1 1.1 .1 1.1 0 1.1 0 1.2 .1 1.1 0 1.1 0 1.1 0 1.1 0 1.1 0 1.1 0 1.1 0 1.1 .1 1.1 0 1.1 0 1.1 0 1.1 0 1.1 0" stroke="#c4c4c4" stroke-width="0.7" opacity="0.72"/>
<path d="M23.2 191.6l1.2 1.5 1.1 1.3 1.1 1.1 1.1 .9 1.1 .8 1.1 .6 1.1 .4 1.1 .1 1.1 -.8 1.1 -2.3 1.1 -4.8 1.1 -8.5 1.1 -12.3 1.1 -14.7 1.2 -14.1 1.1 -9.4 1.1 -1.5 1.1 7 1.1 13.2 1.1 15.3 1.1 13.9 1.1 10.2 1.1 6 1.1 1.9 1.1 -2.2 1.1 -6.8 1.1 -11.4 1.1 -13.9 1.2 -12.5 1.1 -6.1 1.1 3 1.1 10.9 1.1 14.2 1.1 13.1 1.1 9.2 1.1 5.3 1.1 2.5 1.1 1.1 1.1 .4 1.1 .1 1.1 .1 1.1 .2 1.2 .1 1.1 .1 1.1 .1 1.1 .1 1.1 .2 1.1 .2 1.1 .2 1.1 .2 1.1 .3 1.1 .2 1.1 .3 1.1 .2 1.1 .2 1.1 .1 1.1 .1 1.2 .1 1.1 .1 1.1 0 1.1 .1 1.1 0 1.1 0 1.1 0 1.1 0 1.1 0 1.1 0 1.1 .1 1.1 0 1.1 0 1.1 0" stroke="#c4c4c4" stroke-width="0.7" opacity="0.72"/>
<path d="M23.2 175.8l1.2 3.4 1.1 3.1 1.1 2.6 1.1 2.4 1.1 2 1.1 1.9 1.1 1.6 1.1 1.4 1.1 1.2 1.1 .9 1.1 .5 1.1 -.1 1.1 -1 1.1 -2 1.2 -3 1.1 -3.4 1.1 -3.1 1.1 -1.7 1.1 .3 1.1 2.4 1.1 3.8 1.1 4.3 1.1 3.9 1.1 3 1.1 2 1.1 1.2 1.1 .6 1.1 .4 1.2 .2 1.1 .2 1.1 .1 1.1 .1 1.1 .1 1.1 .1 1.1 .1 1.1 .1 1.1 .1 1.1 .1 1.1 0 1.1 .1 1.1 .1 1.1 .1 1.2 0 1.1 .1 1.1 .1 1.1 .1 1.1 .1 1.1 .1 1.1 .1 1.1 .1 1.1 .2 1.1 .1 1.1 .2 1.1 .1 1.1 .1 1.1 .1 1.1 0 1.2 .1 1.1 0 1.1 0 1.1 .1 1.1 0 1.1 0 1.1 0 1.1 0 1.1 0 1.1 0 1.1 0 1.1 0 1.1 0 1.1 0" stroke="#c4c4c4" stroke-width="0.7" opacity="0.72"/>
<path d="M23.2 179l1.2 -4.7 1.1 -1.8 1.1 2.2 1.1 5.5 1.1 6.7 1.1 5.8 1.1 4 1.1 2.3 1.1 1.2 1.1 .6 1.1 .3 1.1 .3 1.1 .2 1.1 .2 1.2 .2 1.1 .2 1.1 .1 1.1 .2 1.1 .1 1.1 .2 1.1 .1 1.1 .1 1.1 .2 1.1 .1 1.1 .1 1.1 .1 1.1 .1 1.1 .1 1.2 .1 1.1 .1 1.1 .1 1.1 .1 1.1 .1 1.1 0 1.1 .1 1.1 .1 1.1 .1 1.1 .1 1.1 0 1.1 .1 1.1 .1 1.1 .1 1.2 .1 1.1 .1 1.1 .1 1.1 .1 1.1 .2 1.1 .1 1.1 .2 1.1 .2 1.1 .3 1.1 .2 1.1 .2 1.1 .2 1.1 .1 1.1 .2 1.1 .1 1.2 .1 1.1 0 1.1 .1 1.1 0 1.1 0 1.1 0 1.1 0 1.1 .1 1.1 0 1.1 0 1.1 0 1.1 0 1.1 0 1.1 0" stroke="#c4c4c4" stroke-width="0.7" opacity="0.72"/>
<path d="M23.2 146.4l1.2 4.2 1.1 3.9 1.1 3.7 1.1 3.3 1.1 3.2 1.1 2.9 1.1 2.7 1.1 2.6 1.1 2.3 1.1 2.2 1.1 2 1.1 1.9 1.1 1.8 1.1 1.6 1.2 1.6 1.1 1.4 1.1 1.3 1.1 1.2 1.1 1.2 1.1 1.1 1.1 1 1.1 .9 1.1 .8 1.1 .8 1.1 .7 1.1 .6 1.1 .5 1.1 .2 1.2 0 1.1 -.3 1.1 -.8 1.1 -1.2 1.1 -1.6 1.1 -1.8 1.1 -1.8 1.1 -1.4 1.1 -.8 1.1 0 1.1 .9 1.1 1.6 1.1 2.3 1.1 2.4 1.2 2.5 1.1 2.1 1.1 1.8 1.1 1.4 1.1 1 1.1 .7 1.1 .6 1.1 .4 1.1 .3 1.1 .3 1.1 .2 1.1 .2 1.1 .1 1.1 .2 1.1 .1 1.2 0 1.1 .1 1.1 0 1.1 0 1.1 .1 1.1 0 1.1 0 1.1 0 1.1 0 1.1 0 1.1 0 1.1 0 1.1 0 1.1 0" stroke="#c4c4c4" stroke-width="0.7" opacity="0.72"/>
<path d="M23.2 142.8l1.2 3.6 1.1 3.4 1.1 3 1.1 2.7 1.1 2.1 1.1 1.5 1.1 .6 1.1 -.5 1.1 -1.6 1.1 -2.5 1.1 -3 1.1 -2.8 1.1 -1.9 1.1 -.3 1.2 1.7 1.1 3.7 1.1 5.3 1.1 6.1 1.1 6.2 1.1 5.8 1.1 4.8 1.1 3.8 1.1 2.8 1.1 2.1 1.1 1.6 1.1 1.2 1.1 .9 1.1 .9 1.2 .7 1.1 .7 1.1 .6 1.1 .6 1.1 .6 1.1 .5 1.1 .5 1.1 .5 1.1 .4 1.1 .5 1.1 .4 1.1 .4 1.1 .4 1.1 .4 1.2 .3 1.1 .4 1.1 .4 1.1 .4 1.1 .4 1.1 .5 1.1 .4 1.1 .5 1.1 .5 1.1 .5 1.1 .4 1.1 .4 1.1 .3 1.1 .2 1.1 .2 1.2 .1 1.1 .1 1.1 .1 1.1 .1 1.1 0 1.1 0 1.1 .1 1.1 0 1.1 0 1.1 0 1.1 0 1.1 0 1.1 0 1.1 0" stroke="#c4c4c4" stroke-width="0.7" opacity="0.72"/>
<path d="M23.2 186.3l1.2 -1 1.1 -.4 1.1 .3 1.1 1 1.1 1.7 1.1 2 1.1 2.2 1.1 2.2 1.1 1.8 1.1 1.6 1.1 1.2 1.1 .9 1.1 .7 1.1 .5 1.2 .3 1.1 .3 1.1 .2 1.1 .2 1.1 .2 1.1 .2 1.1 .1 1.1 .1 1.1 0 1.1 -.4 1.1 -1 1.1 -1.8 1.1 -2.4 1.1 -2.4 1.2 -1.4 1.1 .4 1.1 2 1.1 2.8 1.1 2.5 1.1 1.8 1.1 1 1.1 .5 1.1 .3 1.1 .1 1.1 .1 1.1 .1 1.1 .1 1.1 .1 1.2 .1 1.1 .1 1.1 .1 1.1 .2 1.1 .1 1.1 .2 1.1 .2 1.1 .2 1.1 .2 1.1 .2 1.1 .2 1.1 .1 1.1 .2 1.1 .1 1.1 .1 1.2 .1 1.1 0 1.1 .1 1.1 0 1.1 0 1.1 0 1.1 .1 1.1 0 1.1 0 1.1 0 1.1 0 1.1 0 1.1 0 1.1 0" stroke="#c4c4c4" stroke-width="0.7" opacity="0.72"/>
<path d="M23.2 175.6l1.2 2.6 1.1 2.3 1.1 2.1 1.1 1.7 1.1 1.4 1.1 .8 1.1 -.1 1.1 -1 1.1 -1.6 1.1 -1.8 1.1 -1 1.1 .5 1.1 2.2 1.1 3.3 1.2 3.8 1.1 3.4 1.1 2.6 1.1 1.7 1.1 .8 1.1 .2 1.1 -.5 1.1 -1.2 1.1 -2 1.1 -2.6 1.1 -3.2 1.1 -3.3 1.1 -3.1 1.1 -2.2 1.2 -.8 1.1 .7 1.1 2.1 1.1 3.2 1.1 3.7 1.1 3.8 1.1 3.4 1.1 2.8 1.1 2.1 1.1 1.4 1.1 .9 1.1 .6 1.1 .4 1.1 .2 1.2 .2 1.1 .1 1.1 .1 1.1 .1 1.1 .1 1.1 .1 1.1 .1 1.1 .2 1.1 .1 1.1 .1 1.1 .1 1.1 .1 1.1 .1 1.1 .1 1.1 0 1.2 0 1.1 .1 1.1 0 1.1 0 1.1 0 1.1 0 1.1 0 1.1 0 1.1 0 1.1 0 1.1 0 1.1 0 1.1 .1 1.1 0" stroke="#c4c4c4" stroke-width="0.7" opacity="0.72"/>
<path d="M23.2 162l1.2 -3.6 1.1 -.6 1.1 2.9 1.1 5.9 1.1 7.3 1.1 7.3 1.1 6.1 1.1 4.4 1.1 2.8 1.1 1.5 1.1 .3 1.1 -.6 1.1 -1.4 1.1 -2 1.2 -2 1.1 -1.4 1.1 -.1 1.1 1.2 1.1 2.4 1.1 2.8 1.1 2.7 1.1 2.1 1.1 1.4 1.1 .9 1.1 .6 1.1 .3 1.1 .3 1.1 .2 1.2 .2 1.1 .1 1.1 .2 1.1 .1 1.1 .2 1.1 .1 1.1 .1 1.1 .2 1.1 .1 1.1 .1 1.1 .1 1.1 .1 1.1 .1 1.1 .1 1.2 .1 1.1 .1 1.1 .1 1.1 .1 1.1 .2 1.1 .1 1.1 .2 1.1 .1 1.1 .2 1.1 .2 1.1 .1 1.1 .1 1.1 .2 1.1 0 1.1 .1 1.2 .1 1.1 0 1.1 0 1.1 .1 1.1 0 1.1 0 1.1 0 1.1 0 1.1 0 1.1 0 1.1 0 1.1 0 1.1 0 1.1 0" stroke="#c4c4c4" stroke-width="0.7" opacity="0.72"/>
<path d="M23.2 177.2l1.2 -3.2 1.1 -3.8 1.1 -3.3 1.1 -1.3 1.1 1.6 1.1 4.3 1.1 6 1.1 6.1 1.1 5.3 1.1 3.9 1.1 2.5 1.1 1.6 1.1 1 1.1 .7 1.2 .5 1.1 .5 1.1 .4 1.1 .4 1.1 .3 1.1 .3 1.1 .3 1.1 .3 1.1 .3 1.1 .2 1.1 .2 1.1 .3 1.1 .2 1.1 .1 1.2 .2 1.1 .2 1.1 .1 1.1 .2 1.1 .1 1.1 .1 1.1 .2 1.1 .1 1.1 .1 1.1 .1 1.1 .1 1.1 .1 1.1 .1 1.1 .2 1.2 .1 1.1 .1 1.1 .1 1.1 .2 1.1 .1 1.1 .2 1.1 .2 1.1 .2 1.1 .2 1.1 .3 1.1 .2 1.1 .2 1.1 .1 1.1 .2 1.1 .1 1.2 .1 1.1 0 1.1 .1 1.1 0 1.1 0 1.1 0 1.1 0 1.1 .1 1.1 0 1.1 0 1.1 0 1.1 0 1.1 0 1.1 0" stroke="#c4c4c4" stroke-width="0.7" opacity="0.72"/>
<path d="M23.2 161.3l1.2 5.2 1.1 3.5 1.1 1.3 1.1 -1.7 1.1 -5.2 1.1 -9.5 1.1 -13.4 1.1 -16.5 1.1 -17 1.1 -14.7 1.1 -9.1 1.1 -1.4 1.1 7 1.1 14 1.2 18.4 1.1 19.5 1.1 18 1.1 14.7 1.1 10.8 1.1 7.4 1.1 4.5 1.1 2.6 1.1 1.5 1.1 .7 1.1 .5 1.1 .3 1.1 .2 1.1 .2 1.2 .1 1.1 .2 1.1 .1 1.1 .1 1.1 .1 1.1 .2 1.1 .1 1.1 .1 1.1 .1 1.1 .1 1.1 .1 1.1 .1 1.1 0 1.1 .1 1.2 .2 1.1 .1 1.1 .1 1.1 .1 1.1 .2 1.1 .2 1.1 .2 1.1 .2 1.1 .2 1.1 .3 1.1 .2 1.1 .2 1.1 .2 1.1 .1 1.1 .1 1.2 .1 1.1 .1 1.1 0 1.1 .1 1.1 0 1.1 0 1.1 0 1.1 0 1.1 0 1.1 .1 1.1 0 1.1 0 1.1 0 1.1 0" stroke="#c4c4c4" stroke-width="0.7" opacity="0.72"/>
<path d="M23.2 96.6l1.2 -6.5 1.1 -2.6 1.1 2 1.1 6.6 1.1 10.3 1.1 12.2 1.1 12.1 1.1 10.1 1.1 6.3 1.1 1.6 1.1 -3.3 1.1 -7.7 1.1 -10.7 1.1 -11.5 1.2 -10 1.1 -6.3 1.1 -1.1 1.1 4.6 1.1 9.7 1.1 13.4 1.1 15.1 1.1 14.9 1.1 13.2 1.1 10.6 1.1 8.1 1.1 5.6 1.1 3.7 1.1 2.3 1.2 1.4 1.1 .9 1.1 .6 1.1 .4 1.1 .3 1.1 .3 1.1 .3 1.1 .2 1.1 .2 1.1 .3 1.1 .2 1.1 .1 1.1 .2 1.1 .2 1.2 .2 1.1 .1 1.1 .2 1.1 .2 1.1 .2 1.1 .2 1.1 .2 1.1 .2 1.1 .2 1.1 .2 1.1 .1 1.1 .2 1.1 .1 1.1 .1 1.1 .1 1.2 .1 1.1 0 1.1 0 1.1 .1 1.1 0 1.1 0 1.1 0 1.1 0 1.1 0 1.1 0 1.1 0 1.1 0 1.1 0 1.1 0" stroke="#c4c4c4" stroke-width="0.7" opacity="0.72"/>
<path d="M23.2 165.4l1.2 3 1.1 2.8 1.1 2.6 1.1 2.4 1.1 2.2 1.1 1.9 1.1 1.9 1.1 1.7 1.1 1.5 1.1 1.4 1.1 1.4 1.1 1.2 1.1 1.1 1.1 1 1.2 1 1.1 .9 1.1 .8 1.1 .7 1.1 .7 1.1 .7 1.1 .6 1.1 .5 1.1 .5 1.1 .5 1.1 .4 1.1 .4 1.1 .2 1.1 .1 1.2 -.1 1.1 -.4 1.1 -1 1.1 -1.6 1.1 -2.4 1.1 -3.4 1.1 -4.2 1.1 -4.7 1.1 -5 1.1 -4.6 1.1 -3.5 1.1 -1.9 1.1 .1 1.1 2 1.2 3.8 1.1 5 1.1 5.6 1.1 5.5 1.1 4.9 1.1 4 1.1 3.1 1.1 2.2 1.1 1.5 1.1 1 1.1 .6 1.1 .4 1.1 .3 1.1 .3 1.1 .1 1.2 .1 1.1 .1 1.1 .1 1.1 0 1.1 0 1.1 .1 1.1 0 1.1 0 1.1 0 1.1 0 1.1 0 1.1 0 1.1 0 1.1 0" stroke="#c0d8ea" stroke-width="0.7" opacity="0.72"/>
<path d="M23.25 148.16C23.57 148.29 24.53 148.29 25.17 148.97C25.81 149.64 26.45 150.31 27.08 152.2C27.72 154.08 28.36 157.59 29 160.28C29.64 162.98 30.28 165.94 30.92 168.36C31.56 170.79 32.2 173.35 32.84 174.83C33.47 176.31 34.11 177.25 34.75 177.25C35.39 177.25 36.03 176.31 36.67 174.83C37.31 173.35 37.95 170.38 38.59 168.36C39.23 166.34 39.86 163.38 40.5 162.71C41.14 162.03 41.78 162.98 42.42 164.32C43.06 165.67 43.7 168.9 44.34 170.79C44.98 172.67 45.62 174.29 46.25 175.64C46.89 176.98 47.53 178.06 48.17 178.87C48.81 179.68 49.45 179.95 50.09 180.49C50.73 181.03 51.37 181.7 52 182.1C52.64 182.51 53.28 182.78 53.92 182.91C54.56 183.05 55.2 182.64 55.84 182.91C56.48 183.18 57.12 183.85 57.76 184.53C58.4 185.2 59.03 186.14 59.67 186.95C60.31 187.76 60.95 188.7 61.59 189.38C62.23 190.05 62.87 190.59 63.51 190.99C64.15 191.4 64.79 191.53 65.42 191.8C66.06 192.07 66.7 192.48 67.34 192.61C67.98 192.75 68.62 192.68 69.26 192.61C69.9 192.54 70.54 192.21 71.18 192.21C71.81 192.21 72.45 192.27 73.09 192.61C73.73 192.95 74.37 193.69 75.01 194.23C75.65 194.77 76.29 195.3 76.93 195.84C77.56 196.38 78.2 196.92 78.84 197.46C79.48 198 79.8 198.54 80.76 199.08C81.72 199.62 83.32 200.29 84.59 200.69C85.87 201.1 87.15 201.3 88.43 201.5C89.71 201.7 90.03 201.77 92.26 201.91C94.5 202.04 100.25 202.24 101.85 202.31 L101.85 207.7C100.25 207.68 94.5 207.64 92.26 207.56C90.03 207.48 89.71 207.39 88.43 207.23C87.15 207.06 85.87 206.89 84.59 206.55C83.32 206.21 81.72 205.65 80.76 205.2C79.8 204.75 79.48 204.3 78.84 203.85C78.2 203.4 77.56 202.95 76.93 202.5C76.29 202.05 75.65 201.6 75.01 201.15C74.37 200.7 73.73 200.08 73.09 199.8C72.45 199.52 71.81 199.47 71.18 199.47C70.54 199.47 69.9 199.75 69.26 199.8C68.62 199.86 67.98 199.92 67.34 199.8C66.7 199.69 66.06 199.35 65.42 199.13C64.79 198.9 64.15 198.79 63.51 198.45C62.87 198.12 62.23 197.67 61.59 197.1C60.95 196.54 60.31 195.75 59.67 195.08C59.03 194.4 58.4 193.62 57.76 193.06C57.12 192.49 56.48 191.93 55.84 191.71C55.2 191.48 54.56 191.82 53.92 191.71C53.28 191.59 52.64 191.37 52 191.03C51.37 190.69 50.73 190.13 50.09 189.68C49.45 189.23 48.81 189.01 48.17 188.33C47.53 187.66 46.89 186.76 46.25 185.63C45.62 184.51 44.98 183.16 44.34 181.58C43.7 180.01 43.06 177.31 42.42 176.19C41.78 175.06 41.14 174.27 40.5 174.84C39.86 175.4 39.23 177.87 38.59 179.56C37.95 181.25 37.31 183.72 36.67 184.96C36.03 186.2 35.39 186.98 34.75 186.98C34.11 186.98 33.47 186.2 32.84 184.96C32.2 183.72 31.56 181.58 30.92 179.56C30.28 177.54 29.64 175.06 29 172.81C28.36 170.56 27.72 167.64 27.08 166.06C26.45 164.49 25.81 163.93 25.17 163.37C24.53 162.8 23.57 162.8 23.25 162.69 Z" fill="#6fb0e6" opacity="0.4"/>
<path d="M23.25 155.79C23.57 155.92 24.53 155.92 25.17 156.54C25.81 157.15 26.45 157.77 27.08 159.5C27.72 161.23 28.36 164.45 29 166.92C29.64 169.39 30.28 172.11 30.92 174.33C31.56 176.56 32.2 178.91 32.84 180.26C33.47 181.62 34.11 182.49 34.75 182.49C35.39 182.49 36.03 181.62 36.67 180.26C37.31 178.91 37.95 176.19 38.59 174.33C39.23 172.48 39.86 169.76 40.5 169.14C41.14 168.52 41.78 169.39 42.42 170.62C43.06 171.86 43.7 174.83 44.34 176.56C44.98 178.29 45.62 179.77 46.25 181.01C46.89 182.24 47.53 183.23 48.17 183.97C48.81 184.71 49.45 184.96 50.09 185.45C50.73 185.95 51.37 186.57 52 186.94C52.64 187.31 53.28 187.56 53.92 187.68C54.56 187.8 55.2 187.43 55.84 187.68C56.48 187.93 57.12 188.54 57.76 189.16C58.4 189.78 59.03 190.65 59.67 191.39C60.31 192.13 60.95 192.99 61.59 193.61C62.23 194.23 62.87 194.72 63.51 195.09C64.15 195.47 64.79 195.59 65.42 195.84C66.06 196.08 66.7 196.45 67.34 196.58C67.98 196.7 68.62 196.64 69.26 196.58C69.9 196.52 70.54 196.21 71.18 196.21C71.81 196.21 72.45 196.27 73.09 196.58C73.73 196.89 74.37 197.57 75.01 198.06C75.65 198.55 76.29 199.05 76.93 199.54C77.56 200.04 78.2 200.53 78.84 201.03C79.48 201.52 79.8 202.02 80.76 202.51C81.72 203 83.32 203.62 84.59 203.99C85.87 204.36 87.15 204.55 88.43 204.73C89.71 204.92 90.03 204.98 92.26 205.1C94.5 205.23 100.25 205.41 101.85 205.48" stroke="#1f6fb8" stroke-width="1.1"/>
</g>
<path d="M23.25 125.8 V207.5 H101.85" fill="none" stroke="#262626" stroke-width="0.7"/>
<path d="M23.25 207.7 h1.2" stroke="#262626" stroke-width="0.5"/>
<text x="21.45" y="209.9" font-size="6.2" text-anchor="end" fill="#1c1c1c" font-family="'DejaVu Sans Condensed','DejaVu Sans','Liberation Sans',sans-serif" font-weight="normal" stroke="#1c1c1c" stroke-width="0.1">0</text>
<path d="M23.25 192.87 h1.2" stroke="#262626" stroke-width="0.5"/>
<text x="21.45" y="195.07" font-size="6.2" text-anchor="end" fill="#1c1c1c" font-family="'DejaVu Sans Condensed','DejaVu Sans','Liberation Sans',sans-serif" font-weight="normal" stroke="#1c1c1c" stroke-width="0.1">0.02</text>
<path d="M23.25 178.04 h1.2" stroke="#262626" stroke-width="0.5"/>
<text x="21.45" y="180.24" font-size="6.2" text-anchor="end" fill="#1c1c1c" font-family="'DejaVu Sans Condensed','DejaVu Sans','Liberation Sans',sans-serif" font-weight="normal" stroke="#1c1c1c" stroke-width="0.1">0.04</text>
<path d="M23.25 163.21 h1.2" stroke="#262626" stroke-width="0.5"/>
<text x="21.45" y="165.41" font-size="6.2" text-anchor="end" fill="#1c1c1c" font-family="'DejaVu Sans Condensed','DejaVu Sans','Liberation Sans',sans-serif" font-weight="normal" stroke="#1c1c1c" stroke-width="0.1">0.06</text>
<path d="M23.25 148.38 h1.2" stroke="#262626" stroke-width="0.5"/>
<text x="21.45" y="150.58" font-size="6.2" text-anchor="end" fill="#1c1c1c" font-family="'DejaVu Sans Condensed','DejaVu Sans','Liberation Sans',sans-serif" font-weight="normal" stroke="#1c1c1c" stroke-width="0.1">0.08</text>
<path d="M23.25 133.55 h1.2" stroke="#262626" stroke-width="0.5"/>
<text x="21.45" y="135.75" font-size="6.2" text-anchor="end" fill="#1c1c1c" font-family="'DejaVu Sans Condensed','DejaVu Sans','Liberation Sans',sans-serif" font-weight="normal" stroke="#1c1c1c" stroke-width="0.1">0.1</text>
<path d="M34.75 207.5 v-1.2" stroke="#262626" stroke-width="0.5"/>
<text x="34.75" y="217.3" font-size="6.2" text-anchor="middle" fill="#1c1c1c" font-family="'DejaVu Sans Condensed','DejaVu Sans','Liberation Sans',sans-serif" font-weight="normal" stroke="#1c1c1c" stroke-width="0.1">10</text>
<path d="M53.92 207.5 v-1.2" stroke="#262626" stroke-width="0.5"/>
<text x="53.92" y="217.3" font-size="6.2" text-anchor="middle" fill="#1c1c1c" font-family="'DejaVu Sans Condensed','DejaVu Sans','Liberation Sans',sans-serif" font-weight="normal" stroke="#1c1c1c" stroke-width="0.1">20</text>
<path d="M73.09 207.5 v-1.2" stroke="#262626" stroke-width="0.5"/>
<text x="73.09" y="217.3" font-size="6.2" text-anchor="middle" fill="#1c1c1c" font-family="'DejaVu Sans Condensed','DejaVu Sans','Liberation Sans',sans-serif" font-weight="normal" stroke="#1c1c1c" stroke-width="0.1">30</text>
<path d="M92.26 207.5 v-1.2" stroke="#262626" stroke-width="0.5"/>
<text x="92.26" y="217.3" font-size="6.2" text-anchor="middle" fill="#1c1c1c" font-family="'DejaVu Sans Condensed','DejaVu Sans','Liberation Sans',sans-serif" font-weight="normal" stroke="#1c1c1c" stroke-width="0.1">40</text>
<text x="65.55" y="226.4" font-size="6.6" text-anchor="middle" fill="#1c1c1c" font-family="'DejaVu Sans','Liberation Sans',sans-serif" font-weight="normal" stroke="#1c1c1c" stroke-width="0.18">Frequency (Hz)</text>
<text x="83.65" y="166.4" font-size="6.8" text-anchor="start" fill="#1c1c1c" font-family="'DejaVu Sans','Liberation Sans',sans-serif" font-weight="normal" stroke="#1c1c1c" stroke-width="0.18">C0</text>
<clipPath id="cc1"><rect x="122.6" y="125.8" width="78.6" height="81.7"/></clipPath>
<g clip-path="url(#cc1)" fill="none" stroke-linejoin="round">
<path d="M122.6 160.8l1.1 7.3 1.1 6.1 1.1 5.1 1.1 4.1 1.1 3.1 1.1 1.8 1.1 -.2 1.2 -3.4 1.1 -7.4 1.1 -11.8 1.1 -14.9 1.1 -14.6 1.1 -9.9 1.1 -1.7 1.1 7.4 1.1 14.2 1.1 16.8 1.1 15.4 1.1 11.6 1.1 7.5 1.1 4 1.2 1.7 1.1 .3 1.1 -.6 1.1 -1.4 1.1 -1.9 1.1 -2.6 1.1 -2.9 1.1 -3.1 1.1 -2.8 1.1 -2.2 1.1 -1.1 1.1 .1 1.1 1.4 1.1 2.3 1.2 3 1.1 3.2 1.1 3.1 1.1 2.6 1.1 2.1 1.1 1.6 1.1 1 1.1 .7 1.1 .5 1.1 .2 1.1 .2 1.1 .1 1.1 .1 1.1 0 1.1 .1 1.2 .1 1.1 .1 1.1 .1 1.1 .1 1.1 0 1.1 .1 1.1 0 1.1 .1 1.1 0 1.1 0 1.1 0 1.1 0 1.1 0 1.1 0 1.2 0 1.1 0 1.1 0 1.1 0 1.1 0 1.1 .1 1.1 0" stroke="#ecd3c0" stroke-width="0.7" opacity="0.72"/>
<path d="M122.6 178.4l1.1 2 1.1 1.9 1.1 1.7 1.1 1.6 1.1 1.4 1.1 1.4 1.1 1.2 1.2 1.2 1.1 1 1.1 1 1.1 .9 1.1 .9 1.1 .7 1.1 .8 1.1 .6 1.1 .6 1.1 .6 1.1 .5 1.1 .4 1.1 .4 1.1 .1 1.2 0 1.1 -.4 1.1 -.7 1.1 -1.1 1.1 -1.4 1.1 -1.6 1.1 -1.5 1.1 -1.1 1.1 -.6 1.1 .3 1.1 1 1.1 1.6 1.1 2 1.1 2 1.2 1.9 1.1 1.5 1.1 1.2 1.1 .9 1.1 .6 1.1 .4 1.1 .2 1.1 .2 1.1 .2 1.1 .2 1.1 .1 1.1 .2 1.1 .2 1.1 .2 1.1 .2 1.2 .3 1.1 .2 1.1 .2 1.1 .2 1.1 .2 1.1 .1 1.1 .1 1.1 .1 1.1 0 1.1 .1 1.1 0 1.1 0 1.1 0 1.1 .1 1.2 0 1.1 0 1.1 0 1.1 0 1.1 0 1.1 0 1.1 0" stroke="#c4c4c4" stroke-width="0.7" opacity="0.72"/>
<path d="M122.6 197.4l1.1 1.1 1.1 .9 1.1 .8 1.1 .7 1.1 .6 1.1 .5 1.1 .5 1.2 .4 1.1 .3 1.1 .3 1.1 .3 1.1 .3 1.1 .2 1.1 .2 1.1 .2 1.1 .1 1.1 .1 1.1 -.1 1.1 -.3 1.1 -.9 1.1 -1.8 1.2 -3.2 1.1 -5.1 1.1 -7.2 1.1 -9 1.1 -9.6 1.1 -8.6 1.1 -5.7 1.1 -1.4 1.1 3.2 1.1 7.1 1.1 9.3 1.1 9.7 1.1 8.5 1.1 6.5 1.2 4.5 1.1 2.8 1.1 1.5 1.1 .8 1.1 .3 1.1 .2 1.1 .1 1.1 .1 1.1 0 1.1 .1 1.1 0 1.1 .1 1.1 0 1.1 .1 1.1 .1 1.2 .1 1.1 .1 1.1 .1 1.1 .1 1.1 0 1.1 .1 1.1 0 1.1 .1 1.1 0 1.1 0 1.1 0 1.1 0 1.1 0 1.1 0 1.2 0 1.1 0 1.1 0 1.1 0 1.1 0 1.1 0 1.1 .1" stroke="#c4c4c4" stroke-width="0.7" opacity="0.72"/>
<path d="M122.6 142.3l1.1 9.5 1.1 8.1 1.1 6.8 1.1 5.8 1.1 5 1.1 4.2 1.1 3.5 1.2 3.1 1.1 2.6 1.1 2.1 1.1 1.8 1.1 1.3 1.1 .4 1.1 -.9 1.1 -2.9 1.1 -5.3 1.1 -6.8 1.1 -6.3 1.1 -3 1.1 1.8 1.1 5.9 1.2 7.9 1.1 7.3 1.1 5.2 1.1 3.1 1.1 1.4 1.1 .4 1.1 -.3 1.1 -.8 1.1 -1.7 1.1 -2.6 1.1 -3.8 1.1 -5.3 1.1 -6.5 1.1 -7.4 1.2 -7.6 1.1 -6.8 1.1 -5 1.1 -2.5 1.1 .7 1.1 3.6 1.1 6 1.1 7.5 1.1 8 1.1 7.4 1.1 6.3 1.1 4.9 1.1 3.5 1.1 2.3 1.1 1.4 1.2 .8 1.1 .5 1.1 .2 1.1 .2 1.1 .1 1.1 .1 1.1 0 1.1 0 1.1 .1 1.1 0 1.1 0 1.1 0 1.1 0 1.1 0 1.2 0 1.1 0 1.1 0 1.1 0 1.1 0 1.1 0 1.1 0" stroke="#c4c4c4" stroke-width="0.7" opacity="0.72"/>
<path d="M122.6 80l1.1 2.9 1.1 6.3 1.1 10 1.1 13.1 1.1 15 1.1 15.1 1.1 13.8 1.2 11.4 1.1 9 1.1 6.5 1.1 4.7 1.1 3.3 1.1 2.4 1.1 1.8 1.1 1.4 1.1 1.2 1.1 1 1.1 .9 1.1 .7 1.1 .7 1.1 .6 1.2 .5 1.1 .4 1.1 .4 1.1 .4 1.1 .3 1.1 .3 1.1 .2 1.1 .2 1.1 .2 1.1 .2 1.1 .2 1.1 .1 1.1 .1 1.1 .2 1.2 .1 1.1 .1 1.1 .1 1.1 0 1.1 .1 1.1 .1 1.1 .1 1.1 0 1.1 .1 1.1 .1 1.1 .1 1.1 .1 1.1 .1 1.1 .1 1.1 .1 1.2 .1 1.1 .1 1.1 .2 1.1 .1 1.1 0 1.1 .1 1.1 .1 1.1 0 1.1 0 1.1 .1 1.1 0 1.1 0 1.1 0 1.1 0 1.2 0 1.1 0 1.1 0 1.1 0 1.1 0 1.1 0 1.1 0" stroke="#c4c4c4" stroke-width="0.7" opacity="0.72"/>
<path d="M122.6 109.9l1.1 -16.5 1.1 -18.5 1.1 -17.8 1.1 -13.1 1.1 -4 1.1 7.3 1.1 17.2 1.2 22.8 1.1 23.5 1.1 21.1 1.1 17.5 1.1 13.8 1.1 10.6 1.1 7.9 1.1 5.6 1.1 3.8 1.1 2.7 1.1 1.8 1.1 1.2 1.1 1 1.1 .7 1.2 .6 1.1 .6 1.1 .5 1.1 .4 1.1 .4 1.1 .4 1.1 .4 1.1 .3 1.1 .3 1.1 .3 1.1 .3 1.1 .3 1.1 .2 1.1 .3 1.2 .2 1.1 .2 1.1 .2 1.1 .2 1.1 .1 1.1 .2 1.1 .2 1.1 .1 1.1 .2 1.1 .2 1.1 .1 1.1 .2 1.1 .2 1.1 .2 1.1 .2 1.2 .1 1.1 .2 1.1 .2 1.1 .1 1.1 .2 1.1 .1 1.1 0 1.1 .1 1.1 0 1.1 .1 1.1 0 1.1 0 1.1 0 1.1 0 1.2 0 1.1 0 1.1 0 1.1 0 1.1 0 1.1 0 1.1 0" stroke="#c0d8ea" stroke-width="0.7" opacity="0.72"/>
<path d="M122.6 167.1l1.1 2.7 1.1 2.4 1.1 2.1 1.1 1.7 1.1 1 1.1 .1 1.1 -1.1 1.2 -2.6 1.1 -4.5 1.1 -6.4 1.1 -8.3 1.1 -9.7 1.1 -10.2 1.1 -9.4 1.1 -7.4 1.1 -4.2 1.1 -.2 1.1 3.9 1.1 7.6 1.1 10.3 1.1 11.7 1.2 11.8 1.1 10.9 1.1 9.3 1.1 7.4 1.1 5.6 1.1 3.9 1.1 2.7 1.1 1.8 1.1 1.1 1.1 .8 1.1 .5 1.1 .4 1.1 .3 1.1 .2 1.2 .3 1.1 .2 1.1 .2 1.1 .2 1.1 .2 1.1 .1 1.1 .2 1.1 .2 1.1 .2 1.1 .1 1.1 .2 1.1 .2 1.1 .2 1.1 .2 1.1 .2 1.2 .2 1.1 .2 1.1 .2 1.1 .2 1.1 .2 1.1 .1 1.1 .1 1.1 0 1.1 .1 1.1 0 1.1 0 1.1 .1 1.1 0 1.1 0 1.2 0 1.1 0 1.1 0 1.1 0 1.1 0 1.1 0 1.1 0" stroke="#c4c4c4" stroke-width="0.7" opacity="0.72"/>
<path d="M122.6 176.1l1.1 1.7 1.1 1.6 1.1 1.5 1.1 1.4 1.1 1.3 1.1 1.2 1.1 1.2 1.2 1.2 1.1 1 1.1 1 1.1 1 1.1 .9 1.1 .8 1.1 .8 1.1 .8 1.1 .7 1.1 .6 1.1 .6 1.1 .3 1.1 -.3 1.1 -1.7 1.2 -4.5 1.1 -9.7 1.1 -17.5 1.1 -26.1 1.1 -31.8 1.1 -30.2 1.1 -19.5 1.1 -3 1.1 13.2 1.1 23.5 1.1 26.9 1.1 24.8 1.1 20.4 1.1 15.5 1.2 11.1 1.1 7.3 1.1 4.6 1.1 2.6 1.1 1.4 1.1 .8 1.1 .4 1.1 .3 1.1 .2 1.1 .2 1.1 .2 1.1 .3 1.1 .2 1.1 .3 1.1 .3 1.2 .2 1.1 .3 1.1 .2 1.1 .3 1.1 .1 1.1 .2 1.1 .1 1.1 .1 1.1 0 1.1 .1 1.1 0 1.1 0 1.1 0 1.1 .1 1.2 0 1.1 0 1.1 0 1.1 0 1.1 0 1.1 0 1.1 0" stroke="#c4c4c4" stroke-width="0.7" opacity="0.72"/>
<path d="M122.6 186.1l1.1 2.1 1.1 1.8 1.1 1.6 1.1 1.4 1.1 1.3 1.1 1.1 1.1 .9 1.2 .4 1.1 -.4 1.1 -2 1.1 -4.7 1.1 -8.7 1.1 -13.6 1.1 -18.4 1.1 -21.3 1.1 -20.4 1.1 -14.6 1.1 -4.9 1.1 6.4 1.1 15.9 1.1 21.2 1.2 21.9 1.1 18.9 1.1 13.9 1.1 9.1 1.1 5.3 1.1 2.7 1.1 1.4 1.1 .6 1.1 .3 1.1 .1 1.1 .1 1.1 .1 1.1 .1 1.1 .1 1.2 .1 1.1 0 1.1 .1 1.1 .1 1.1 0 1.1 .1 1.1 .1 1.1 0 1.1 .1 1.1 0 1.1 .1 1.1 .1 1.1 .1 1.1 .1 1.1 .1 1.2 .1 1.1 .1 1.1 .1 1.1 .1 1.1 .1 1.1 0 1.1 .1 1.1 0 1.1 .1 1.1 0 1.1 0 1.1 0 1.1 0 1.1 0 1.2 0 1.1 0 1.1 0 1.1 0 1.1 0 1.1 0 1.1 0" stroke="#c4c4c4" stroke-width="0.7" opacity="0.72"/>
<path d="M122.6 181.4l1.1 1.6 1.1 1.5 1.1 1.3 1.1 1 1.1 .7 1.1 .3 1.1 -.3 1.2 -1 1.1 -1.7 1.1 -2.6 1.1 -3.6 1.1 -4.2 1.1 -4.6 1.1 -4.4 1.1 -3.6 1.1 -2 1.1 0 1.1 2.1 1.1 4.1 1.1 5.4 1.1 6.1 1.2 6 1.1 5.2 1.1 4.3 1.1 3.1 1.1 2.2 1.1 1.5 1.1 .9 1.1 .6 1.1 .4 1.1 .3 1.1 .2 1.1 .2 1.1 .2 1.1 .2 1.2 .1 1.1 .2 1.1 .1 1.1 .2 1.1 .1 1.1 .2 1.1 .1 1.1 .1 1.1 .2 1.1 .2 1.1 .2 1.1 .2 1.1 .2 1.1 .3 1.1 .3 1.2 .3 1.1 .3 1.1 .2 1.1 .3 1.1 .2 1.1 .2 1.1 .1 1.1 .1 1.1 .1 1.1 .1 1.1 0 1.1 .1 1.1 0 1.1 0 1.2 0 1.1 0 1.1 0 1.1 0 1.1 0 1.1 0 1.1 0" stroke="#c4c4c4" stroke-width="0.7" opacity="0.72"/>
<path d="M122.6 190.7l1.1 1.1 1.1 .9 1.1 .6 1.1 .2 1.1 -.3 1.1 -1 1.1 -1.8 1.2 -2.7 1.1 -3.6 1.1 -4.3 1.1 -4.5 1.1 -4.1 1.1 -3.2 1.1 -1.5 1.1 .3 1.1 2.1 1.1 3.8 1.1 4.7 1.1 5.1 1.1 4.9 1.1 4.3 1.2 3.4 1.1 2.5 1.1 1.8 1.1 1 1.1 .4 1.1 -.2 1.1 -.8 1.1 -1.2 1.1 -1.6 1.1 -1.6 1.1 -1.1 1.1 -.4 1.1 .6 1.1 1.4 1.2 1.8 1.1 1.9 1.1 1.6 1.1 1.1 1.1 .8 1.1 .5 1.1 .3 1.1 .2 1.1 .2 1.1 .1 1.1 .2 1.1 .2 1.1 .2 1.1 .3 1.1 .2 1.2 .3 1.1 .3 1.1 .3 1.1 .2 1.1 .2 1.1 .2 1.1 .1 1.1 .2 1.1 0 1.1 .1 1.1 0 1.1 .1 1.1 0 1.1 0 1.2 0 1.1 0 1.1 0 1.1 0 1.1 0 1.1 0 1.1 0" stroke="#c4c4c4" stroke-width="0.7" opacity="0.72"/>
<path d="M122.6 182.9l1.1 2.8 1.1 2.4 1.1 2.1 1.1 1.8 1.1 1.6 1.1 1.3 1.1 1.3 1.2 1 1.1 .9 1.1 .8 1.1 .7 1.1 .7 1.1 .5 1.1 .5 1.1 .4 1.1 .4 1.1 .4 1.1 .3 1.1 .2 1.1 .3 1.1 .2 1.2 .2 1.1 .2 1.1 .1 1.1 .2 1.1 .1 1.1 .2 1.1 .1 1.1 .1 1.1 0 1.1 0 1.1 -.1 1.1 -.4 1.1 -.8 1.1 -1.2 1.2 -1.6 1.1 -1.8 1.1 -1.7 1.1 -1 1.1 0 1.1 .9 1.1 1.7 1.1 2 1.1 1.8 1.1 1.5 1.1 1 1.1 .7 1.1 .3 1.1 .3 1.1 .2 1.2 .2 1.1 .1 1.1 .2 1.1 .1 1.1 .1 1.1 .1 1.1 .1 1.1 .1 1.1 0 1.1 0 1.1 .1 1.1 0 1.1 0 1.1 0 1.2 0 1.1 0 1.1 0 1.1 0 1.1 0 1.1 0 1.1 0" stroke="#c4c4c4" stroke-width="0.7" opacity="0.72"/>
<path d="M122.6 175.5l1.1 2.5 1.1 2.4 1.1 2.1 1.1 1.9 1.1 1.7 1.1 1.6 1.1 1.5 1.2 1.3 1.1 1.2 1.1 1.1 1.1 1 1.1 .9 1.1 .9 1.1 .7 1.1 .7 1.1 .7 1.1 .5 1.1 .4 1.1 .2 1.1 -.1 1.1 -.7 1.2 -1.3 1.1 -1.8 1.1 -1.8 1.1 -1.1 1.1 0 1.1 1.3 1.1 2.2 1.1 2.4 1.1 2.1 1.1 1.6 1.1 1 1.1 .5 1.1 .4 1.1 .2 1.2 .1 1.1 .2 1.1 .1 1.1 .2 1.1 .1 1.1 .1 1.1 .1 1.1 .2 1.1 .1 1.1 .1 1.1 .2 1.1 .2 1.1 .1 1.1 .3 1.1 .2 1.2 .2 1.1 .2 1.1 .3 1.1 .2 1.1 .1 1.1 .2 1.1 .1 1.1 .1 1.1 0 1.1 .1 1.1 0 1.1 0 1.1 0 1.1 0 1.2 .1 1.1 0 1.1 0 1.1 0 1.1 0 1.1 0 1.1 0" stroke="#c4c4c4" stroke-width="0.7" opacity="0.72"/>
<path d="M122.6 191.4l1.1 0 1.1 -.4 1.1 -.6 1.1 -.4 1.1 -.2 1.1 .3 1.1 .9 1.2 1.4 1.1 1.7 1.1 1.9 1.1 1.9 1.1 1.6 1.1 1.3 1.1 1.1 1.1 .7 1.1 .6 1.1 .3 1.1 .3 1.1 .2 1.1 .2 1.1 .2 1.2 .1 1.1 .1 1.1 .1 1.1 .1 1.1 .1 1.1 .1 1.1 .1 1.1 .1 1.1 0 1.1 0 1.1 0 1.1 -.1 1.1 -.2 1.1 -.4 1.2 -.5 1.1 -.7 1.1 -.8 1.1 -.9 1.1 -1 1.1 -.7 1.1 -.6 1.1 -.1 1.1 .2 1.1 .6 1.1 .9 1.1 1.1 1.1 1.2 1.1 1.1 1.1 .9 1.2 .7 1.1 .6 1.1 .3 1.1 .3 1.1 .2 1.1 .1 1.1 0 1.1 .1 1.1 0 1.1 .1 1.1 0 1.1 0 1.1 0 1.1 0 1.2 0 1.1 0 1.1 0 1.1 0 1.1 0 1.1 0 1.1 0" stroke="#ecd3c0" stroke-width="0.7" opacity="0.72"/>
<path d="M122.6 175l1.1 1.9 1.1 1.8 1.1 1.6 1.1 1.6 1.1 1.5 1.1 1.4 1.1 1.3 1.2 1.2 1.1 1.1 1.1 1.1 1.1 1 1.1 1 1.1 .9 1.1 .8 1.1 .8 1.1 .7 1.1 .3 1.1 -.2 1.1 -1.5 1.1 -3.7 1.1 -6.9 1.2 -10.3 1.1 -12.6 1.1 -11.9 1.1 -7.3 1.1 -.1 1.1 7.5 1.1 12.3 1.1 13.5 1.1 11.6 1.1 8.1 1.1 4.9 1.1 2.6 1.1 1.2 1.1 .7 1.2 .3 1.1 .3 1.1 .2 1.1 .2 1.1 .2 1.1 .2 1.1 .1 1.1 .2 1.1 .2 1.1 .2 1.1 .2 1.1 .2 1.1 .2 1.1 .2 1.1 .3 1.2 .2 1.1 .3 1.1 .2 1.1 .2 1.1 .1 1.1 .1 1.1 .1 1.1 .1 1.1 .1 1.1 0 1.1 0 1.1 .1 1.1 0 1.1 0 1.2 0 1.1 0 1.1 0 1.1 0 1.1 0 1.1 0 1.1 0" stroke="#c4c4c4" stroke-width="0.7" opacity="0.72"/>
<path d="M122.6 171.6l1.1 4.9 1.1 4.2 1.1 3.5 1.1 3.1 1.1 2.6 1.1 2.2 1.1 1.9 1.2 1.7 1.1 1.4 1.1 1.1 1.1 .9 1.1 .4 1.1 -.2 1.1 -1.3 1.1 -2.4 1.1 -3.8 1.1 -4.4 1.1 -4.2 1.1 -2.7 1.1 -.6 1.1 1.2 1.2 2 1.1 1.7 1.1 .5 1.1 -.6 1.1 -.9 1.1 -.3 1.1 1 1.1 2.3 1.1 3.5 1.1 3.8 1.1 3.7 1.1 3 1.1 2.2 1.1 1.4 1.2 .9 1.1 .5 1.1 .2 1.1 .2 1.1 .1 1.1 0 1.1 .1 1.1 0 1.1 .1 1.1 0 1.1 .1 1.1 .1 1.1 0 1.1 .1 1.1 .1 1.2 .1 1.1 .1 1.1 .1 1.1 .1 1.1 .1 1.1 .1 1.1 0 1.1 0 1.1 .1 1.1 0 1.1 0 1.1 0 1.1 0 1.1 0 1.2 0 1.1 0 1.1 0 1.1 0 1.1 0 1.1 0 1.1 0" stroke="#c4c4c4" stroke-width="0.7" opacity="0.72"/>
<path d="M122.6 160l1.1 -4 1.1 -5.5 1.1 -6.4 1.1 -6.3 1.1 -4.6 1.1 -1.9 1.1 1.6 1.2 5.2 1.1 7.8 1.1 9.2 1.1 9.3 1.1 8.2 1.1 6.7 1.1 5 1.1 3.5 1.1 2.4 1.1 1.6 1.1 1.2 1.1 .8 1.1 .8 1.1 .6 1.2 .6 1.1 .5 1.1 .5 1.1 .5 1.1 .5 1.1 .4 1.1 .4 1.1 .4 1.1 .4 1.1 .3 1.1 .3 1.1 .4 1.1 .3 1.1 .2 1.2 .3 1.1 .3 1.1 .2 1.1 .3 1.1 .2 1.1 .2 1.1 .3 1.1 .2 1.1 .2 1.1 .3 1.1 .3 1.1 .3 1.1 .3 1.1 .3 1.1 .4 1.2 .4 1.1 .4 1.1 .3 1.1 .3 1.1 .3 1.1 .2 1.1 .2 1.1 .1 1.1 .1 1.1 0 1.1 .1 1.1 0 1.1 .1 1.1 0 1.2 0 1.1 0 1.1 0 1.1 0 1.1 0 1.1 0 1.1 0" stroke="#c4c4c4" stroke-width="0.7" opacity="0.72"/>
<path d="M122.6 163.4l1.1 -3.3 1.1 -2.3 1.1 -.5 1.1 1.5 1.1 3.5 1.1 4.9 1.1 5.9 1.2 5.9 1.1 5.4 1.1 4.5 1.1 3.5 1.1 2.6 1.1 1.8 1.1 1.2 1.1 .9 1.1 .6 1.1 .5 1.1 .4 1.1 .3 1.1 .3 1.1 .3 1.2 .3 1.1 .2 1.1 .3 1.1 .2 1.1 .2 1.1 .2 1.1 .2 1.1 .1 1.1 .2 1.1 .2 1.1 .1 1.1 .1 1.1 0 1.1 -.2 1.2 -.4 1.1 -.8 1.1 -1.4 1.1 -1.7 1.1 -1.9 1.1 -1.5 1.1 -.6 1.1 .4 1.1 1.5 1.1 2 1.1 2.1 1.1 1.9 1.1 1.3 1.1 .9 1.1 .5 1.2 .4 1.1 .3 1.1 .3 1.1 .2 1.1 .1 1.1 .2 1.1 .1 1.1 .1 1.1 0 1.1 .1 1.1 0 1.1 0 1.1 0 1.1 0 1.2 .1 1.1 0 1.1 0 1.1 0 1.1 0 1.1 0 1.1 0" stroke="#c4c4c4" stroke-width="0.7" opacity="0.72"/>
<path d="M122.6 180.6l1.1 1.6 1.1 1.5 1.1 1.3 1.1 1.2 1.1 1 1.1 .6 1.1 .1 1.2 -.4 1.1 -1.2 1.1 -1.8 1.1 -2.3 1.1 -2.6 1.1 -2.3 1.1 -1.6 1.1 -.4 1.1 1 1.1 2.2 1.1 3.3 1.1 3.8 1.1 3.8 1.1 3.5 1.2 2.9 1.1 2.2 1.1 1.6 1.1 1.1 1.1 .8 1.1 .5 1.1 .4 1.1 .4 1.1 .3 1.1 .2 1.1 .2 1.1 .3 1.1 .2 1.1 .2 1.2 .1 1.1 .2 1.1 .2 1.1 .1 1.1 .2 1.1 .1 1.1 .2 1.1 .1 1.1 .2 1.1 .1 1.1 .1 1.1 .2 1.1 .2 1.1 .1 1.1 .2 1.2 .2 1.1 .2 1.1 .1 1.1 .2 1.1 .1 1.1 .1 1.1 0 1.1 .1 1.1 0 1.1 .1 1.1 0 1.1 0 1.1 0 1.1 0 1.2 0 1.1 0 1.1 0 1.1 0 1.1 0 1.1 0 1.1 0" stroke="#c4c4c4" stroke-width="0.7" opacity="0.72"/>
<path d="M122.6 171.2l1.1 3.7 1.1 3.3 1.1 2.9 1.1 2.5 1.1 2.1 1.1 1.4 1.1 .5 1.2 -.8 1.1 -2.6 1.1 -4.7 1.1 -6.7 1.1 -7.7 1.1 -7.3 1.1 -4.9 1.1 -1.2 1.1 3.2 1.1 6.8 1.1 8.9 1.1 9.3 1.1 8.1 1.1 6.3 1.2 4.3 1.1 2.6 1.1 1.6 1.1 .8 1.1 .5 1.1 .4 1.1 .2 1.1 .2 1.1 .2 1.1 .1 1.1 .1 1.1 0 1.1 -.1 1.1 -.4 1.2 -.9 1.1 -1.9 1.1 -3 1.1 -4.5 1.1 -5.7 1.1 -6.3 1.1 -5.8 1.1 -3.8 1.1 -.9 1.1 2.4 1.1 5.1 1.1 6.6 1.1 6.6 1.1 5.5 1.1 4 1.2 2.6 1.1 1.4 1.1 .7 1.1 .3 1.1 .2 1.1 .1 1.1 0 1.1 .1 1.1 0 1.1 0 1.1 0 1.1 0 1.1 0 1.1 0 1.2 0 1.1 0 1.1 0 1.1 0 1.1 0 1.1 0 1.1 .1" stroke="#c4c4c4" stroke-width="0.7" opacity="0.72"/>
<path d="M122.6 178.4l1.1 1.8 1.1 1.6 1.1 1.6 1.1 1.4 1.1 1.4 1.1 1.3 1.1 1.1 1.2 1.1 1.1 1.1 1.1 .9 1.1 .9 1.1 .9 1.1 .8 1.1 .7 1.1 .7 1.1 .7 1.1 .6 1.1 .5 1.1 .6 1.1 .5 1.1 .5 1.2 .4 1.1 .4 1.1 .4 1.1 .3 1.1 .3 1.1 .1 1.1 .1 1.1 -.2 1.1 -.3 1.1 -.6 1.1 -.7 1.1 -.9 1.1 -.9 1.1 -.6 1.2 -.3 1.1 .2 1.1 .6 1.1 1 1.1 1.2 1.1 1.3 1.1 1.1 1.1 1.1 1.1 .7 1.1 .6 1.1 .5 1.1 .3 1.1 .3 1.1 .3 1.1 .2 1.2 .3 1.1 .2 1.1 .2 1.1 .2 1.1 .2 1.1 .1 1.1 .1 1.1 .1 1.1 0 1.1 .1 1.1 0 1.1 0 1.1 .1 1.1 0 1.2 0 1.1 0 1.1 0 1.1 0 1.1 0 1.1 0 1.1 0" stroke="#c4c4c4" stroke-width="0.7" opacity="0.72"/>
<path d="M122.6 172.7l1.1 1.9 1.1 1.8 1.1 1.8 1.1 1.5 1.1 1.4 1.1 1.1 1.1 .3 1.2 -.9 1.1 -2.9 1.1 -5.4 1.1 -7.9 1.1 -9 1.1 -7.7 1.1 -4 1.1 1.3 1.1 6.3 1.1 9.5 1.1 10.1 1.1 9 1.1 6.8 1.1 4.6 1.2 2.9 1.1 1.8 1.1 1.1 1.1 .7 1.1 .5 1.1 .5 1.1 .4 1.1 .4 1.1 .4 1.1 .3 1.1 .3 1.1 .4 1.1 .2 1.1 .3 1.2 .3 1.1 .2 1.1 .3 1.1 .2 1.1 .2 1.1 .2 1.1 .3 1.1 .2 1.1 .2 1.1 .2 1.1 .2 1.1 .2 1.1 .3 1.1 .2 1.1 .3 1.2 .2 1.1 .3 1.1 .2 1.1 .2 1.1 .2 1.1 .1 1.1 .1 1.1 .1 1.1 .1 1.1 0 1.1 0 1.1 .1 1.1 0 1.1 0 1.2 0 1.1 0 1.1 0 1.1 0 1.1 0 1.1 0 1.1 0" stroke="#c4c4c4" stroke-width="0.7" opacity="0.72"/>
<path d="M122.6 134.4l1.1 9.4 1.1 8 1.1 7 1.1 6 1.1 5.2 1.1 4.4 1.1 3.7 1.2 2.9 1.1 1.4 1.1 -1 1.1 -4.3 1.1 -7.6 1.1 -8.9 1.1 -6.2 1.1 .2 1.1 6.9 1.1 11 1.1 11 1.1 8.2 1.1 5 1.1 2.5 1.2 1.1 1.1 .4 1.1 -.3 1.1 -1.8 1.1 -4.5 1.1 -8.3 1.1 -12.4 1.1 -14.4 1.1 -12 1.1 -4.7 1.1 4.7 1.1 12.1 1.1 14.8 1.1 12.9 1.2 8.9 1.1 5 1.1 2.4 1.1 1 1.1 .4 1.1 .1 1.1 .2 1.1 .1 1.1 .1 1.1 .1 1.1 .2 1.1 .1 1.1 .2 1.1 .2 1.1 .2 1.2 .2 1.1 .3 1.1 .2 1.1 .2 1.1 .1 1.1 .2 1.1 .1 1.1 .1 1.1 0 1.1 .1 1.1 0 1.1 0 1.1 0 1.1 0 1.2 0 1.1 .1 1.1 0 1.1 0 1.1 0 1.1 0 1.1 0" stroke="#c0d8ea" stroke-width="0.7" opacity="0.72"/>
<path d="M122.6 195.9l1.1 .7 1.1 .6 1.1 .6 1.1 .5 1.1 .5 1.1 .3 1.1 .2 1.2 -.2 1.1 -.8 1.1 -1.7 1.1 -3 1.1 -4.1 1.1 -4.7 1.1 -4.4 1.1 -2.6 1.1 -.2 1.1 2.5 1.1 4.5 1.1 5.1 1.1 4.7 1.1 3.7 1.2 2.4 1.1 1.4 1.1 .8 1.1 .4 1.1 .2 1.1 .2 1.1 .1 1.1 .1 1.1 .1 1.1 .1 1.1 .1 1.1 .1 1.1 .1 1.1 0 1.2 .1 1.1 .1 1.1 .1 1.1 .1 1.1 .1 1.1 0 1.1 .1 1.1 .1 1.1 .1 1.1 .2 1.1 .1 1.1 .1 1.1 .2 1.1 .2 1.1 .2 1.2 .2 1.1 .3 1.1 .2 1.1 .2 1.1 .1 1.1 .2 1.1 .1 1.1 0 1.1 .1 1.1 .1 1.1 0 1.1 0 1.1 0 1.1 0 1.2 0 1.1 .1 1.1 0 1.1 0 1.1 0 1.1 0 1.1 0" stroke="#c4c4c4" stroke-width="0.7" opacity="0.72"/>
<path d="M122.6 167.3l1.1 2.4 1.1 1.8 1.1 1.3 1.1 .5 1.1 -.4 1.1 -1.3 1.1 -2.2 1.2 -3 1.1 -3.4 1.1 -3.3 1.1 -2.8 1.1 -1.6 1.1 0 1.1 1.7 1.1 3.3 1.1 4.6 1.1 5.4 1.1 5.5 1.1 5.2 1.1 4.3 1.1 3.1 1.2 1.6 1.1 .1 1.1 -1.7 1.1 -3.4 1.1 -5 1.1 -5.9 1.1 -6.3 1.1 -5.6 1.1 -4 1.1 -1.5 1.1 1.2 1.1 3.9 1.1 5.8 1.1 6.9 1.2 7 1.1 6.3 1.1 5.3 1.1 3.9 1.1 2.8 1.1 1.9 1.1 1.1 1.1 .8 1.1 .4 1.1 .3 1.1 .3 1.1 .3 1.1 .2 1.1 .3 1.1 .3 1.2 .2 1.1 .3 1.1 .3 1.1 .2 1.1 .2 1.1 .2 1.1 .1 1.1 .1 1.1 .1 1.1 0 1.1 .1 1.1 0 1.1 0 1.1 0 1.2 0 1.1 0 1.1 .1 1.1 0 1.1 0 1.1 0 1.1 0" stroke="#c4c4c4" stroke-width="0.7" opacity="0.72"/>
<path d="M122.6 159.5l1.1 2.6 1.1 2.4 1.1 2.2 1.1 2.2 1.1 2 1.1 1.9 1.1 1.8 1.2 1.7 1.1 1.7 1.1 1.5 1.1 1.4 1.1 1.4 1.1 1.3 1.1 1.2 1.1 1.2 1.1 1.1 1.1 1 1.1 1 1.1 .9 1.1 .9 1.1 .8 1.2 .4 1.1 -.4 1.1 -2.6 1.1 -6.6 1.1 -12.9 1.1 -19.1 1.1 -21.4 1.1 -16 1.1 -3.3 1.1 11.2 1.1 20.7 1.1 22.1 1.1 17.3 1.1 10.7 1.2 5.4 1.1 2.4 1.1 1 1.1 .5 1.1 .4 1.1 .3 1.1 .3 1.1 .3 1.1 .3 1.1 .3 1.1 .4 1.1 .3 1.1 .4 1.1 .4 1.1 .4 1.2 .4 1.1 .4 1.1 .4 1.1 .3 1.1 .3 1.1 .2 1.1 .2 1.1 .1 1.1 .1 1.1 .1 1.1 0 1.1 0 1.1 .1 1.1 0 1.2 0 1.1 0 1.1 0 1.1 0 1.1 0 1.1 .1 1.1 0" stroke="#c4c4c4" stroke-width="0.7" opacity="0.72"/>
<path d="M122.6 143.8l1.1 -6.2 1.1 -5.2 1.1 -6.1 1.1 -10.5 1.1 -17.3 1.1 -21.1 1.1 -15.9 1.2 .1 1.1 19.9 1.1 33 1.1 34 1.1 25.8 1.1 15.3 1.1 7.4 1.1 3 1.1 1.1 1.1 .5 1.1 .2 1.1 .3 1.1 .1 1.1 .2 1.2 .2 1.1 .1 1.1 .2 1.1 .1 1.1 .2 1.1 .1 1.1 .1 1.1 .1 1.1 .1 1.1 .1 1.1 .1 1.1 .1 1.1 .1 1.1 .1 1.2 .1 1.1 .1 1.1 .1 1.1 .1 1.1 .1 1.1 0 1.1 .1 1.1 .1 1.1 .2 1.1 .1 1.1 .1 1.1 .2 1.1 .1 1.1 .2 1.1 .3 1.2 .2 1.1 .2 1.1 .2 1.1 .2 1.1 .2 1.1 .1 1.1 .2 1.1 0 1.1 .1 1.1 0 1.1 .1 1.1 0 1.1 0 1.1 0 1.2 0 1.1 .1 1.1 0 1.1 0 1.1 0 1.1 0 1.1 0" stroke="#ecd3c0" stroke-width="0.7" opacity="0.72"/>
<path d="M122.6 189.7l1.1 .9 1.1 .8 1.1 .8 1.1 .8 1.1 .7 1.1 .6 1.1 .7 1.2 .6 1.1 .5 1.1 .6 1.1 .5 1.1 .4 1.1 .5 1.1 .3 1.1 .3 1.1 .1 1.1 0 1.1 -.4 1.1 -.7 1.1 -1.1 1.1 -1.4 1.2 -1.8 1.1 -1.7 1.1 -1.5 1.1 -1 1.1 -.2 1.1 .6 1.1 1.4 1.1 1.9 1.1 2.2 1.1 2.2 1.1 2 1.1 1.6 1.1 1.2 1.1 .9 1.2 .6 1.1 .4 1.1 .3 1.1 .2 1.1 .1 1.1 .2 1.1 .1 1.1 .1 1.1 .2 1.1 .1 1.1 .2 1.1 .1 1.1 .2 1.1 .2 1.1 .2 1.2 .2 1.1 .2 1.1 .2 1.1 .2 1.1 .1 1.1 .2 1.1 0 1.1 .1 1.1 .1 1.1 0 1.1 0 1.1 0 1.1 .1 1.1 0 1.2 0 1.1 0 1.1 0 1.1 0 1.1 0 1.1 0 1.1 0" stroke="#c4c4c4" stroke-width="0.7" opacity="0.72"/>
<path d="M122.6 185.6l1.1 -.1 1.1 -.5 1.1 -.8 1.1 -1 1.1 -.7 1.1 -.2 1.1 .7 1.2 1.5 1.1 2.2 1.1 2.6 1.1 2.5 1.1 2.3 1.1 1.9 1.1 1.4 1.1 1.1 1.1 .7 1.1 .6 1.1 .5 1.1 .4 1.1 .3 1.1 .4 1.2 .3 1.1 .2 1.1 .3 1.1 .3 1.1 .2 1.1 .2 1.1 .2 1.1 .2 1.1 .2 1.1 .2 1.1 .2 1.1 .1 1.1 .2 1.1 .1 1.2 .1 1.1 .2 1.1 .1 1.1 .1 1.1 .1 1.1 .2 1.1 .1 1.1 .1 1.1 .1 1.1 .1 1.1 .2 1.1 .1 1.1 .2 1.1 .1 1.1 .2 1.2 .2 1.1 .2 1.1 .2 1.1 .1 1.1 .2 1.1 .1 1.1 .1 1.1 0 1.1 .1 1.1 0 1.1 0 1.1 .1 1.1 0 1.1 0 1.2 0 1.1 0 1.1 0 1.1 0 1.1 0 1.1 0 1.1 0" stroke="#c4c4c4" stroke-width="0.7" opacity="0.72"/>
<path d="M122.6 151.1l1.1 3.2 1.1 3 1.1 2.9 1.1 2.6 1.1 2.6 1.1 2.4 1.1 2.2 1.2 2.1 1.1 2 1.1 1.9 1.1 1.8 1.1 1.6 1.1 1.6 1.1 1.5 1.1 1.4 1.1 1.3 1.1 1.3 1.1 1.2 1.1 1.1 1.1 1 1.1 .9 1.2 .9 1.1 .5 1.1 0 1.1 -1 1.1 -2.7 1.1 -4.8 1.1 -6.9 1.1 -8.3 1.1 -7.5 1.1 -4.6 1.1 .1 1.1 4.8 1.1 8.3 1.1 9.3 1.2 8.4 1.1 6.3 1.1 4.1 1.1 2.3 1.1 1.4 1.1 .7 1.1 .5 1.1 .3 1.1 .4 1.1 .3 1.1 .3 1.1 .4 1.1 .3 1.1 .4 1.1 .4 1.2 .3 1.1 .4 1.1 .3 1.1 .3 1.1 .3 1.1 .1 1.1 .2 1.1 .1 1.1 .1 1.1 0 1.1 .1 1.1 0 1.1 0 1.1 0 1.2 .1 1.1 0 1.1 0 1.1 0 1.1 0 1.1 0 1.1 0" stroke="#c4c4c4" stroke-width="0.7" opacity="0.72"/>
<path d="M122.6 180.7l1.1 1.6 1.1 1.5 1.1 1.4 1.1 1.2 1.1 1.2 1.1 1.1 1.1 1 1.2 1 1.1 .9 1.1 .8 1.1 .8 1.1 .7 1.1 .7 1.1 .6 1.1 .6 1.1 .5 1.1 .3 1.1 0 1.1 -.3 1.1 -.9 1.1 -1.6 1.2 -2.6 1.1 -3.4 1.1 -4 1.1 -4.1 1.1 -3.5 1.1 -2.1 1.1 -.2 1.1 1.7 1.1 3.4 1.1 4.4 1.1 4.7 1.1 4.3 1.1 3.6 1.1 2.7 1.2 1.8 1.1 1.2 1.1 .8 1.1 .5 1.1 .3 1.1 .2 1.1 .2 1.1 .1 1.1 .2 1.1 .2 1.1 .2 1.1 .2 1.1 .3 1.1 .2 1.1 .3 1.2 .3 1.1 .4 1.1 .2 1.1 .3 1.1 .2 1.1 .2 1.1 .1 1.1 .1 1.1 .1 1.1 .1 1.1 0 1.1 .1 1.1 0 1.1 0 1.2 0 1.1 0 1.1 0 1.1 0 1.1 0 1.1 0 1.1 0" stroke="#c4c4c4" stroke-width="0.7" opacity="0.72"/>
<path d="M122.6 157.7l1.1 -2.8 1.1 -2.1 1.1 -.5 1.1 1.5 1.1 3.3 1.1 4.5 1.1 4.8 1.2 4.2 1.1 3.3 1.1 2.3 1.1 1.6 1.1 1.1 1.1 1.2 1.1 1.3 1.1 1.6 1.1 1.9 1.1 2 1.1 2.1 1.1 1.9 1.1 1.7 1.1 1.5 1.2 1.2 1.1 1 1.1 .8 1.1 .6 1.1 .6 1.1 .4 1.1 .4 1.1 .4 1.1 .3 1.1 .3 1.1 .4 1.1 .2 1.1 .3 1.1 .3 1.2 .2 1.1 .3 1.1 .2 1.1 .2 1.1 .2 1.1 .2 1.1 .2 1.1 .3 1.1 .2 1.1 .2 1.1 .3 1.1 .3 1.1 .3 1.1 .3 1.1 .4 1.2 .3 1.1 .4 1.1 .3 1.1 .3 1.1 .3 1.1 .2 1.1 .2 1.1 .1 1.1 .1 1.1 0 1.1 .1 1.1 0 1.1 .1 1.1 0 1.2 0 1.1 0 1.1 0 1.1 0 1.1 0 1.1 0 1.1 0" stroke="#c4c4c4" stroke-width="0.7" opacity="0.72"/>
<path d="M122.6 151.5l1.1 4.6 1.1 4.3 1.1 3.8 1.1 3.6 1.1 3.2 1.1 3 1.1 2.6 1.2 1.9 1.1 .7 1.1 -2 1.1 -6.5 1.1 -12.3 1.1 -16.4 1.1 -15.1 1.1 -6.8 1.1 5.5 1.1 15.6 1.1 19.3 1.1 16.7 1.1 11.2 1.1 6.1 1.2 3 1.1 1.4 1.1 .8 1.1 .3 1.1 -.4 1.1 -1.8 1.1 -4.3 1.1 -7.9 1.1 -12 1.1 -14.8 1.1 -13.9 1.1 -8.7 1.1 -.1 1.1 8.7 1.2 14.3 1.1 15.3 1.1 12.9 1.1 8.9 1.1 5.1 1.1 2.5 1.1 1.2 1.1 .5 1.1 .2 1.1 .2 1.1 .2 1.1 .1 1.1 .2 1.1 .1 1.1 .2 1.2 .1 1.1 .2 1.1 .1 1.1 .2 1.1 0 1.1 .1 1.1 .1 1.1 0 1.1 .1 1.1 0 1.1 0 1.1 0 1.1 0 1.1 0 1.2 0 1.1 0 1.1 0 1.1 0 1.1 0 1.1 0 1.1 .1" stroke="#c4c4c4" stroke-width="0.7" opacity="0.72"/>
<path d="M122.6 193.2l1.1 -2 1.1 -2.3 1.1 -2.4 1.1 -2.1 1.1 -1.6 1.1 -.7 1.1 .1 1.2 .6 1.1 .2 1.1 -1.6 1.1 -4.1 1.1 -5.7 1.1 -4.7 1.1 -.4 1.1 5.1 1.1 8.7 1.1 9.1 1.1 6.9 1.1 4 1.1 2 1.1 .8 1.2 .3 1.1 .2 1.1 .1 1.1 .1 1.1 .2 1.1 .1 1.1 .1 1.1 .1 1.1 .1 1.1 .1 1.1 .1 1.1 0 1.1 .1 1.1 .1 1.2 .1 1.1 .1 1.1 .1 1.1 0 1.1 .1 1.1 .1 1.1 .1 1.1 .1 1.1 0 1.1 .1 1.1 .2 1.1 .1 1.1 .1 1.1 .2 1.1 .2 1.2 .1 1.1 .2 1.1 .2 1.1 .1 1.1 .2 1.1 .1 1.1 .1 1.1 0 1.1 .1 1.1 0 1.1 0 1.1 .1 1.1 0 1.1 0 1.2 0 1.1 0 1.1 0 1.1 0 1.1 0 1.1 0 1.1 0" stroke="#c4c4c4" stroke-width="0.7" opacity="0.72"/>
<path d="M122.6 165.4l1.1 5.4 1.1 4.7 1.1 3.8 1.1 3.3 1.1 2.8 1.1 2.4 1.1 1.9 1.2 1.7 1.1 1.5 1.1 1.2 1.1 1.1 1.1 .9 1.1 .8 1.1 .7 1.1 .6 1.1 .5 1.1 .5 1.1 .3 1.1 .3 1.1 0 1.1 -.3 1.2 -.9 1.1 -1.7 1.1 -2.8 1.1 -3.8 1.1 -4.7 1.1 -5 1.1 -4.4 1.1 -3.1 1.1 -1.2 1.1 .8 1.1 2 1.1 2.5 1.1 2 1.1 1.4 1.2 1 1.1 1.2 1.1 1.9 1.1 3 1.1 3.5 1.1 3.7 1.1 3.3 1.1 2.5 1.1 1.7 1.1 1.1 1.1 .6 1.1 .4 1.1 .4 1.1 .2 1.1 .3 1.2 .3 1.1 .3 1.1 .3 1.1 .3 1.1 .2 1.1 .2 1.1 .1 1.1 .1 1.1 .1 1.1 .1 1.1 0 1.1 0 1.1 .1 1.1 0 1.2 0 1.1 0 1.1 0 1.1 0 1.1 0 1.1 0 1.1 0" stroke="#c4c4c4" stroke-width="0.7" opacity="0.72"/>
<path d="M122.6 136.1l1.1 8.3 1.1 7.2 1.1 6.4 1.1 5.6 1.1 4.9 1.1 4.4 1.1 3.8 1.2 3.4 1.1 3 1.1 2.6 1.1 2.3 1.1 2.1 1.1 1.8 1.1 1.6 1.1 1.4 1.1 1.2 1.1 1.1 1.1 1 1.1 .9 1.1 .7 1.1 .7 1.2 .6 1.1 .5 1.1 .5 1.1 .4 1.1 .4 1.1 .3 1.1 0 1.1 -.6 1.1 -1.9 1.1 -4.4 1.1 -8.1 1.1 -11.6 1.1 -12.8 1.1 -9.9 1.2 -2.8 1.1 5.6 1.1 11.6 1.1 12.6 1.1 9.3 1.1 3.5 1.1 -3.1 1.1 -8.6 1.1 -10.7 1.1 -7.9 1.1 -.7 1.1 7.1 1.1 11.5 1.1 11.1 1.1 7.8 1.2 4.2 1.1 1.8 1.1 .7 1.1 .3 1.1 .1 1.1 .1 1.1 0 1.1 .1 1.1 0 1.1 .1 1.1 0 1.1 0 1.1 0 1.1 0 1.2 0 1.1 0 1.1 0 1.1 0 1.1 0 1.1 0 1.1 0" stroke="#c4c4c4" stroke-width="0.7" opacity="0.72"/>
<path d="M122.6 174.5l1.1 2.7 1.1 1.4 1.1 -.1 1.1 -1.8 1.1 -3.1 1.1 -3.1 1.1 -1.7 1.2 .8 1.1 3.6 1.1 5.5 1.1 6 1.1 5.3 1.1 4 1.1 2.5 1.1 1.6 1.1 1 1.1 .6 1.1 .4 1.1 .4 1.1 .4 1.1 .3 1.2 .2 1.1 .3 1.1 .2 1.1 .2 1.1 .2 1.1 .2 1.1 .2 1.1 .1 1.1 .2 1.1 .1 1.1 .2 1.1 .1 1.1 .1 1.1 .1 1.2 .1 1.1 .2 1.1 .1 1.1 .1 1.1 .1 1.1 .1 1.1 .1 1.1 .1 1.1 .1 1.1 .2 1.1 .1 1.1 .2 1.1 .2 1.1 .2 1.1 .3 1.2 .2 1.1 .3 1.1 .2 1.1 .2 1.1 .2 1.1 .2 1.1 .1 1.1 .1 1.1 .1 1.1 0 1.1 .1 1.1 0 1.1 0 1.1 0 1.2 0 1.1 0 1.1 0 1.1 0 1.1 .1 1.1 0 1.1 0" stroke="#c4c4c4" stroke-width="0.7" opacity="0.72"/>
<path d="M122.6 173.2l1.1 2 1.1 1.8 1.1 1.7 1.1 1.6 1.1 1.4 1.1 1.1 1.1 .6 1.2 -.4 1.1 -2.3 1.1 -5.3 1.1 -9.5 1.1 -13.9 1.1 -16.3 1.1 -14.4 1.1 -8.1 1.1 .5 1.1 7.9 1.1 12.1 1.1 13.5 1.1 12.9 1.1 11.2 1.2 9.2 1.1 7 1.1 4.9 1.1 3.2 1.1 2 1.1 1.3 1.1 .7 1.1 .6 1.1 .4 1.1 .3 1.1 .3 1.1 .3 1.1 .2 1.1 .3 1.2 .2 1.1 .3 1.1 .2 1.1 .2 1.1 .2 1.1 .2 1.1 .2 1.1 .2 1.1 .2 1.1 .2 1.1 .3 1.1 .2 1.1 .3 1.1 .3 1.1 .3 1.2 .3 1.1 .3 1.1 .3 1.1 .3 1.1 .2 1.1 .1 1.1 .2 1.1 .1 1.1 .1 1.1 0 1.1 0 1.1 .1 1.1 0 1.1 0 1.2 0 1.1 0 1.1 0 1.1 .1 1.1 0 1.1 0 1.1 0" stroke="#c4c4c4" stroke-width="0.7" opacity="0.72"/>
<path d="M122.6 135.7l1.1 -17 1.1 -11.4 1.1 -1.8 1.1 8.6 1.1 16.3 1.1 19.2 1.1 17.6 1.2 13.3 1.1 8.7 1.1 4.9 1.1 2.5 1.1 1.2 1.1 .7 1.1 .4 1.1 .4 1.1 .3 1.1 .3 1.1 .2 1.1 .3 1.1 .2 1.1 .3 1.2 .2 1.1 .2 1.1 .2 1.1 .2 1.1 .2 1.1 .2 1.1 .1 1.1 .2 1.1 .2 1.1 .1 1.1 .1 1.1 .1 1.1 -.1 1.1 -.5 1.2 -1.1 1.1 -2.3 1.1 -3.8 1.1 -5.3 1.1 -6.1 1.1 -5.3 1.1 -3.1 1.1 .4 1.1 3.8 1.1 6 1.1 6.4 1.1 5.4 1.1 3.9 1.1 2.4 1.1 1.4 1.2 .7 1.1 .4 1.1 .3 1.1 .3 1.1 .2 1.1 .2 1.1 .1 1.1 .1 1.1 .1 1.1 0 1.1 0 1.1 .1 1.1 0 1.1 0 1.2 0 1.1 0 1.1 0 1.1 0 1.1 0 1.1 .1 1.1 0" stroke="#c4c4c4" stroke-width="0.7" opacity="0.72"/>
<path d="M122.6 192.2l1.1 .8 1.1 .8 1.1 .6 1.1 .6 1.1 .3 1.1 0 1.1 -.5 1.2 -1.2 1.1 -2.1 1.1 -2.7 1.1 -3.1 1.1 -2.8 1.1 -1.8 1.1 -.2 1.1 1.5 1.1 3 1.1 3.7 1.1 3.7 1.1 3.2 1.1 2.5 1.1 1.7 1.2 1 1.1 .7 1.1 .4 1.1 .3 1.1 .2 1.1 .1 1.1 .2 1.1 .1 1.1 -.1 1.1 -.4 1.1 -.9 1.1 -1.5 1.1 -1.7 1.1 -1.3 1.2 -.1 1.1 1.1 1.1 1.9 1.1 1.9 1.1 1.3 1.1 .8 1.1 .4 1.1 .2 1.1 .2 1.1 .1 1.1 .2 1.1 .1 1.1 .2 1.1 .2 1.1 .2 1.2 .2 1.1 .3 1.1 .2 1.1 .2 1.1 .1 1.1 .2 1.1 .1 1.1 .1 1.1 0 1.1 .1 1.1 0 1.1 0 1.1 0 1.1 0 1.2 .1 1.1 0 1.1 0 1.1 0 1.1 0 1.1 0 1.1 0" stroke="#c0d8ea" stroke-width="0.7" opacity="0.72"/>
<path d="M122.6 156.24C122.92 156.78 123.88 158.13 124.52 159.47C125.16 160.82 125.8 162.57 126.43 164.32C127.07 166.07 127.71 168.23 128.35 169.98C128.99 171.73 129.63 173.48 130.27 174.83C130.91 176.18 131.55 177.25 132.19 178.06C132.82 178.87 133.46 179.68 134.1 179.68C134.74 179.68 135.38 179.27 136.02 178.06C136.66 176.85 137.3 174.43 137.94 172.4C138.58 170.38 139.37 167.29 139.85 165.94C140.33 164.59 140.49 164.32 140.81 164.32C141.13 164.32 141.29 164.73 141.77 165.94C142.25 167.15 143.05 169.98 143.69 171.6C144.33 173.21 144.96 174.56 145.6 175.64C146.24 176.72 146.88 177.39 147.52 178.06C148.16 178.74 148.8 179.14 149.44 179.68C150.08 180.22 150.72 180.89 151.35 181.3C151.99 181.7 152.63 181.97 153.27 182.1C153.91 182.24 154.55 181.83 155.19 182.1C155.83 182.37 156.47 183.05 157.11 183.72C157.75 184.39 158.38 185.47 159.02 186.14C159.66 186.82 160.3 187.36 160.94 187.76C161.58 188.17 162.22 188.37 162.86 188.57C163.5 188.77 164.13 188.97 164.77 188.97C165.41 188.97 166.05 188.77 166.69 188.57C167.33 188.37 167.97 187.76 168.61 187.76C169.25 187.76 169.89 188.03 170.53 188.57C171.16 189.11 171.8 190.19 172.44 190.99C173.08 191.8 173.72 192.61 174.36 193.42C175 194.23 175.64 195.17 176.28 195.84C176.92 196.52 177.55 196.92 178.19 197.46C178.83 198 179.15 198.54 180.11 199.08C181.07 199.62 182.03 200.22 183.94 200.69C185.86 201.16 188.74 201.64 191.61 201.91C194.49 202.17 199.6 202.24 201.2 202.31 L201.2 207.7C199.6 207.68 194.49 207.75 191.61 207.56C188.74 207.37 185.86 206.94 183.94 206.55C182.03 206.16 181.07 205.65 180.11 205.2C179.15 204.75 178.83 204.3 178.19 203.85C177.55 203.4 176.92 203.06 176.28 202.5C175.64 201.94 175 201.15 174.36 200.48C173.72 199.8 173.08 199.13 172.44 198.45C171.8 197.78 171.16 196.88 170.53 196.43C169.89 195.98 169.25 195.75 168.61 195.75C167.97 195.75 167.33 196.26 166.69 196.43C166.05 196.6 165.41 196.77 164.77 196.77C164.13 196.77 163.5 196.6 162.86 196.43C162.22 196.26 161.58 196.09 160.94 195.75C160.3 195.42 159.66 194.97 159.02 194.4C158.38 193.84 157.75 192.94 157.11 192.38C156.47 191.82 155.83 191.26 155.19 191.03C154.55 190.81 153.91 191.14 153.27 191.03C152.63 190.92 151.99 190.69 151.35 190.36C150.72 190.02 150.08 189.46 149.44 189.01C148.8 188.56 148.16 188.22 147.52 187.66C146.88 187.09 146.24 186.53 145.6 185.63C144.96 184.73 144.33 183.61 143.69 182.26C143.05 180.91 142.25 178.55 141.77 177.54C141.29 176.52 141.13 176.19 140.81 176.19C140.49 176.19 140.33 176.41 139.85 177.54C139.37 178.66 138.58 181.25 137.94 182.93C137.3 184.62 136.66 186.65 136.02 187.66C135.38 188.67 134.74 189.01 134.1 189.01C133.46 189.01 132.82 188.33 132.19 187.66C131.55 186.98 130.91 186.08 130.27 184.96C129.63 183.83 128.99 182.37 128.35 180.91C127.71 179.45 127.07 177.65 126.43 176.19C125.8 174.72 125.16 173.26 124.52 172.14C123.88 171.01 122.92 169.89 122.6 169.44 Z" fill="#6fb0e6" opacity="0.4"/>
<path d="M122.6 163.21C122.92 163.7 123.88 164.94 124.52 166.18C125.16 167.41 125.8 169.02 126.43 170.62C127.07 172.23 127.71 174.21 128.35 175.82C128.99 177.42 129.63 179.03 130.27 180.26C130.91 181.5 131.55 182.49 132.19 183.23C132.82 183.97 133.46 184.71 134.1 184.71C134.74 184.71 135.38 184.34 136.02 183.23C136.66 182.12 137.3 179.89 137.94 178.04C138.58 176.19 139.37 173.34 139.85 172.11C140.33 170.87 140.49 170.62 140.81 170.62C141.13 170.62 141.29 171 141.77 172.11C142.25 173.22 143.05 175.82 143.69 177.3C144.33 178.78 144.96 180.02 145.6 181.01C146.24 181.99 146.88 182.61 147.52 183.23C148.16 183.85 148.8 184.22 149.44 184.71C150.08 185.21 150.72 185.83 151.35 186.2C151.99 186.57 152.63 186.81 153.27 186.94C153.91 187.06 154.55 186.69 155.19 186.94C155.83 187.19 156.47 187.8 157.11 188.42C157.75 189.04 158.38 190.03 159.02 190.65C159.66 191.26 160.3 191.76 160.94 192.13C161.58 192.5 162.22 192.68 162.86 192.87C163.5 193.06 164.13 193.24 164.77 193.24C165.41 193.24 166.05 193.06 166.69 192.87C167.33 192.68 167.97 192.13 168.61 192.13C169.25 192.13 169.89 192.38 170.53 192.87C171.16 193.36 171.8 194.35 172.44 195.09C173.08 195.84 173.72 196.58 174.36 197.32C175 198.06 175.64 198.93 176.28 199.54C176.92 200.16 177.55 200.53 178.19 201.03C178.83 201.52 179.15 202.02 180.11 202.51C181.07 203 182.03 203.56 183.94 203.99C185.86 204.43 188.74 204.86 191.61 205.1C194.49 205.35 199.6 205.41 201.2 205.48" stroke="#1f6fb8" stroke-width="1.1"/>
</g>
<path d="M122.6 125.8 V207.5 H201.2" fill="none" stroke="#262626" stroke-width="0.7"/>
<path d="M122.6 207.7 h1.2" stroke="#262626" stroke-width="0.5"/>
<text x="120.8" y="209.9" font-size="6.2" text-anchor="end" fill="#1c1c1c" font-family="'DejaVu Sans Condensed','DejaVu Sans','Liberation Sans',sans-serif" font-weight="normal" stroke="#1c1c1c" stroke-width="0.1">0</text>
<path d="M122.6 192.87 h1.2" stroke="#262626" stroke-width="0.5"/>
<text x="120.8" y="195.07" font-size="6.2" text-anchor="end" fill="#1c1c1c" font-family="'DejaVu Sans Condensed','DejaVu Sans','Liberation Sans',sans-serif" font-weight="normal" stroke="#1c1c1c" stroke-width="0.1">0.02</text>
<path d="M122.6 178.04 h1.2" stroke="#262626" stroke-width="0.5"/>
<text x="120.8" y="180.24" font-size="6.2" text-anchor="end" fill="#1c1c1c" font-family="'DejaVu Sans Condensed','DejaVu Sans','Liberation Sans',sans-serif" font-weight="normal" stroke="#1c1c1c" stroke-width="0.1">0.04</text>
<path d="M122.6 163.21 h1.2" stroke="#262626" stroke-width="0.5"/>
<text x="120.8" y="165.41" font-size="6.2" text-anchor="end" fill="#1c1c1c" font-family="'DejaVu Sans Condensed','DejaVu Sans','Liberation Sans',sans-serif" font-weight="normal" stroke="#1c1c1c" stroke-width="0.1">0.06</text>
<path d="M122.6 148.38 h1.2" stroke="#262626" stroke-width="0.5"/>
<text x="120.8" y="150.58" font-size="6.2" text-anchor="end" fill="#1c1c1c" font-family="'DejaVu Sans Condensed','DejaVu Sans','Liberation Sans',sans-serif" font-weight="normal" stroke="#1c1c1c" stroke-width="0.1">0.08</text>
<path d="M122.6 133.55 h1.2" stroke="#262626" stroke-width="0.5"/>
<text x="120.8" y="135.75" font-size="6.2" text-anchor="end" fill="#1c1c1c" font-family="'DejaVu Sans Condensed','DejaVu Sans','Liberation Sans',sans-serif" font-weight="normal" stroke="#1c1c1c" stroke-width="0.1">0.1</text>
<path d="M134.1 207.5 v-1.2" stroke="#262626" stroke-width="0.5"/>
<text x="134.1" y="217.3" font-size="6.2" text-anchor="middle" fill="#1c1c1c" font-family="'DejaVu Sans Condensed','DejaVu Sans','Liberation Sans',sans-serif" font-weight="normal" stroke="#1c1c1c" stroke-width="0.1">10</text>
<path d="M153.27 207.5 v-1.2" stroke="#262626" stroke-width="0.5"/>
<text x="153.27" y="217.3" font-size="6.2" text-anchor="middle" fill="#1c1c1c" font-family="'DejaVu Sans Condensed','DejaVu Sans','Liberation Sans',sans-serif" font-weight="normal" stroke="#1c1c1c" stroke-width="0.1">20</text>
<path d="M172.44 207.5 v-1.2" stroke="#262626" stroke-width="0.5"/>
<text x="172.44" y="217.3" font-size="6.2" text-anchor="middle" fill="#1c1c1c" font-family="'DejaVu Sans Condensed','DejaVu Sans','Liberation Sans',sans-serif" font-weight="normal" stroke="#1c1c1c" stroke-width="0.1">30</text>
<path d="M191.61 207.5 v-1.2" stroke="#262626" stroke-width="0.5"/>
<text x="191.61" y="217.3" font-size="6.2" text-anchor="middle" fill="#1c1c1c" font-family="'DejaVu Sans Condensed','DejaVu Sans','Liberation Sans',sans-serif" font-weight="normal" stroke="#1c1c1c" stroke-width="0.1">40</text>
<text x="164.9" y="226.4" font-size="6.6" text-anchor="middle" fill="#1c1c1c" font-family="'DejaVu Sans','Liberation Sans',sans-serif" font-weight="normal" stroke="#1c1c1c" stroke-width="0.18">Frequency (Hz)</text>
<text x="183" y="166.4" font-size="6.8" text-anchor="start" fill="#1c1c1c" font-family="'DejaVu Sans','Liberation Sans',sans-serif" font-weight="normal" stroke="#1c1c1c" stroke-width="0.18">C1</text>
<clipPath id="cc2"><rect x="221.9" y="125.8" width="78.6" height="81.7"/></clipPath>
<g clip-path="url(#cc2)" fill="none" stroke-linejoin="round">
<path d="M221.9 136l1.1 -1.1 1.1 -2.8 1.1 -3.4 1.1 -2.4 1.1 .3 1.1 3.7 1.1 7.1 1.2 9.5 1.1 10.5 1.1 9.9 1.1 8.3 1.1 6.4 1.1 4.6 1.1 3.1 1.1 2.2 1.1 1.6 1.1 1.2 1.1 1 1.1 .9 1.1 .7 1.1 .7 1.2 .7 1.1 .5 1.1 .5 1.1 .5 1.1 .4 1.1 .4 1.1 .4 1.1 .3 1.1 .2 1.1 -.1 1.1 -.9 1.1 -2.9 1.1 -6.6 1.1 -11.4 1.2 -14.8 1.1 -13.6 1.1 -6.2 1.1 4.6 1.1 13 1.1 15.4 1.1 12.6 1.1 7.8 1.1 3.8 1.1 1.6 1.1 .6 1.1 .3 1.1 .2 1.1 .3 1.1 .2 1.2 .3 1.1 .2 1.1 .3 1.1 .2 1.1 .2 1.1 .1 1.1 .1 1.1 .1 1.1 .1 1.1 0 1.1 .1 1.1 0 1.1 0 1.1 0 1.2 0 1.1 0 1.1 .1 1.1 0 1.1 0 1.1 0 1.1 0" stroke="#ecd3c0" stroke-width="0.7" opacity="0.72"/>
<path d="M221.9 171.1l1.1 1.3 1.1 1.6 1.1 2.1 1.1 2.6 1.1 3 1.1 3.2 1.1 3 1.2 2.7 1.1 2.2 1.1 1.7 1.1 1.4 1.1 1 1.1 .8 1.1 .6 1.1 .5 1.1 .5 1.1 .4 1.1 .4 1.1 .3 1.1 .3 1.1 .3 1.2 .3 1.1 .2 1.1 .2 1.1 .2 1.1 .2 1.1 .2 1.1 .2 1.1 .1 1.1 .2 1.1 .1 1.1 .2 1.1 .1 1.1 .1 1.1 .1 1.2 .2 1.1 .1 1.1 .1 1.1 .1 1.1 .1 1.1 .1 1.1 .1 1.1 .1 1.1 .2 1.1 .1 1.1 .2 1.1 .2 1.1 .2 1.1 .2 1.1 .3 1.2 .2 1.1 .3 1.1 .3 1.1 .2 1.1 .2 1.1 .2 1.1 .1 1.1 .1 1.1 0 1.1 .1 1.1 0 1.1 .1 1.1 0 1.1 0 1.2 0 1.1 0 1.1 0 1.1 0 1.1 0 1.1 0 1.1 .1" stroke="#c4c4c4" stroke-width="0.7" opacity="0.72"/>
<path d="M221.9 179.5l1.1 .2 1.1 -.4 1.1 -.7 1.1 -.5 1.1 .2 1.1 1.1 1.1 1.5 1.2 .7 1.1 -.9 1.1 -3.1 1.1 -5 1.1 -5.5 1.1 -4.4 1.1 -1.6 1.1 1.8 1.1 5 1.1 7 1.1 7.4 1.1 6.5 1.1 4.9 1.1 3.3 1.2 2.1 1.1 1.2 1.1 .7 1.1 .5 1.1 .4 1.1 .3 1.1 .3 1.1 .3 1.1 .2 1.1 .3 1.1 .2 1.1 .2 1.1 .2 1.1 .2 1.2 .1 1.1 .2 1.1 .2 1.1 .1 1.1 .2 1.1 .1 1.1 .1 1.1 .2 1.1 .1 1.1 .2 1.1 .1 1.1 .2 1.1 .1 1.1 .2 1.1 .2 1.2 .2 1.1 .2 1.1 .1 1.1 .2 1.1 .1 1.1 .1 1.1 .1 1.1 .1 1.1 0 1.1 0 1.1 .1 1.1 0 1.1 0 1.1 0 1.2 0 1.1 0 1.1 0 1.1 0 1.1 0 1.1 0 1.1 0" stroke="#c4c4c4" stroke-width="0.7" opacity="0.72"/>
<path d="M221.9 194.3l1.1 .9 1.1 .8 1.1 .5 1.1 .2 1.1 -.2 1.1 -.9 1.1 -1.6 1.2 -2.5 1.1 -3.4 1.1 -4.2 1.1 -4.5 1.1 -4.4 1.1 -3.5 1.1 -2 1.1 -.3 1.1 1.8 1.1 3.3 1.1 4.6 1.1 5 1.1 5 1.1 4.3 1.2 3.6 1.1 2.6 1.1 1.9 1.1 1.2 1.1 .8 1.1 .4 1.1 .3 1.1 .2 1.1 .2 1.1 .1 1.1 .1 1.1 .1 1.1 0 1.1 .1 1.2 .1 1.1 .1 1.1 0 1.1 .1 1.1 .1 1.1 .1 1.1 0 1.1 .1 1.1 .1 1.1 .1 1.1 .1 1.1 .1 1.1 .2 1.1 .1 1.1 .2 1.2 .2 1.1 .2 1.1 .2 1.1 .1 1.1 .2 1.1 .1 1.1 0 1.1 .1 1.1 .1 1.1 0 1.1 0 1.1 0 1.1 .1 1.1 0 1.2 0 1.1 0 1.1 0 1.1 0 1.1 0 1.1 0 1.1 0" stroke="#c4c4c4" stroke-width="0.7" opacity="0.72"/>
<path d="M221.9 173.7l1.1 2.8 1.1 2.5 1.1 2.2 1.1 1.9 1.1 1.6 1.1 1.2 1.1 .8 1.2 .5 1.1 .1 1.1 0 1.1 -.1 1.1 .1 1.1 .2 1.1 .6 1.1 1 1.1 1.3 1.1 1.6 1.1 1.7 1.1 1.7 1.1 1.6 1.1 1.3 1.2 1.2 1.1 .9 1.1 .7 1.1 .5 1.1 .4 1.1 .4 1.1 .2 1.1 .3 1.1 .2 1.1 .2 1.1 .1 1.1 .1 1.1 0 1.1 -.2 1.2 -.3 1.1 -.6 1.1 -.8 1.1 -.9 1.1 -1 1.1 -.7 1.1 -.4 1.1 .1 1.1 .7 1.1 1.1 1.1 1.2 1.1 1.3 1.1 1.1 1.1 .9 1.1 .6 1.2 .5 1.1 .3 1.1 .3 1.1 .2 1.1 .2 1.1 .1 1.1 .1 1.1 .1 1.1 0 1.1 .1 1.1 0 1.1 0 1.1 0 1.1 .1 1.2 0 1.1 0 1.1 0 1.1 0 1.1 0 1.1 0 1.1 0" stroke="#c4c4c4" stroke-width="0.7" opacity="0.72"/>
<path d="M221.9 179.7l1.1 1.8 1.1 1.7 1.1 1.6 1.1 1.4 1.1 1.3 1.1 1.2 1.1 1 1.2 .7 1.1 .5 1.1 0 1.1 -.5 1.1 -1.1 1.1 -1.5 1.1 -1.8 1.1 -1.8 1.1 -1.4 1.1 -.6 1.1 .4 1.1 1.3 1.1 1.9 1.1 2.2 1.2 2 1.1 1.5 1.1 .8 1.1 .3 1.1 -.2 1.1 -.3 1.1 -.3 1.1 .1 1.1 .4 1.1 .9 1.1 1.3 1.1 1.5 1.1 1.6 1.1 1.5 1.2 1.3 1.1 1.2 1.1 .9 1.1 .7 1.1 .5 1.1 .4 1.1 .3 1.1 .2 1.1 .2 1.1 .2 1.1 .1 1.1 .2 1.1 .2 1.1 .2 1.1 .3 1.2 .2 1.1 .2 1.1 .3 1.1 .2 1.1 .1 1.1 .2 1.1 .1 1.1 .1 1.1 0 1.1 .1 1.1 0 1.1 0 1.1 0 1.1 0 1.2 .1 1.1 0 1.1 0 1.1 0 1.1 0 1.1 0 1.1 0" stroke="#c0d8ea" stroke-width="0.7" opacity="0.72"/>
<path d="M221.9 188.3l1.1 2.6 1.1 2.2 1.1 1.8 1.1 1.5 1.1 1.3 1.1 1 1.1 1 1.2 .7 1.1 .6 1.1 .4 1.1 0 1.1 -.6 1.1 -1.7 1.1 -3 1.1 -4.8 1.1 -6.2 1.1 -6.7 1.1 -5.8 1.1 -3.4 1.1 .2 1.1 3.7 1.2 6.1 1.1 7.1 1.1 6.5 1.1 5 1.1 3.5 1.1 2 1.1 1.1 1.1 .6 1.1 .2 1.1 .2 1.1 .1 1.1 0 1.1 .1 1.1 0 1.2 .1 1.1 0 1.1 .1 1.1 0 1.1 .1 1.1 0 1.1 .1 1.1 .1 1.1 0 1.1 .1 1.1 .1 1.1 .1 1.1 .1 1.1 .1 1.1 .1 1.2 .1 1.1 .2 1.1 .1 1.1 .1 1.1 .1 1.1 .1 1.1 0 1.1 .1 1.1 0 1.1 .1 1.1 0 1.1 0 1.1 0 1.1 0 1.2 0 1.1 0 1.1 0 1.1 0 1.1 0 1.1 0 1.1 0" stroke="#c4c4c4" stroke-width="0.7" opacity="0.72"/>
<path d="M221.9 159.8l1.1 -1.8 1.1 -3.2 1.1 -3.9 1.1 -3.3 1.1 -1.1 1.1 1.9 1.1 5 1.2 6.9 1.1 7.3 1.1 6.6 1.1 5.1 1.1 3.5 1.1 2.5 1.1 1.7 1.1 1.2 1.1 1.1 1.1 .9 1.1 .9 1.1 .8 1.1 .8 1.1 .7 1.2 .7 1.1 .6 1.1 .6 1.1 .6 1.1 .6 1.1 .5 1.1 .5 1.1 .4 1.1 .5 1.1 .4 1.1 .4 1.1 .4 1.1 .3 1.1 .4 1.2 .3 1.1 .3 1.1 .3 1.1 .3 1.1 .3 1.1 .3 1.1 .2 1.1 .3 1.1 .3 1.1 .3 1.1 .3 1.1 .3 1.1 .4 1.1 .3 1.1 .4 1.2 .4 1.1 .4 1.1 .4 1.1 .3 1.1 .3 1.1 .2 1.1 .2 1.1 .1 1.1 .1 1.1 0 1.1 .1 1.1 0 1.1 .1 1.1 0 1.2 0 1.1 0 1.1 0 1.1 0 1.1 0 1.1 0 1.1 0" stroke="#c4c4c4" stroke-width="0.7" opacity="0.72"/>
<path d="M221.9 181.9l1.1 -2.2 1.1 -3.1 1.1 -3.1 1.1 -1.7 1.1 .6 1.1 3 1.1 4.5 1.2 4.9 1.1 4.1 1.1 3 1.1 1.9 1.1 1.2 1.1 .8 1.1 .6 1.1 .5 1.1 .5 1.1 .4 1.1 .4 1.1 .4 1.1 .4 1.1 .4 1.2 .3 1.1 .3 1.1 .3 1.1 .3 1.1 .3 1.1 .3 1.1 .3 1.1 .2 1.1 .2 1.1 .3 1.1 .2 1.1 .2 1.1 .2 1.1 .1 1.2 .2 1.1 .2 1.1 .2 1.1 .1 1.1 .2 1.1 .2 1.1 .1 1.1 .2 1.1 .1 1.1 .2 1.1 .2 1.1 .2 1.1 .2 1.1 .3 1.1 .3 1.2 .2 1.1 .3 1.1 .3 1.1 .2 1.1 .2 1.1 .1 1.1 .1 1.1 .1 1.1 .1 1.1 0 1.1 .1 1.1 0 1.1 0 1.1 0 1.2 0 1.1 .1 1.1 0 1.1 0 1.1 0 1.1 0 1.1 0" stroke="#c4c4c4" stroke-width="0.7" opacity="0.72"/>
<path d="M221.9 169.6l1.1 2.3 1.1 2.2 1.1 2.1 1.1 1.9 1.1 1.8 1.1 1.7 1.1 1.6 1.2 1.5 1.1 1.4 1.1 1.3 1.1 1.2 1.1 1.1 1.1 1.1 1.1 1 1.1 1 1.1 .9 1.1 .8 1.1 .7 1.1 .7 1.1 .5 1.1 .1 1.2 -.6 1.1 -1.7 1.1 -3 1.1 -4.1 1.1 -4.4 1.1 -3.7 1.1 -2.2 1.1 -.1 1.1 1.8 1.1 3.4 1.1 4.4 1.1 4.5 1.1 4.2 1.1 3.4 1.2 2.4 1.1 1.5 1.1 1 1.1 .5 1.1 .4 1.1 .2 1.1 .3 1.1 .1 1.1 .2 1.1 .2 1.1 .2 1.1 .2 1.1 .2 1.1 .2 1.1 .3 1.2 .2 1.1 .2 1.1 .2 1.1 .2 1.1 .1 1.1 .1 1.1 .1 1.1 .1 1.1 0 1.1 0 1.1 .1 1.1 0 1.1 0 1.1 0 1.2 0 1.1 0 1.1 0 1.1 0 1.1 0 1.1 0 1.1 0" stroke="#c4c4c4" stroke-width="0.7" opacity="0.72"/>
<path d="M221.9 191.3l1.1 -.9 1.1 -.7 1.1 -.4 1.1 .1 1.1 .7 1.1 1.2 1.1 1.5 1.2 1.8 1.1 1.8 1.1 1.6 1.1 1.5 1.1 1.1 1.1 .9 1.1 .6 1.1 .5 1.1 .4 1.1 .3 1.1 .2 1.1 .2 1.1 .2 1.1 0 1.2 -.2 1.1 -.7 1.1 -1.3 1.1 -2.2 1.1 -3 1.1 -3.1 1.1 -2.4 1.1 -.9 1.1 1.1 1.1 2.5 1.1 3.3 1.1 3.2 1.1 2.5 1.1 1.6 1.2 1 1.1 .4 1.1 .3 1.1 .1 1.1 .1 1.1 .1 1.1 0 1.1 .1 1.1 .1 1.1 .1 1.1 0 1.1 .1 1.1 .1 1.1 .1 1.1 .1 1.2 .1 1.1 .1 1.1 .1 1.1 .1 1.1 0 1.1 .1 1.1 0 1.1 .1 1.1 0 1.1 0 1.1 0 1.1 0 1.1 0 1.1 0 1.2 0 1.1 .1 1.1 0 1.1 0 1.1 0 1.1 0 1.1 0" stroke="#c4c4c4" stroke-width="0.7" opacity="0.72"/>
<path d="M221.9 176.9l1.1 1.8 1.1 1.6 1.1 1.6 1.1 1.4 1.1 1.3 1.1 1.3 1.1 1 1.2 .9 1.1 .2 1.1 -.9 1.1 -2.5 1.1 -4.2 1.1 -4.9 1.1 -3.9 1.1 -.7 1.1 3.1 1.1 5.7 1.1 6.3 1.1 5.2 1.1 3.4 1.1 1.9 1.2 1.1 1.1 .6 1.1 .4 1.1 .3 1.1 0 1.1 -.2 1.1 -.5 1.1 -1 1.1 -1.4 1.1 -1.5 1.1 -1.1 1.1 -.5 1.1 .5 1.1 1.3 1.2 1.9 1.1 1.9 1.1 1.7 1.1 1.3 1.1 .9 1.1 .5 1.1 .4 1.1 .3 1.1 .2 1.1 .2 1.1 .2 1.1 .3 1.1 .3 1.1 .3 1.1 .3 1.2 .3 1.1 .4 1.1 .3 1.1 .3 1.1 .2 1.1 .2 1.1 .2 1.1 .1 1.1 .1 1.1 .1 1.1 0 1.1 0 1.1 .1 1.1 0 1.2 0 1.1 0 1.1 0 1.1 0 1.1 0 1.1 0 1.1 0" stroke="#c4c4c4" stroke-width="0.7" opacity="0.72"/>
<path d="M221.9 196l1.1 .7 1.1 .6 1.1 .6 1.1 .6 1.1 .5 1.1 .5 1.1 .4 1.2 .5 1.1 .3 1.1 .4 1.1 .3 1.1 .3 1.1 .2 1.1 .2 1.1 0 1.1 -.3 1.1 -.5 1.1 -1 1.1 -1.4 1.1 -1.9 1.1 -2.2 1.2 -2.4 1.1 -2.1 1.1 -1.7 1.1 -.7 1.1 .3 1.1 1.2 1.1 2.1 1.1 2.5 1.1 2.6 1.1 2.4 1.1 2.1 1.1 1.6 1.1 1.1 1.1 .8 1.2 .5 1.1 .3 1.1 .2 1.1 .1 1.1 .1 1.1 .1 1.1 0 1.1 .1 1.1 .1 1.1 .1 1.1 .1 1.1 .1 1.1 .1 1.1 .1 1.1 .1 1.2 .1 1.1 .2 1.1 .1 1.1 .1 1.1 .1 1.1 .1 1.1 .1 1.1 0 1.1 0 1.1 .1 1.1 0 1.1 0 1.1 0 1.1 0 1.2 0 1.1 0 1.1 0 1.1 0 1.1 0 1.1 0 1.1 0" stroke="#c4c4c4" stroke-width="0.7" opacity="0.72"/>
<path d="M221.9 195.3l1.1 .7 1.1 .6 1.1 .6 1.1 .6 1.1 .5 1.1 .5 1.1 .5 1.2 .4 1.1 .4 1.1 .4 1.1 .4 1.1 .3 1.1 .3 1.1 .3 1.1 .3 1.1 .3 1.1 .2 1.1 .2 1.1 .1 1.1 0 1.1 -.2 1.2 -.4 1.1 -.9 1.1 -1.4 1.1 -1.9 1.1 -2.7 1.1 -3.1 1.1 -3.5 1.1 -3.3 1.1 -2.8 1.1 -1.8 1.1 -.6 1.1 .9 1.1 2.1 1.1 3.1 1.2 3.6 1.1 3.6 1.1 3.4 1.1 2.8 1.1 2.1 1.1 1.6 1.1 1.1 1.1 .7 1.1 .4 1.1 .3 1.1 .2 1.1 .2 1.1 .1 1.1 .1 1.1 .2 1.2 .1 1.1 .1 1.1 .1 1.1 .1 1.1 .1 1.1 .1 1.1 .1 1.1 0 1.1 0 1.1 .1 1.1 0 1.1 0 1.1 0 1.1 0 1.2 0 1.1 0 1.1 0 1.1 0 1.1 0 1.1 0 1.1 0" stroke="#ecd3c0" stroke-width="0.7" opacity="0.72"/>
<path d="M221.9 163.1l1.1 2.6 1.1 2.5 1.1 2.3 1.1 2.1 1.1 2 1.1 1.9 1.1 1.8 1.2 1.6 1.1 1.6 1.1 1.4 1.1 1.4 1.1 1.2 1.1 1.1 1.1 1.1 1.1 .8 1.1 .6 1.1 .3 1.1 0 1.1 -.4 1.1 -.7 1.1 -.8 1.2 -.6 1.1 -.3 1.1 .3 1.1 .9 1.1 1.4 1.1 1.9 1.1 2 1.1 1.9 1.1 1.6 1.1 1.3 1.1 1 1.1 .7 1.1 .6 1.1 .4 1.2 .3 1.1 .4 1.1 .2 1.1 .3 1.1 .3 1.1 .2 1.1 .3 1.1 .2 1.1 .3 1.1 .3 1.1 .2 1.1 .3 1.1 .4 1.1 .3 1.1 .4 1.2 .4 1.1 .4 1.1 .3 1.1 .3 1.1 .3 1.1 .2 1.1 .2 1.1 .1 1.1 .1 1.1 0 1.1 .1 1.1 0 1.1 .1 1.1 0 1.2 0 1.1 0 1.1 0 1.1 0 1.1 0 1.1 0 1.1 0" stroke="#c4c4c4" stroke-width="0.7" opacity="0.72"/>
<path d="M221.9 190.4l1.1 2.4 1.1 2 1.1 1.7 1.1 1.5 1.1 1.2 1.1 1.1 1.1 .9 1.2 .7 1.1 .7 1.1 .5 1.1 .3 1.1 0 1.1 -.6 1.1 -1.6 1.1 -2.8 1.1 -4.1 1.1 -4.7 1.1 -4.3 1.1 -2.4 1.1 .1 1.1 2.3 1.2 3.4 1.1 2.8 1.1 1.4 1.1 -.2 1.1 -1.3 1.1 -1.4 1.1 -.6 1.1 .6 1.1 1.9 1.1 2.7 1.1 3.1 1.1 2.8 1.1 2.3 1.1 1.7 1.2 1.1 1.1 .6 1.1 .3 1.1 .2 1.1 .1 1.1 .1 1.1 0 1.1 0 1.1 .1 1.1 0 1.1 0 1.1 .1 1.1 0 1.1 .1 1.1 0 1.2 .1 1.1 .1 1.1 0 1.1 .1 1.1 0 1.1 .1 1.1 0 1.1 0 1.1 0 1.1 0 1.1 0 1.1 0 1.1 .1 1.1 0 1.2 0 1.1 0 1.1 0 1.1 0 1.1 0 1.1 0 1.1 0" stroke="#c4c4c4" stroke-width="0.7" opacity="0.72"/>
<path d="M221.9 195.6l1.1 .5 1.1 .5 1.1 .4 1.1 .5 1.1 .4 1.1 .4 1.1 .3 1.2 .4 1.1 .3 1.1 .3 1.1 .3 1.1 .3 1.1 .3 1.1 .2 1.1 .3 1.1 .2 1.1 .2 1.1 .2 1.1 .2 1.1 .2 1.1 .2 1.2 .2 1.1 .1 1.1 .2 1.1 .1 1.1 .1 1.1 .1 1.1 -.1 1.1 -.1 1.1 -.3 1.1 -.6 1.1 -.9 1.1 -1.1 1.1 -1.3 1.1 -1.4 1.2 -1.4 1.1 -1.2 1.1 -.9 1.1 -.6 1.1 -.1 1.1 .3 1.1 .6 1.1 .9 1.1 1.2 1.1 1.4 1.1 1.5 1.1 1.7 1.1 1.5 1.1 1.3 1.1 1.2 1.2 .8 1.1 .6 1.1 .5 1.1 .3 1.1 .2 1.1 .2 1.1 .1 1.1 .1 1.1 0 1.1 .1 1.1 0 1.1 0 1.1 0 1.1 0 1.2 .1 1.1 0 1.1 0 1.1 0 1.1 0 1.1 0 1.1 0" stroke="#c4c4c4" stroke-width="0.7" opacity="0.72"/>
<path d="M221.9 173.3l1.1 1.6 1.1 1.6 1.1 1.5 1.1 1.4 1.1 1.3 1.1 1.2 1.1 .7 1.2 0 1.1 -1.7 1.1 -4.9 1.1 -9.5 1.1 -15.3 1.1 -20.2 1.1 -21.8 1.1 -17.8 1.1 -8 1.1 4.6 1.1 16.1 1.1 22.4 1.1 22.8 1.1 18.9 1.2 13 1.1 7.6 1.1 3.7 1.1 .9 1.1 -1 1.1 -2.6 1.1 -4.1 1.1 -5.3 1.1 -6.1 1.1 -6 1.1 -4.8 1.1 -2.7 1.1 .2 1.1 2.9 1.2 5.3 1.1 6.6 1.1 6.7 1.1 6.1 1.1 4.9 1.1 3.7 1.1 2.4 1.1 1.6 1.1 .9 1.1 .7 1.1 .4 1.1 .4 1.1 .4 1.1 .4 1.1 .4 1.2 .4 1.1 .4 1.1 .4 1.1 .3 1.1 .3 1.1 .2 1.1 .2 1.1 .1 1.1 .1 1.1 .1 1.1 .1 1.1 0 1.1 0 1.1 .1 1.2 0 1.1 0 1.1 0 1.1 0 1.1 0 1.1 0 1.1 0" stroke="#c4c4c4" stroke-width="0.7" opacity="0.72"/>
<path d="M221.9 180l1.1 1.6 1.1 1.5 1.1 1.3 1.1 1.4 1.1 1.2 1.1 1.2 1.1 1.1 1.2 1 1.1 1 1.1 .9 1.1 .9 1.1 .8 1.1 .7 1.1 .8 1.1 .6 1.1 .6 1.1 .6 1.1 .4 1.1 .3 1.1 0 1.1 -.3 1.2 -.6 1.1 -1.2 1.1 -1.7 1.1 -2.1 1.1 -2.5 1.1 -2.5 1.1 -2.2 1.1 -1.7 1.1 -.7 1.1 .4 1.1 1.4 1.1 2.3 1.1 2.9 1.1 3 1.2 3 1.1 2.7 1.1 2.1 1.1 1.7 1.1 1.2 1.1 .9 1.1 .6 1.1 .4 1.1 .3 1.1 .2 1.1 .2 1.1 .2 1.1 .2 1.1 .1 1.1 .2 1.2 .2 1.1 .2 1.1 .2 1.1 .1 1.1 .2 1.1 .1 1.1 0 1.1 .1 1.1 0 1.1 .1 1.1 0 1.1 0 1.1 0 1.1 0 1.2 0 1.1 0 1.1 0 1.1 0 1.1 0 1.1 0 1.1 0" stroke="#c4c4c4" stroke-width="0.7" opacity="0.72"/>
<path d="M221.9 169.1l1.1 3.8 1.1 3.3 1.1 2.8 1.1 2.2 1.1 .9 1.1 -1.1 1.1 -4.3 1.2 -8.7 1.1 -13.7 1.1 -17.9 1.1 -19.3 1.1 -16.3 1.1 -8.7 1.1 1.8 1.1 12 1.1 19 1.1 21.3 1.1 19.5 1.1 15.1 1.1 10.3 1.1 6.2 1.2 3.3 1.1 1.8 1.1 .9 1.1 .5 1.1 .3 1.1 .3 1.1 .2 1.1 .2 1.1 .2 1.1 .2 1.1 .1 1.1 .1 1.1 .2 1.1 .1 1.2 .1 1.1 .1 1.1 .1 1.1 .1 1.1 .1 1.1 0 1.1 .1 1.1 .1 1.1 .1 1.1 0 1.1 .1 1.1 .1 1.1 .1 1.1 .1 1.1 .1 1.2 .1 1.1 .1 1.1 .1 1.1 .1 1.1 0 1.1 .1 1.1 0 1.1 .1 1.1 0 1.1 0 1.1 0 1.1 0 1.1 0 1.1 0 1.2 0 1.1 0 1.1 0 1.1 0 1.1 .1 1.1 0 1.1 0" stroke="#c4c4c4" stroke-width="0.7" opacity="0.72"/>
<path d="M221.9 141.9l1.1 4.7 1.1 4.3 1.1 4 1.1 3.7 1.1 3.5 1.1 3.1 1.1 3 1.2 2.7 1.1 2.5 1.1 2.3 1.1 2.2 1.1 1.9 1.1 1.7 1.1 1.3 1.1 .6 1.1 -.7 1.1 -3.7 1.1 -8.8 1.1 -16.1 1.1 -23.2 1.1 -25.8 1.2 -20.3 1.1 -8 1.1 5.3 1.1 13.7 1.1 15.6 1.1 13.9 1.1 11.8 1.1 10.9 1.1 10.6 1.1 10.1 1.1 9.2 1.1 7.6 1.1 5.8 1.1 4.2 1.2 2.9 1.1 1.8 1.1 1.2 1.1 .7 1.1 .5 1.1 .4 1.1 .3 1.1 .3 1.1 .2 1.1 .3 1.1 .3 1.1 .3 1.1 .2 1.1 .3 1.1 .4 1.2 .3 1.1 .3 1.1 .3 1.1 .2 1.1 .2 1.1 .2 1.1 .1 1.1 .1 1.1 .1 1.1 0 1.1 .1 1.1 0 1.1 0 1.1 0 1.2 0 1.1 .1 1.1 0 1.1 0 1.1 0 1.1 0 1.1 0" stroke="#c4c4c4" stroke-width="0.7" opacity="0.72"/>
<path d="M221.9 189.8l1.1 1 1.1 .9 1.1 .9 1.1 .8 1.1 .8 1.1 .7 1.1 .4 1.2 0 1.1 -1.2 1.1 -2.9 1.1 -5.5 1.1 -7.4 1.1 -7.4 1.1 -4.7 1.1 .2 1.1 4.5 1.1 6.7 1.1 6.3 1.1 4.7 1.1 3 1.1 2.3 1.2 1.9 1.1 1.9 1.1 1.7 1.1 1.4 1.1 1.1 1.1 .7 1.1 .5 1.1 .3 1.1 .2 1.1 .2 1.1 .2 1.1 .1 1.1 .2 1.1 .1 1.2 .1 1.1 .1 1.1 .1 1.1 .2 1.1 .1 1.1 .1 1.1 .1 1.1 .1 1.1 .1 1.1 .1 1.1 .2 1.1 .1 1.1 .2 1.1 .1 1.1 .2 1.2 .2 1.1 .2 1.1 .2 1.1 .1 1.1 .2 1.1 .1 1.1 .1 1.1 0 1.1 .1 1.1 0 1.1 0 1.1 .1 1.1 0 1.1 0 1.2 0 1.1 0 1.1 0 1.1 0 1.1 0 1.1 0 1.1 0" stroke="#c4c4c4" stroke-width="0.7" opacity="0.72"/>
<path d="M221.9 132.6l1.1 4.3 1.1 4 1.1 3.8 1.1 3.6 1.1 3.3 1.1 3.2 1.1 2.8 1.2 2.2 1.1 .6 1.1 -3.1 1.1 -9.9 1.1 -19.2 1.1 -26.6 1.1 -25.4 1.1 -12.4 1.1 7.8 1.1 25 1.1 31 1.1 26.3 1.1 17.2 1.1 9.2 1.2 4.3 1.1 2.2 1.1 1.3 1.1 1 1.1 1 1.1 .9 1.1 .8 1.1 .8 1.1 .7 1.1 .7 1.1 .7 1.1 .6 1.1 .6 1.1 .4 1.2 .2 1.1 -.1 1.1 -.6 1.1 -1.3 1.1 -2 1.1 -2.5 1.1 -2.4 1.1 -1.7 1.1 -.2 1.1 1.5 1.1 2.8 1.1 3.5 1.1 3.5 1.1 2.9 1.1 2.2 1.2 1.5 1.1 1 1.1 .7 1.1 .5 1.1 .5 1.1 .3 1.1 .2 1.1 .2 1.1 .1 1.1 .1 1.1 .1 1.1 0 1.1 .1 1.1 0 1.2 0 1.1 0 1.1 .1 1.1 0 1.1 0 1.1 0 1.1 0" stroke="#c0d8ea" stroke-width="0.7" opacity="0.72"/>
<path d="M221.9 189.2l1.1 1 1.1 .9 1.1 .9 1.1 .8 1.1 .8 1.1 .7 1.1 .7 1.2 .6 1.1 .3 1.1 -.2 1.1 -1.5 1.1 -4 1.1 -7.7 1.1 -11.7 1.1 -13.8 1.1 -11.9 1.1 -5.4 1.1 3.6 1.1 11.2 1.1 14.5 1.1 13.4 1.2 9.6 1.1 5.8 1.1 2.9 1.1 1.3 1.1 .6 1.1 .3 1.1 .2 1.1 .2 1.1 .2 1.1 .2 1.1 .2 1.1 .1 1.1 .2 1.1 .1 1.2 .2 1.1 .1 1.1 .1 1.1 .1 1.1 .2 1.1 .1 1.1 .1 1.1 .1 1.1 .1 1.1 .2 1.1 .1 1.1 .2 1.1 .1 1.1 .2 1.1 .2 1.2 .2 1.1 .1 1.1 .2 1.1 .2 1.1 .1 1.1 .1 1.1 .1 1.1 0 1.1 .1 1.1 0 1.1 0 1.1 .1 1.1 0 1.1 0 1.2 0 1.1 0 1.1 0 1.1 0 1.1 0 1.1 0 1.1 0" stroke="#c4c4c4" stroke-width="0.7" opacity="0.72"/>
<path d="M221.9 97.8l1.1 -9.3 1.1 -10.1 1.1 -9.3 1.1 -6.7 1.1 -2.5 1.1 2.7 1.1 8 1.2 12.6 1.1 15.7 1.1 17.1 1.1 16.8 1.1 15.2 1.1 12.9 1.1 10.1 1.1 7.7 1.1 5.6 1.1 3.9 1.1 2.7 1.1 2 1.1 1.5 1.1 1.1 1.2 1 1.1 .8 1.1 .8 1.1 .7 1.1 .6 1.1 .5 1.1 .6 1.1 .4 1.1 .5 1.1 .4 1.1 .4 1.1 .3 1.1 .4 1.1 .3 1.2 .2 1.1 .3 1.1 .2 1.1 .3 1.1 .2 1.1 .2 1.1 .2 1.1 .2 1.1 .1 1.1 .2 1.1 .2 1.1 .2 1.1 .2 1.1 .2 1.1 .2 1.2 .2 1.1 .2 1.1 .2 1.1 .2 1.1 .1 1.1 .1 1.1 .1 1.1 .1 1.1 0 1.1 0 1.1 .1 1.1 0 1.1 0 1.1 0 1.2 0 1.1 0 1.1 0 1.1 0 1.1 0 1.1 0 1.1 0" stroke="#c4c4c4" stroke-width="0.7" opacity="0.72"/>
<path d="M221.9 134.9l1.1 6 1.1 5.5 1.1 4.9 1.1 4.2 1.1 3.4 1.1 1.9 1.1 -.3 1.2 -3.5 1.1 -7.5 1.1 -11.4 1.1 -13.9 1.1 -13.3 1.1 -8.9 1.1 -1.4 1.1 7.1 1.1 14 1.1 17.5 1.1 17.4 1.1 14.5 1.1 10.6 1.1 6.9 1.2 4.1 1.1 2.5 1.1 1.4 1.1 1 1.1 .8 1.1 .6 1.1 .6 1.1 .5 1.1 .5 1.1 .4 1.1 .4 1.1 .4 1.1 .4 1.1 .3 1.2 .3 1.1 .3 1.1 .2 1.1 .3 1.1 .2 1.1 .2 1.1 .2 1.1 .2 1.1 .2 1.1 .2 1.1 .2 1.1 .3 1.1 .2 1.1 .2 1.1 .3 1.2 .2 1.1 .3 1.1 .2 1.1 .2 1.1 .2 1.1 .1 1.1 .1 1.1 .1 1.1 0 1.1 .1 1.1 0 1.1 0 1.1 .1 1.1 0 1.2 0 1.1 0 1.1 0 1.1 0 1.1 0 1.1 0 1.1 0" stroke="#c4c4c4" stroke-width="0.7" opacity="0.72"/>
<path d="M221.9 191.6l1.1 .9 1.1 .8 1.1 .7 1.1 .7 1.1 .7 1.1 .6 1.1 .6 1.2 .5 1.1 .5 1.1 .5 1.1 .5 1.1 .4 1.1 .4 1.1 .4 1.1 .3 1.1 .4 1.1 .3 1.1 .3 1.1 .3 1.1 .3 1.1 .2 1.2 .3 1.1 .2 1.1 .2 1.1 .2 1.1 .2 1.1 .2 1.1 .2 1.1 .1 1.1 .2 1.1 .1 1.1 0 1.1 0 1.1 -.2 1.1 -.5 1.2 -.7 1.1 -1.2 1.1 -1.6 1.1 -1.9 1.1 -2.2 1.1 -2.1 1.1 -1.6 1.1 -1 1.1 .1 1.1 1 1.1 1.9 1.1 2.4 1.1 2.6 1.1 2.4 1.1 2 1.2 1.5 1.1 1 1.1 .7 1.1 .4 1.1 .3 1.1 .1 1.1 .1 1.1 .1 1.1 .1 1.1 0 1.1 0 1.1 .1 1.1 0 1.1 0 1.2 0 1.1 0 1.1 0 1.1 0 1.1 0 1.1 0 1.1 0" stroke="#ecd3c0" stroke-width="0.7" opacity="0.72"/>
<path d="M221.9 113.5l1.1 -11.9 1.1 -11.5 1.1 -6.9 1.1 1.1 1.1 10 1.1 17 1.1 20 1.2 19.2 1.1 15.6 1.1 11.2 1.1 7.2 1.1 4.5 1.1 2.8 1.1 1.8 1.1 1.3 1.1 1.1 1.1 .9 1.1 .9 1.1 .7 1.1 .7 1.1 .6 1.2 .5 1.1 .5 1.1 .5 1.1 .4 1.1 .3 1.1 .4 1.1 .3 1.1 .2 1.1 .3 1.1 .2 1.1 .2 1.1 .2 1.1 .2 1.1 .2 1.2 .1 1.1 .2 1.1 .1 1.1 .1 1.1 .2 1.1 .1 1.1 .1 1.1 .1 1.1 .1 1.1 .2 1.1 .1 1.1 .1 1.1 .2 1.1 .2 1.1 .2 1.2 .2 1.1 .2 1.1 .1 1.1 .2 1.1 .1 1.1 .2 1.1 0 1.1 .1 1.1 .1 1.1 0 1.1 0 1.1 0 1.1 .1 1.1 0 1.2 0 1.1 0 1.1 0 1.1 0 1.1 0 1.1 0 1.1 0" stroke="#c4c4c4" stroke-width="0.7" opacity="0.72"/>
<path d="M221.9 183.2l1.1 1.1 1.1 1 1.1 .9 1.1 .9 1.1 .9 1.1 .8 1.1 .8 1.2 .8 1.1 .7 1.1 .6 1.1 .7 1.1 .6 1.1 .6 1.1 .5 1.1 .6 1.1 .5 1.1 .4 1.1 .5 1.1 .4 1.1 .4 1.1 .4 1.2 .4 1.1 .4 1.1 .3 1.1 .3 1.1 .3 1.1 .1 1.1 0 1.1 -.3 1.1 -.8 1.1 -1.4 1.1 -2.5 1.1 -3.7 1.1 -5.1 1.1 -6.3 1.2 -7 1.1 -7 1.1 -6.1 1.1 -4 1.1 -1.3 1.1 1.8 1.1 4.5 1.1 6.6 1.1 7.7 1.1 7.7 1.1 6.8 1.1 5.6 1.1 4.2 1.1 2.9 1.1 1.9 1.2 1.3 1.1 .8 1.1 .5 1.1 .4 1.1 .3 1.1 .3 1.1 .1 1.1 .2 1.1 .1 1.1 0 1.1 .1 1.1 0 1.1 0 1.1 .1 1.2 0 1.1 0 1.1 0 1.1 0 1.1 0 1.1 0 1.1 0" stroke="#c4c4c4" stroke-width="0.7" opacity="0.72"/>
<path d="M221.9 152.3l1.1 4.4 1.1 4 1.1 3.7 1.1 3.3 1.1 3.2 1.1 2.8 1.1 2.6 1.2 2.4 1.1 2.3 1.1 2 1.1 1.9 1.1 1.7 1.1 1.5 1.1 1.3 1.1 1 1.1 .4 1.1 -.3 1.1 -1.4 1.1 -2.6 1.1 -4 1.1 -4.7 1.2 -4.5 1.1 -3.3 1.1 -.9 1.1 1.7 1.1 4.2 1.1 5.7 1.1 6 1.1 5.4 1.1 4.2 1.1 3 1.1 1.9 1.1 1.2 1.1 .7 1.1 .4 1.2 .3 1.1 .3 1.1 .2 1.1 .2 1.1 .2 1.1 .2 1.1 .2 1.1 .1 1.1 .2 1.1 .2 1.1 .1 1.1 .2 1.1 .2 1.1 .2 1.1 .2 1.2 .1 1.1 .2 1.1 .2 1.1 .1 1.1 .2 1.1 .1 1.1 0 1.1 .1 1.1 0 1.1 .1 1.1 0 1.1 0 1.1 0 1.1 0 1.2 0 1.1 0 1.1 0 1.1 0 1.1 0 1.1 0 1.1 0" stroke="#c4c4c4" stroke-width="0.7" opacity="0.72"/>
<path d="M221.9 196.2l1.1 .5 1.1 .4 1.1 .3 1.1 .2 1.1 0 1.1 -.3 1.1 -.7 1.2 -1.2 1.1 -1.6 1.1 -2.1 1.1 -2.4 1.1 -2.4 1.1 -2.1 1.1 -1.4 1.1 -.5 1.1 .5 1.1 1.5 1.1 2.4 1.1 2.7 1.1 2.9 1.1 2.7 1.2 2.3 1.1 1.8 1.1 1.4 1.1 1 1.1 .6 1.1 .5 1.1 .2 1.1 .2 1.1 .2 1.1 .1 1.1 .1 1.1 .1 1.1 .1 1.1 .1 1.2 .1 1.1 .1 1.1 0 1.1 0 1.1 -.2 1.1 -.6 1.1 -.8 1.1 -.9 1.1 -.6 1.1 .2 1.1 .8 1.1 1.1 1.1 1.1 1.1 .8 1.1 .5 1.2 .4 1.1 .2 1.1 .2 1.1 .2 1.1 .2 1.1 .1 1.1 .1 1.1 .1 1.1 0 1.1 .1 1.1 0 1.1 0 1.1 0 1.1 .1 1.2 0 1.1 0 1.1 0 1.1 0 1.1 0 1.1 0 1.1 0" stroke="#c4c4c4" stroke-width="0.7" opacity="0.72"/>
<path d="M221.9 175.6l1.1 2.1 1.1 1.9 1.1 1.8 1.1 1.6 1.1 1.5 1.1 1.5 1.1 1.3 1.2 1.2 1.1 1.1 1.1 1.1 1.1 1 1.1 .9 1.1 .8 1.1 .7 1.1 .6 1.1 .3 1.1 .1 1.1 -.4 1.1 -1 1.1 -1.7 1.1 -2.6 1.2 -3.2 1.1 -3.8 1.1 -3.8 1.1 -3.3 1.1 -2.3 1.1 -.8 1.1 .9 1.1 2.5 1.1 3.8 1.1 4.4 1.1 4.4 1.1 4.2 1.1 3.4 1.1 2.7 1.2 1.9 1.1 1.4 1.1 .8 1.1 .6 1.1 .4 1.1 .2 1.1 .2 1.1 .2 1.1 .2 1.1 .2 1.1 .2 1.1 .2 1.1 .2 1.1 .3 1.1 .2 1.2 .3 1.1 .3 1.1 .2 1.1 .3 1.1 .1 1.1 .2 1.1 .1 1.1 .1 1.1 .1 1.1 0 1.1 .1 1.1 0 1.1 0 1.1 0 1.2 0 1.1 0 1.1 .1 1.1 0 1.1 0 1.1 0 1.1 0" stroke="#c4c4c4" stroke-width="0.7" opacity="0.72"/>
<path d="M221.9 199.7l1.1 .3 1.1 .1 1.1 0 1.1 -.3 1.1 -.5 1.1 -.8 1.1 -1 1.2 -1 1.1 -1.1 1.1 -.8 1.1 -.6 1.1 -.1 1.1 .4 1.1 .8 1.1 1.1 1.1 1.4 1.1 1.4 1.1 1.4 1.1 1.2 1.1 1 1.1 .8 1.2 .5 1.1 .4 1.1 .3 1.1 .2 1.1 .1 1.1 .1 1.1 .1 1.1 .1 1.1 .1 1.1 0 1.1 .1 1.1 .1 1.1 0 1.1 .1 1.2 0 1.1 .1 1.1 0 1.1 .1 1.1 0 1.1 .1 1.1 0 1.1 .1 1.1 .1 1.1 0 1.1 .1 1.1 .1 1.1 .1 1.1 .1 1.1 .2 1.2 .1 1.1 .1 1.1 .2 1.1 .1 1.1 .1 1.1 .1 1.1 0 1.1 .1 1.1 0 1.1 0 1.1 .1 1.1 0 1.1 0 1.1 0 1.2 0 1.1 0 1.1 0 1.1 0 1.1 0 1.1 0 1.1 0" stroke="#c4c4c4" stroke-width="0.7" opacity="0.72"/>
<path d="M221.9 67.6l1.1 -12 1.1 -9.4 1.1 -4.8 1.1 1.2 1.1 7.5 1.1 13 1.1 17 1.2 18.9 1.1 18.7 1.1 16.9 1.1 14.3 1.1 11.3 1.1 8.4 1.1 6 1.1 4.3 1.1 3.1 1.1 2.2 1.1 1.8 1.1 1.4 1.1 1.3 1.1 1.1 1.2 1.1 1.1 .9 1.1 1 1.1 .8 1.1 .8 1.1 .8 1.1 .7 1.1 .7 1.1 .6 1.1 .6 1.1 .6 1.1 .5 1.1 .5 1.1 .5 1.2 .4 1.1 .4 1.1 .4 1.1 .4 1.1 .4 1.1 .3 1.1 .3 1.1 .4 1.1 .3 1.1 .3 1.1 .4 1.1 .3 1.1 .4 1.1 .4 1.1 .3 1.2 .4 1.1 .4 1.1 .3 1.1 .3 1.1 .2 1.1 .2 1.1 .1 1.1 .1 1.1 .1 1.1 0 1.1 .1 1.1 0 1.1 0 1.1 0 1.2 .1 1.1 0 1.1 0 1.1 0 1.1 0 1.1 0 1.1 0" stroke="#c4c4c4" stroke-width="0.7" opacity="0.72"/>
<path d="M221.9 187l1.1 1 1.1 .9 1.1 .9 1.1 .9 1.1 .8 1.1 .8 1.1 .7 1.2 .7 1.1 .6 1.1 .6 1.1 .6 1.1 .6 1.1 .5 1.1 .5 1.1 .4 1.1 .3 1.1 .1 1.1 -.2 1.1 -.7 1.1 -1.4 1.1 -2.5 1.2 -3.8 1.1 -5.3 1.1 -6.4 1.1 -7.3 1.1 -7.1 1.1 -6 1.1 -3.8 1.1 -.8 1.1 2.2 1.1 5 1.1 6.9 1.1 7.8 1.1 7.5 1.1 6.6 1.2 5.3 1.1 3.9 1.1 2.7 1.1 1.7 1.1 1 1.1 .7 1.1 .3 1.1 .3 1.1 .2 1.1 .2 1.1 .2 1.1 .2 1.1 .2 1.1 .2 1.1 .2 1.2 .3 1.1 .2 1.1 .3 1.1 .2 1.1 .1 1.1 .2 1.1 .1 1.1 .1 1.1 0 1.1 .1 1.1 0 1.1 0 1.1 0 1.1 .1 1.2 0 1.1 0 1.1 0 1.1 0 1.1 0 1.1 0 1.1 0" stroke="#c4c4c4" stroke-width="0.7" opacity="0.72"/>
<path d="M221.9 166.5l1.1 3.6 1.1 3.1 1.1 2.7 1.1 2.2 1.1 1.7 1.1 1.2 1.1 .8 1.2 .5 1.1 .1 1.1 .1 1.1 .1 1.1 .3 1.1 .7 1.1 1.1 1.1 1.5 1.1 1.8 1.1 2 1.1 2 1.1 1.9 1.1 1.7 1.1 1.5 1.2 1.1 1.1 1 1.1 .7 1.1 .5 1.1 .5 1.1 .3 1.1 .3 1.1 .3 1.1 .2 1.1 .3 1.1 .2 1.1 .1 1.1 .2 1.1 .2 1.2 .1 1.1 .2 1.1 .1 1.1 .2 1.1 .1 1.1 .1 1.1 .2 1.1 .1 1.1 .2 1.1 .1 1.1 .2 1.1 .2 1.1 .2 1.1 .3 1.1 .3 1.2 .2 1.1 .3 1.1 .3 1.1 .3 1.1 .2 1.1 .1 1.1 .2 1.1 .1 1.1 0 1.1 .1 1.1 0 1.1 .1 1.1 0 1.1 0 1.2 0 1.1 0 1.1 0 1.1 0 1.1 0 1.1 0 1.1 .1" stroke="#c4c4c4" stroke-width="0.7" opacity="0.72"/>
<path d="M221.9 134.3l1.1 -2 1.1 -6.1 1.1 -9.4 1.1 -11.3 1.1 -10.9 1.1 -8.3 1.1 -3.3 1.2 2.9 1.1 9.1 1.1 14 1.1 16.7 1.1 17.2 1.1 15.8 1.1 13 1.1 9.9 1.1 6.9 1.1 4.6 1.1 2.9 1.1 1.8 1.1 1.1 1.1 .7 1.2 .5 1.1 .4 1.1 .4 1.1 .3 1.1 .2 1.1 .3 1.1 .2 1.1 .2 1.1 .2 1.1 .1 1.1 .2 1.1 .2 1.1 .1 1.1 .1 1.2 .2 1.1 .1 1.1 .1 1.1 .1 1.1 .2 1.1 .1 1.1 .1 1.1 .1 1.1 .2 1.1 .1 1.1 .2 1.1 .2 1.1 .2 1.1 .3 1.1 .3 1.2 .3 1.1 .3 1.1 .3 1.1 .2 1.1 .2 1.1 .2 1.1 .1 1.1 .1 1.1 .1 1.1 .1 1.1 0 1.1 0 1.1 .1 1.1 0 1.2 0 1.1 0 1.1 0 1.1 0 1.1 0 1.1 0 1.1 0" stroke="#c4c4c4" stroke-width="0.7" opacity="0.72"/>
<path d="M221.9 174.8l1.1 2.5 1.1 2.2 1.1 2.1 1.1 1.8 1.1 1.6 1.1 1.3 1.1 1 1.2 .3 1.1 -.6 1.1 -2 1.1 -3.9 1.1 -6.4 1.1 -9.4 1.1 -12.3 1.1 -14.7 1.1 -15.9 1.1 -15 1.1 -12.1 1.1 -7.1 1.1 -.9 1.1 5.6 1.2 11.2 1.1 15.1 1.1 16.7 1.1 16.4 1.1 14.4 1.1 11.7 1.1 8.7 1.1 6.1 1.1 4 1.1 2.4 1.1 1.5 1.1 .8 1.1 .5 1.1 .3 1.2 .2 1.1 .2 1.1 .2 1.1 .1 1.1 .2 1.1 .1 1.1 .2 1.1 .1 1.1 .2 1.1 .2 1.1 .1 1.1 .2 1.1 .3 1.1 .2 1.1 .3 1.2 .3 1.1 .3 1.1 .3 1.1 .2 1.1 .2 1.1 .2 1.1 .2 1.1 .1 1.1 0 1.1 .1 1.1 0 1.1 .1 1.1 0 1.1 0 1.2 0 1.1 0 1.1 0 1.1 0 1.1 0 1.1 0 1.1 0" stroke="#c4c4c4" stroke-width="0.7" opacity="0.72"/>
<path d="M221.9 128.1l1.1 1.7 1.1 .6 1.1 .1 1.1 .2 1.1 1.2 1.1 2.8 1.1 4.5 1.2 6 1.1 6.6 1.1 6.6 1.1 5.9 1.1 4.9 1.1 3.9 1.1 3 1.1 2.5 1.1 2 1.1 1.7 1.1 1.6 1.1 1.4 1.1 1.3 1.1 1.2 1.2 1.2 1.1 1 1.1 1 1.1 .9 1.1 .8 1.1 .7 1.1 .3 1.1 0 1.1 -.7 1.1 -1.5 1.1 -2.7 1.1 -3.8 1.1 -4.8 1.1 -5.4 1.2 -5.2 1.1 -4 1.1 -2 1.1 .5 1.1 3.1 1.1 5 1.1 6.1 1.1 6.3 1.1 5.7 1.1 4.7 1.1 3.5 1.1 2.5 1.1 1.6 1.1 1.1 1.1 .8 1.2 .6 1.1 .5 1.1 .4 1.1 .4 1.1 .2 1.1 .3 1.1 .1 1.1 .2 1.1 .1 1.1 0 1.1 .1 1.1 0 1.1 .1 1.1 0 1.2 0 1.1 0 1.1 0 1.1 0 1.1 0 1.1 0 1.1 .1" stroke="#c4c4c4" stroke-width="0.7" opacity="0.72"/>
<path d="M221.9 132.6l1.1 .5 1.1 -5.7 1.1 -12 1.1 -15.9 1.1 -14.7 1.1 -7.7 1.1 3.5 1.2 14.8 1.1 22.3 1.1 23.8 1.1 20.6 1.1 15 1.1 9.6 1.1 5.5 1.1 3.1 1.1 1.8 1.1 1.2 1.1 1 1.1 .8 1.1 .6 1.1 .6 1.2 .6 1.1 .4 1.1 .4 1.1 .3 1.1 .1 1.1 -.2 1.1 -.7 1.1 -1.5 1.1 -2.6 1.1 -4 1.1 -5.5 1.1 -6.5 1.1 -6.6 1.1 -5.7 1.2 -3.3 1.1 -.4 1.1 2.9 1.1 5.3 1.1 6.8 1.1 6.9 1.1 6 1.1 4.7 1.1 3.3 1.1 2.1 1.1 1.2 1.1 .6 1.1 .4 1.1 .2 1.1 .2 1.2 .1 1.1 .2 1.1 .1 1.1 .1 1.1 .1 1.1 .1 1.1 0 1.1 .1 1.1 0 1.1 .1 1.1 0 1.1 0 1.1 0 1.1 0 1.2 0 1.1 0 1.1 0 1.1 0 1.1 0 1.1 0 1.1 0" stroke="#c0d8ea" stroke-width="0.7" opacity="0.72"/>
<path d="M221.9 165.13C222.22 165.27 223.18 165.4 223.82 165.94C224.46 166.48 225.09 167.42 225.73 168.36C226.37 169.31 227.01 170.38 227.65 171.6C228.29 172.81 228.93 174.43 229.57 175.64C230.21 176.85 230.85 178.2 231.49 178.87C232.12 179.54 232.76 179.95 233.4 179.68C234.04 179.41 234.68 178.74 235.32 177.25C235.96 175.77 236.6 172.67 237.24 170.79C237.88 168.9 238.67 166.88 239.15 165.94C239.63 165 239.79 164.86 240.11 165.13C240.43 165.4 240.59 166.21 241.07 167.56C241.55 168.9 242.35 171.6 242.99 173.21C243.63 174.83 244.26 176.18 244.9 177.25C245.54 178.33 246.18 179.01 246.82 179.68C247.46 180.35 248.1 180.89 248.74 181.3C249.38 181.7 250.02 181.97 250.66 182.1C251.29 182.24 251.93 181.97 252.57 182.1C253.21 182.24 253.85 182.51 254.49 182.91C255.13 183.32 255.77 183.99 256.41 184.53C257.05 185.07 257.68 185.61 258.32 186.14C258.96 186.68 259.6 187.22 260.24 187.76C260.88 188.3 261.52 188.97 262.16 189.38C262.8 189.78 263.44 189.98 264.07 190.19C264.71 190.39 265.35 190.52 265.99 190.59C266.63 190.66 267.27 190.52 267.91 190.59C268.55 190.66 269.19 190.66 269.82 190.99C270.46 191.33 271.1 191.94 271.74 192.61C272.38 193.28 273.02 194.29 273.66 195.04C274.3 195.78 274.94 196.52 275.58 197.06C276.22 197.59 276.85 197.86 277.49 198.27C278.13 198.67 278.45 199.08 279.41 199.48C280.37 199.88 281.33 200.29 283.24 200.69C285.16 201.1 288.04 201.64 290.91 201.91C293.79 202.17 298.9 202.24 300.5 202.31 L300.5 207.7C298.9 207.68 293.79 207.75 290.91 207.56C288.04 207.37 285.16 206.89 283.24 206.55C281.33 206.21 280.37 205.88 279.41 205.54C278.45 205.2 278.13 204.86 277.49 204.53C276.85 204.19 276.22 203.96 275.58 203.51C274.94 203.06 274.3 202.45 273.66 201.83C273.02 201.21 272.38 200.37 271.74 199.8C271.1 199.24 270.46 198.73 269.82 198.45C269.19 198.17 268.55 198.17 267.91 198.12C267.27 198.06 266.63 198.17 265.99 198.12C265.35 198.06 264.71 197.95 264.07 197.78C263.44 197.61 262.8 197.44 262.16 197.1C261.52 196.77 260.88 196.2 260.24 195.75C259.6 195.3 258.96 194.85 258.32 194.4C257.68 193.96 257.05 193.51 256.41 193.06C255.77 192.61 255.13 192.04 254.49 191.71C253.85 191.37 253.21 191.14 252.57 191.03C251.93 190.92 251.29 191.14 250.66 191.03C250.02 190.92 249.38 190.69 248.74 190.36C248.1 190.02 247.46 189.57 246.82 189.01C246.18 188.44 245.54 187.88 244.9 186.98C244.26 186.08 243.63 184.96 242.99 183.61C242.35 182.26 241.55 180.01 241.07 178.89C240.59 177.76 240.43 177.09 240.11 176.86C239.79 176.64 239.63 176.75 239.15 177.54C238.67 178.32 237.88 180.01 237.24 181.58C236.6 183.16 235.96 185.75 235.32 186.98C234.68 188.22 234.04 188.78 233.4 189.01C232.76 189.23 232.12 188.89 231.49 188.33C230.85 187.77 230.21 186.65 229.57 185.63C228.93 184.62 228.29 183.27 227.65 182.26C227.01 181.25 226.37 180.35 225.73 179.56C225.09 178.77 224.46 177.99 223.82 177.54C223.18 177.09 222.22 176.97 221.9 176.86 Z" fill="#6fb0e6" opacity="0.4"/>
<path d="M221.9 171.37C222.22 171.49 223.18 171.61 223.82 172.11C224.46 172.6 225.09 173.47 225.73 174.33C226.37 175.2 227.01 176.19 227.65 177.3C228.29 178.41 228.93 179.89 229.57 181.01C230.21 182.12 230.85 183.35 231.49 183.97C232.12 184.59 232.76 184.96 233.4 184.71C234.04 184.47 234.68 183.85 235.32 182.49C235.96 181.13 236.6 178.29 237.24 176.56C237.88 174.83 238.67 172.97 239.15 172.11C239.63 171.24 239.79 171.12 240.11 171.37C240.43 171.61 240.59 172.36 241.07 173.59C241.55 174.83 242.35 177.3 242.99 178.78C243.63 180.26 244.26 181.5 244.9 182.49C245.54 183.48 246.18 184.1 246.82 184.71C247.46 185.33 248.1 185.83 248.74 186.2C249.38 186.57 250.02 186.81 250.66 186.94C251.29 187.06 251.93 186.81 252.57 186.94C253.21 187.06 253.85 187.31 254.49 187.68C255.13 188.05 255.77 188.67 256.41 189.16C257.05 189.66 257.68 190.15 258.32 190.65C258.96 191.14 259.6 191.63 260.24 192.13C260.88 192.62 261.52 193.24 262.16 193.61C262.8 193.98 263.44 194.17 264.07 194.35C264.71 194.54 265.35 194.66 265.99 194.72C266.63 194.79 267.27 194.66 267.91 194.72C268.55 194.79 269.19 194.79 269.82 195.09C270.46 195.4 271.1 195.96 271.74 196.58C272.38 197.2 273.02 198.12 273.66 198.8C274.3 199.48 274.94 200.16 275.58 200.66C276.22 201.15 276.85 201.4 277.49 201.77C278.13 202.14 278.45 202.51 279.41 202.88C280.37 203.25 281.33 203.62 283.24 203.99C285.16 204.36 288.04 204.86 290.91 205.1C293.79 205.35 298.9 205.41 300.5 205.48" stroke="#1f6fb8" stroke-width="1.1"/>
</g>
<path d="M221.9 125.8 V207.5 H300.5" fill="none" stroke="#262626" stroke-width="0.7"/>
<path d="M221.9 207.7 h1.2" stroke="#262626" stroke-width="0.5"/>
<text x="220.1" y="209.9" font-size="6.2" text-anchor="end" fill="#1c1c1c" font-family="'DejaVu Sans Condensed','DejaVu Sans','Liberation Sans',sans-serif" font-weight="normal" stroke="#1c1c1c" stroke-width="0.1">0</text>
<path d="M221.9 192.87 h1.2" stroke="#262626" stroke-width="0.5"/>
<text x="220.1" y="195.07" font-size="6.2" text-anchor="end" fill="#1c1c1c" font-family="'DejaVu Sans Condensed','DejaVu Sans','Liberation Sans',sans-serif" font-weight="normal" stroke="#1c1c1c" stroke-width="0.1">0.02</text>
<path d="M221.9 178.04 h1.2" stroke="#262626" stroke-width="0.5"/>
<text x="220.1" y="180.24" font-size="6.2" text-anchor="end" fill="#1c1c1c" font-family="'DejaVu Sans Condensed','DejaVu Sans','Liberation Sans',sans-serif" font-weight="normal" stroke="#1c1c1c" stroke-width="0.1">0.04</text>
<path d="M221.9 163.21 h1.2" stroke="#262626" stroke-width="0.5"/>
<text x="220.1" y="165.41" font-size="6.2" text-anchor="end" fill="#1c1c1c" font-family="'DejaVu Sans Condensed','DejaVu Sans','Liberation Sans',sans-serif" font-weight="normal" stroke="#1c1c1c" stroke-width="0.1">0.06</text>
<path d="M221.9 148.38 h1.2" stroke="#262626" stroke-width="0.5"/>
<text x="220.1" y="150.58" font-size="6.2" text-anchor="end" fill="#1c1c1c" font-family="'DejaVu Sans Condensed','DejaVu Sans','Liberation Sans',sans-serif" font-weight="normal" stroke="#1c1c1c" stroke-width="0.1">0.08</text>
<path d="M221.9 133.55 h1.2" stroke="#262626" stroke-width="0.5"/>
<text x="220.1" y="135.75" font-size="6.2" text-anchor="end" fill="#1c1c1c" font-family="'DejaVu Sans Condensed','DejaVu Sans','Liberation Sans',sans-serif" font-weight="normal" stroke="#1c1c1c" stroke-width="0.1">0.1</text>
<path d="M233.4 207.5 v-1.2" stroke="#262626" stroke-width="0.5"/>
<text x="233.4" y="217.3" font-size="6.2" text-anchor="middle" fill="#1c1c1c" font-family="'DejaVu Sans Condensed','DejaVu Sans','Liberation Sans',sans-serif" font-weight="normal" stroke="#1c1c1c" stroke-width="0.1">10</text>
<path d="M252.57 207.5 v-1.2" stroke="#262626" stroke-width="0.5"/>
<text x="252.57" y="217.3" font-size="6.2" text-anchor="middle" fill="#1c1c1c" font-family="'DejaVu Sans Condensed','DejaVu Sans','Liberation Sans',sans-serif" font-weight="normal" stroke="#1c1c1c" stroke-width="0.1">20</text>
<path d="M271.74 207.5 v-1.2" stroke="#262626" stroke-width="0.5"/>
<text x="271.74" y="217.3" font-size="6.2" text-anchor="middle" fill="#1c1c1c" font-family="'DejaVu Sans Condensed','DejaVu Sans','Liberation Sans',sans-serif" font-weight="normal" stroke="#1c1c1c" stroke-width="0.1">30</text>
<path d="M290.91 207.5 v-1.2" stroke="#262626" stroke-width="0.5"/>
<text x="290.91" y="217.3" font-size="6.2" text-anchor="middle" fill="#1c1c1c" font-family="'DejaVu Sans Condensed','DejaVu Sans','Liberation Sans',sans-serif" font-weight="normal" stroke="#1c1c1c" stroke-width="0.1">40</text>
<text x="264.2" y="226.4" font-size="6.6" text-anchor="middle" fill="#1c1c1c" font-family="'DejaVu Sans','Liberation Sans',sans-serif" font-weight="normal" stroke="#1c1c1c" stroke-width="0.18">Frequency (Hz)</text>
<text x="282.3" y="166.4" font-size="6.8" text-anchor="start" fill="#1c1c1c" font-family="'DejaVu Sans','Liberation Sans',sans-serif" font-weight="normal" stroke="#1c1c1c" stroke-width="0.18">C2</text>
<clipPath id="cc3"><rect x="321.2" y="125.8" width="78.6" height="81.7"/></clipPath>
<g clip-path="url(#cc3)" fill="none" stroke-linejoin="round">
<path d="M321.2 182.3l1.1 1.8 1.1 1.2 1.1 .4 1.1 -.4 1.1 -1.3 1.1 -2.4 1.1 -3.4 1.2 -4.4 1.1 -5.3 1.1 -6.2 1.1 -6.8 1.1 -7.3 1.1 -7.4 1.1 -6.6 1.1 -4.9 1.1 -2 1.1 1.8 1.1 5.8 1.1 9.1 1.1 11.2 1.1 11.6 1.2 10.6 1.1 8.7 1.1 6.5 1.1 4.4 1.1 2.7 1.1 1.6 1.1 .9 1.1 .4 1.1 .3 1.1 .2 1.1 .2 1.1 .1 1.1 .1 1.1 .1 1.2 .1 1.1 .2 1.1 .1 1.1 .1 1.1 .1 1.1 .1 1.1 .1 1.1 .1 1.1 .1 1.1 .2 1.1 .1 1.1 .2 1.1 .2 1.1 .2 1.2 .2 1.1 .3 1.1 .3 1.1 .2 1.1 .2 1.1 .2 1.1 .2 1.1 .1 1.1 .1 1.1 .1 1.1 0 1.1 .1 1.1 0 1.1 0 1.1 0 1.2 0 1.1 0 1.1 0 1.1 0 1.1 .1 1.1 0 1.1 0" stroke="#ecd3c0" stroke-width="0.7" opacity="0.72"/>
<path d="M321.2 165l1.1 2.6 1.1 2.4 1.1 2.2 1.1 1.9 1.1 1.5 1.1 1 1.1 .3 1.2 -.5 1.1 -1.6 1.1 -2.5 1.1 -3.3 1.1 -3.7 1.1 -3.4 1.1 -2.5 1.1 -.9 1.1 1 1.1 2.9 1.1 4.5 1.1 5.3 1.1 5.6 1.1 5.3 1.2 4.5 1.1 3.5 1.1 2.6 1.1 1.9 1.1 1.3 1.1 1 1.1 .6 1.1 .5 1.1 .5 1.1 .4 1.1 .3 1.1 .3 1.1 .3 1.1 .3 1.2 .3 1.1 .2 1.1 .3 1.1 .2 1.1 .3 1.1 .2 1.1 .2 1.1 .2 1.1 .3 1.1 .2 1.1 .3 1.1 .3 1.1 .3 1.1 .3 1.2 .4 1.1 .3 1.1 .4 1.1 .3 1.1 .3 1.1 .3 1.1 .2 1.1 .2 1.1 .1 1.1 .1 1.1 0 1.1 .1 1.1 0 1.1 .1 1.1 0 1.2 0 1.1 0 1.1 0 1.1 0 1.1 0 1.1 0 1.1 0" stroke="#c4c4c4" stroke-width="0.7" opacity="0.72"/>
<path d="M321.2 153.8l1.1 -3.1 1.1 -1.6 1.1 1.2 1.1 4.5 1.1 6.7 1.1 7.5 1.1 6.8 1.2 5.2 1.1 3.6 1.1 2.5 1.1 1.7 1.1 1.3 1.1 1.1 1.1 .9 1.1 .9 1.1 .9 1.1 .7 1.1 .8 1.1 .6 1.1 .6 1.1 .6 1.2 .6 1.1 .5 1.1 .5 1.1 .4 1.1 .4 1.1 .4 1.1 .4 1.1 .3 1.1 .3 1.1 .3 1.1 .3 1.1 .3 1.1 .2 1.1 .3 1.2 .2 1.1 .2 1.1 .2 1.1 .2 1.1 .2 1.1 .2 1.1 .1 1.1 .2 1.1 .2 1.1 .2 1.1 .2 1.1 .3 1.1 .2 1.1 .3 1.2 .3 1.1 .3 1.1 .3 1.1 .2 1.1 .3 1.1 .2 1.1 .2 1.1 .1 1.1 .1 1.1 .1 1.1 0 1.1 .1 1.1 0 1.1 0 1.1 0 1.2 0 1.1 0 1.1 0 1.1 .1 1.1 0 1.1 0 1.1 0" stroke="#c4c4c4" stroke-width="0.7" opacity="0.72"/>
<path d="M321.2 181.1l1.1 3.6 1.1 2.9 1.1 2 1.1 .9 1.1 -1.3 1.1 -5.3 1.1 -11.7 1.2 -19.9 1.1 -26.8 1.1 -28 1.1 -20.5 1.1 -6.1 1.1 9.3 1.1 19.1 1.1 21.7 1.1 18.8 1.1 14.6 1.1 11.3 1.1 9.1 1.1 7.7 1.1 6.5 1.2 5.1 1.1 3.7 1.1 2.6 1.1 1.7 1.1 1 1.1 .6 1.1 .4 1.1 .2 1.1 .1 1.1 .1 1.1 .1 1.1 .1 1.1 .1 1.1 0 1.2 .1 1.1 .1 1.1 .1 1.1 0 1.1 .1 1.1 .1 1.1 0 1.1 .1 1.1 .1 1.1 .1 1.1 .1 1.1 .1 1.1 .2 1.1 .1 1.2 .2 1.1 .2 1.1 .2 1.1 .1 1.1 .2 1.1 .1 1.1 .2 1.1 0 1.1 .1 1.1 .1 1.1 0 1.1 0 1.1 0 1.1 .1 1.1 0 1.2 0 1.1 0 1.1 0 1.1 0 1.1 0 1.1 0 1.1 0" stroke="#c4c4c4" stroke-width="0.7" opacity="0.72"/>
<path d="M321.2 154.1l1.1 3.6 1.1 3.4 1.1 3.1 1.1 2.9 1.1 2.7 1.1 2.5 1.1 2.3 1.2 2.1 1.1 2 1.1 1.8 1.1 1.7 1.1 1.6 1.1 1.5 1.1 1.3 1.1 1.3 1.1 1.2 1.1 1 1.1 1 1.1 .9 1.1 .7 1.1 .4 1.2 0 1.1 -.5 1.1 -1.5 1.1 -2.6 1.1 -4 1.1 -5.4 1.1 -6.5 1.1 -7.1 1.1 -6.7 1.1 -5.3 1.1 -3 1.1 -.1 1.1 3 1.1 5.5 1.2 7.2 1.1 7.9 1.1 7.5 1.1 6.5 1.1 5.2 1.1 3.8 1.1 2.7 1.1 1.7 1.1 1.1 1.1 .7 1.1 .5 1.1 .4 1.1 .3 1.1 .4 1.2 .3 1.1 .4 1.1 .4 1.1 .3 1.1 .3 1.1 .2 1.1 .2 1.1 .2 1.1 .1 1.1 .1 1.1 .1 1.1 0 1.1 0 1.1 .1 1.1 0 1.2 0 1.1 0 1.1 0 1.1 0 1.1 0 1.1 0 1.1 0" stroke="#c4c4c4" stroke-width="0.7" opacity="0.72"/>
<path d="M321.2 131.1l1.1 4.7 1.1 2.8 1.1 1.6 1.1 1.6 1.1 2.4 1.1 3.7 1.1 5.2 1.2 6.3 1.1 6.5 1.1 5.8 1.1 4.3 1.1 2.2 1.1 0 1.1 -1.8 1.1 -2.9 1.1 -3.2 1.1 -2.4 1.1 -1.1 1.1 .9 1.1 2.8 1.1 4.3 1.2 5.4 1.1 5.6 1.1 5.4 1.1 4.5 1.1 3.6 1.1 2.7 1.1 1.8 1.1 1.1 1.1 .8 1.1 .4 1.1 .2 1.1 .2 1.1 .1 1.1 .1 1.2 0 1.1 .1 1.1 0 1.1 .1 1.1 0 1.1 0 1.1 .1 1.1 0 1.1 0 1.1 .1 1.1 0 1.1 0 1.1 .1 1.1 0 1.2 .1 1.1 0 1.1 .1 1.1 .1 1.1 0 1.1 0 1.1 .1 1.1 0 1.1 0 1.1 0 1.1 0 1.1 0 1.1 .1 1.1 0 1.1 0 1.2 0 1.1 0 1.1 0 1.1 0 1.1 0 1.1 0 1.1 0" stroke="#c0d8ea" stroke-width="0.7" opacity="0.72"/>
<path d="M321.2 191.4l1.1 .6 1.1 .5 1.1 .3 1.1 -.2 1.1 -.7 1.1 -1.3 1.1 -2.2 1.2 -2.8 1.1 -3.5 1.1 -3.7 1.1 -3.5 1.1 -2.7 1.1 -1.3 1.1 .2 1.1 1.8 1.1 3.2 1.1 4.2 1.1 4.5 1.1 4.4 1.1 3.8 1.1 3.2 1.2 2.4 1.1 1.7 1.1 1.1 1.1 .8 1.1 .5 1.1 .2 1.1 -.1 1.1 -.4 1.1 -.9 1.1 -1.4 1.1 -1.9 1.1 -2 1.1 -1.9 1.1 -1.2 1.2 0 1.1 1 1.1 2 1.1 2.3 1.1 2.3 1.1 1.8 1.1 1.4 1.1 .8 1.1 .5 1.1 .4 1.1 .2 1.1 .1 1.1 .2 1.1 .2 1.2 .1 1.1 .2 1.1 .2 1.1 .2 1.1 .1 1.1 .1 1.1 .1 1.1 .1 1.1 .1 1.1 0 1.1 0 1.1 .1 1.1 0 1.1 0 1.1 0 1.2 0 1.1 0 1.1 0 1.1 0 1.1 0 1.1 0 1.1 0" stroke="#c4c4c4" stroke-width="0.7" opacity="0.72"/>
<path d="M321.2 198.3l1.1 .1 1.1 -.7 1.1 -2.4 1.1 -5.4 1.1 -8.2 1.1 -9.4 1.1 -6.7 1.2 -.8 1.1 5.9 1.1 9.7 1.1 9.5 1.1 6.8 1.1 3.9 1.1 1.8 1.1 .7 1.1 .4 1.1 .1 1.1 .2 1.1 .1 1.1 .2 1.1 .1 1.2 .1 1.1 .1 1.1 .1 1.1 .1 1.1 .1 1.1 .1 1.1 0 1.1 .1 1.1 -.1 1.1 -.2 1.1 -.5 1.1 -1.3 1.1 -2.5 1.1 -4.1 1.2 -6.2 1.1 -8.3 1.1 -9.5 1.1 -9.2 1.1 -6.9 1.1 -2.9 1.1 1.8 1.1 6.3 1.1 9.1 1.1 9.9 1.1 9 1.1 7 1.1 4.7 1.1 2.9 1.2 1.6 1.1 .8 1.1 .4 1.1 .3 1.1 .1 1.1 .2 1.1 0 1.1 .1 1.1 .1 1.1 0 1.1 0 1.1 .1 1.1 0 1.1 0 1.1 0 1.2 0 1.1 0 1.1 0 1.1 0 1.1 0 1.1 0 1.1 0" stroke="#c4c4c4" stroke-width="0.7" opacity="0.72"/>
<path d="M321.2 157.2l1.1 .4 1.1 -1.9 1.1 -4.3 1.1 -6.1 1.1 -7.1 1.1 -6.4 1.1 -4.2 1.2 -.6 1.1 3.5 1.1 7.3 1.1 10 1.1 11.1 1.1 10.7 1.1 9.2 1.1 7.2 1.1 5.2 1.1 3.6 1.1 2.3 1.1 1.5 1.1 1 1.1 .7 1.2 .5 1.1 .4 1.1 .4 1.1 .3 1.1 .3 1.1 .3 1.1 .2 1.1 .3 1.1 .1 1.1 .1 1.1 -.1 1.1 -.5 1.1 -1.3 1.1 -2.7 1.2 -4.6 1.1 -6.6 1.1 -7.9 1.1 -7.9 1.1 -5.8 1.1 -1.9 1.1 2.7 1.1 6.5 1.1 8.3 1.1 8.2 1.1 6.7 1.1 4.5 1.1 2.8 1.1 1.4 1.2 .8 1.1 .4 1.1 .3 1.1 .2 1.1 .2 1.1 .2 1.1 .1 1.1 .1 1.1 .1 1.1 0 1.1 .1 1.1 0 1.1 0 1.1 0 1.1 .1 1.2 0 1.1 0 1.1 0 1.1 0 1.1 0 1.1 0 1.1 0" stroke="#c4c4c4" stroke-width="0.7" opacity="0.72"/>
<path d="M321.2 192.4l1.1 .7 1.1 .5 1.1 .6 1.1 .5 1.1 .6 1.1 .4 1.1 .5 1.2 .4 1.1 .4 1.1 .2 1.1 .1 1.1 -.1 1.1 -.6 1.1 -1.1 1.1 -1.6 1.1 -2 1.1 -2.1 1.1 -1.8 1.1 -.9 1.1 .2 1.1 1.4 1.2 2.2 1.1 2.6 1.1 2.5 1.1 2.1 1.1 1.7 1.1 1.1 1.1 .7 1.1 .4 1.1 .3 1.1 .2 1.1 .2 1.1 .2 1.1 .1 1.1 .2 1.2 .1 1.1 .1 1.1 .1 1.1 .2 1.1 .1 1.1 .1 1.1 .1 1.1 .2 1.1 .1 1.1 .2 1.1 .2 1.1 .2 1.1 .2 1.1 .2 1.2 .3 1.1 .3 1.1 .3 1.1 .2 1.1 .3 1.1 .2 1.1 .1 1.1 .2 1.1 .1 1.1 0 1.1 .1 1.1 0 1.1 .1 1.1 0 1.1 0 1.2 0 1.1 0 1.1 0 1.1 0 1.1 0 1.1 .1 1.1 0" stroke="#c4c4c4" stroke-width="0.7" opacity="0.72"/>
<path d="M321.2 175l1.1 -2.5 1.1 -2.2 1.1 -1.6 1.1 -.8 1.1 .5 1.1 1.6 1.1 2.6 1.2 3.4 1.1 3.7 1.1 3.7 1.1 3.5 1.1 2.9 1.1 2.4 1.1 1.9 1.1 1.3 1.1 1 1.1 .8 1.1 .6 1.1 .4 1.1 .4 1.1 .3 1.2 .4 1.1 .2 1.1 .3 1.1 .3 1.1 .2 1.1 .3 1.1 .2 1.1 .2 1.1 .3 1.1 .2 1.1 .2 1.1 .2 1.1 .1 1.1 .2 1.2 .2 1.1 .2 1.1 .1 1.1 .2 1.1 .1 1.1 .2 1.1 .2 1.1 .1 1.1 .2 1.1 .2 1.1 .2 1.1 .3 1.1 .2 1.1 .3 1.2 .3 1.1 .4 1.1 .3 1.1 .3 1.1 .3 1.1 .2 1.1 .2 1.1 .2 1.1 .1 1.1 .1 1.1 .1 1.1 0 1.1 0 1.1 .1 1.1 0 1.2 0 1.1 0 1.1 0 1.1 0 1.1 0 1.1 0 1.1 0" stroke="#c4c4c4" stroke-width="0.7" opacity="0.72"/>
<path d="M321.2 166.5l1.1 -12.2 1.1 -15.1 1.1 -16.8 1.1 -16.6 1.1 -13.9 1.1 -9.1 1.1 -2.7 1.2 4 1.1 9.4 1.1 12.3 1.1 12.3 1.1 9.2 1.1 4.6 1.1 -.5 1.1 -4 1.1 -5.1 1.1 -3.3 1.1 .8 1.1 5.7 1.1 10.3 1.1 12.9 1.2 13.5 1.1 12.2 1.1 9.9 1.1 7.1 1.1 4.6 1.1 2.9 1.1 1.6 1.1 .9 1.1 .4 1.1 .3 1.1 .3 1.1 .1 1.1 .2 1.1 .1 1.2 .2 1.1 .1 1.1 .2 1.1 .1 1.1 .1 1.1 .2 1.1 .1 1.1 .2 1.1 .1 1.1 .2 1.1 .2 1.1 .2 1.1 .2 1.1 .3 1.2 .3 1.1 .3 1.1 .3 1.1 .3 1.1 .2 1.1 .2 1.1 .2 1.1 .1 1.1 .2 1.1 0 1.1 .1 1.1 0 1.1 .1 1.1 0 1.1 0 1.2 0 1.1 0 1.1 0 1.1 0 1.1 0 1.1 0 1.1 .1" stroke="#c4c4c4" stroke-width="0.7" opacity="0.72"/>
<path d="M321.2 194.4l1.1 .7 1.1 .7 1.1 .7 1.1 .6 1.1 .6 1.1 .6 1.1 .5 1.2 .5 1.1 .4 1.1 .5 1.1 .4 1.1 .3 1.1 .4 1.1 .3 1.1 .3 1.1 .3 1.1 .3 1.1 .3 1.1 .2 1.1 .2 1.1 .3 1.2 .2 1.1 .2 1.1 .1 1.1 .2 1.1 .2 1.1 .1 1.1 .2 1.1 .1 1.1 .1 1.1 .1 1.1 .1 1.1 .1 1.1 -.1 1.1 -.4 1.2 -.8 1.1 -1.4 1.1 -1.9 1.1 -2.1 1.1 -1.7 1.1 -.6 1.1 .8 1.1 1.8 1.1 2.3 1.1 2.1 1.1 1.6 1.1 1 1.1 .5 1.1 .3 1.2 .2 1.1 .1 1.1 .2 1.1 .1 1.1 .1 1.1 .1 1.1 0 1.1 .1 1.1 0 1.1 .1 1.1 0 1.1 0 1.1 0 1.1 0 1.1 0 1.2 0 1.1 0 1.1 0 1.1 0 1.1 0 1.1 0 1.1 0" stroke="#c4c4c4" stroke-width="0.7" opacity="0.72"/>
<path d="M321.2 176.5l1.1 2 1.1 1.9 1.1 1.7 1.1 1.6 1.1 1.5 1.1 1.4 1.1 1.2 1.2 1.2 1.1 .9 1.1 .7 1.1 .2 1.1 -.6 1.1 -1.7 1.1 -3.3 1.1 -4.8 1.1 -5.7 1.1 -5.5 1.1 -3.9 1.1 -1 1.1 2.2 1.1 4.8 1.2 5.8 1.1 5 1.1 2.7 1.1 -.2 1.1 -1.8 1.1 -1.5 1.1 .6 1.1 3.2 1.1 4.9 1.1 4.8 1.1 3.7 1.1 2.2 1.1 1.2 1.1 .6 1.2 .3 1.1 .2 1.1 .2 1.1 .1 1.1 .2 1.1 .1 1.1 .2 1.1 .2 1.1 .1 1.1 .2 1.1 .2 1.1 .2 1.1 .3 1.1 .2 1.2 .3 1.1 .3 1.1 .3 1.1 .3 1.1 .3 1.1 .2 1.1 .1 1.1 .2 1.1 .1 1.1 0 1.1 .1 1.1 0 1.1 .1 1.1 0 1.1 0 1.2 0 1.1 0 1.1 0 1.1 0 1.1 0 1.1 .1 1.1 0" stroke="#ecd3c0" stroke-width="0.7" opacity="0.72"/>
<path d="M321.2 167.4l1.1 2.4 1.1 2.1 1.1 2.1 1.1 1.8 1.1 1.5 1.1 1.1 1.1 .5 1.2 -.7 1.1 -2 1.1 -3.6 1.1 -5.5 1.1 -7.2 1.1 -8.6 1.1 -9.4 1.1 -8.9 1.1 -6.1 1.1 -.8 1.1 6.1 1.1 12 1.1 14.9 1.1 14.2 1.2 10.9 1.1 7.1 1.1 4 1.1 2.1 1.1 1.1 1.1 .7 1.1 .6 1.1 .4 1.1 .4 1.1 .4 1.1 .4 1.1 .3 1.1 .3 1.1 .3 1.2 .3 1.1 .3 1.1 .2 1.1 .3 1.1 .2 1.1 .3 1.1 .2 1.1 .2 1.1 .2 1.1 .2 1.1 .3 1.1 .2 1.1 .3 1.1 .2 1.2 .3 1.1 .2 1.1 .3 1.1 .2 1.1 .2 1.1 .2 1.1 .1 1.1 .1 1.1 .1 1.1 .1 1.1 0 1.1 0 1.1 .1 1.1 0 1.1 0 1.2 0 1.1 0 1.1 0 1.1 0 1.1 0 1.1 0 1.1 0" stroke="#c4c4c4" stroke-width="0.7" opacity="0.72"/>
<path d="M321.2 137.3l1.1 4.8 1.1 4.4 1.1 4.2 1.1 3.9 1.1 3.5 1.1 3.4 1.1 3.1 1.2 2.9 1.1 2.7 1.1 2.5 1.1 2.3 1.1 2.2 1.1 2 1.1 1.8 1.1 1.6 1.1 1.3 1.1 .9 1.1 .2 1.1 -.9 1.1 -2.4 1.1 -4 1.2 -5.8 1.1 -6.9 1.1 -7.3 1.1 -6.1 1.1 -3.6 1.1 -.2 1.1 3.4 1.1 6.5 1.1 8.4 1.1 8.8 1.1 8 1.1 6.5 1.1 4.8 1.1 3.3 1.2 2.1 1.1 1.3 1.1 .8 1.1 .6 1.1 .4 1.1 .3 1.1 .3 1.1 .3 1.1 .3 1.1 .3 1.1 .3 1.1 .3 1.1 .3 1.1 .3 1.2 .3 1.1 .3 1.1 .3 1.1 .3 1.1 .2 1.1 .2 1.1 .2 1.1 .1 1.1 .1 1.1 0 1.1 .1 1.1 0 1.1 0 1.1 .1 1.1 0 1.2 0 1.1 0 1.1 0 1.1 0 1.1 0 1.1 0 1.1 0" stroke="#c4c4c4" stroke-width="0.7" opacity="0.72"/>
<path d="M321.2 178.3l1.1 -2.9 1.1 -4.6 1.1 -5.5 1.1 -5.3 1.1 -4 1.1 -1.5 1.1 1.6 1.2 4.7 1.1 6.7 1.1 7.8 1.1 7.4 1.1 6.4 1.1 4.7 1.1 3 1.1 1 1.1 -1 1.1 -3.5 1.1 -6.2 1.1 -9.1 1.1 -10.9 1.1 -10.9 1.2 -8.2 1.1 -3.4 1.1 2.5 1.1 7.8 1.1 10.9 1.1 11.4 1.1 10 1.1 7.4 1.1 4.9 1.1 2.8 1.1 1.5 1.1 .7 1.1 .3 1.1 .2 1.2 .1 1.1 .1 1.1 .1 1.1 0 1.1 .1 1.1 .1 1.1 0 1.1 .1 1.1 .1 1.1 .1 1.1 .1 1.1 .1 1.1 .1 1.1 .2 1.2 .1 1.1 .2 1.1 .2 1.1 .1 1.1 .2 1.1 .1 1.1 .1 1.1 .1 1.1 0 1.1 .1 1.1 0 1.1 0 1.1 .1 1.1 0 1.1 0 1.2 0 1.1 0 1.1 0 1.1 0 1.1 0 1.1 0 1.1 0" stroke="#c4c4c4" stroke-width="0.7" opacity="0.72"/>
<path d="M321.2 144.9l1.1 .7 1.1 -1.3 1.1 -3.5 1.1 -5.4 1.1 -7 1.1 -7.6 1.1 -7.6 1.2 -7 1.1 -6.2 1.1 -5.2 1.1 -4.3 1.1 -3.1 1.1 -1 1.1 1.9 1.1 5.6 1.1 9.6 1.1 12.8 1.1 14.9 1.1 15.2 1.1 14.1 1.1 12 1.2 9.3 1.1 6.8 1.1 4.6 1.1 3 1.1 1.9 1.1 1.3 1.1 .8 1.1 .7 1.1 .5 1.1 .4 1.1 .4 1.1 .3 1.1 .4 1.1 .3 1.2 .2 1.1 .3 1.1 .3 1.1 .2 1.1 .2 1.1 .2 1.1 .2 1.1 .2 1.1 .2 1.1 .2 1.1 .2 1.1 .2 1.1 .2 1.1 .2 1.2 .2 1.1 .2 1.1 .2 1.1 .2 1.1 .1 1.1 .1 1.1 .1 1.1 .1 1.1 .1 1.1 0 1.1 0 1.1 .1 1.1 0 1.1 0 1.1 0 1.2 0 1.1 0 1.1 0 1.1 0 1.1 0 1.1 0 1.1 0" stroke="#c4c4c4" stroke-width="0.7" opacity="0.72"/>
<path d="M321.2 183.6l1.1 1.3 1.1 1.3 1.1 1.2 1.1 1.1 1.1 1 1.1 .9 1.1 .9 1.2 .9 1.1 .7 1.1 .6 1.1 .5 1.1 .3 1.1 -.1 1.1 -.7 1.1 -1.4 1.1 -2.2 1.1 -3 1.1 -3.7 1.1 -3.9 1.1 -3.4 1.1 -2.4 1.2 -.8 1.1 1 1.1 2.7 1.1 3.9 1.1 4.5 1.1 4.5 1.1 4 1.1 3.1 1.1 2.4 1.1 1.6 1.1 1 1.1 .6 1.1 .3 1.1 -.1 1.2 -.8 1.1 -1.6 1.1 -2.4 1.1 -2.8 1.1 -2 1.1 -.2 1.1 1.6 1.1 2.9 1.1 3 1.1 2.4 1.1 1.4 1.1 .9 1.1 .4 1.1 .3 1.2 .3 1.1 .3 1.1 .3 1.1 .3 1.1 .2 1.1 .2 1.1 .2 1.1 .1 1.1 .1 1.1 .1 1.1 0 1.1 .1 1.1 0 1.1 0 1.1 0 1.2 0 1.1 0 1.1 0 1.1 .1 1.1 0 1.1 0 1.1 0" stroke="#c4c4c4" stroke-width="0.7" opacity="0.72"/>
<path d="M321.2 126.6l1.1 9 1.1 6.8 1.1 4.1 1.1 .9 1.1 -2.8 1.1 -6.6 1.1 -9.8 1.2 -11.7 1.1 -11.2 1.1 -8.2 1.1 -3 1.1 3.5 1.1 9.6 1.1 14.2 1.1 16 1.1 15.3 1.1 12.4 1.1 8 1.1 2.8 1.1 -2.2 1.1 -6.6 1.2 -9.5 1.1 -10.4 1.1 -8.7 1.1 -4.8 1.1 .5 1.1 5.8 1.1 9.9 1.1 11.8 1.1 11.7 1.1 10.1 1.1 7.7 1.1 5.2 1.1 3.3 1.1 1.8 1.2 1 1.1 .6 1.1 .3 1.1 .2 1.1 .1 1.1 .2 1.1 .1 1.1 .1 1.1 .2 1.1 .1 1.1 .2 1.1 .2 1.1 .2 1.1 .3 1.2 .2 1.1 .3 1.1 .3 1.1 .3 1.1 .2 1.1 .3 1.1 .1 1.1 .2 1.1 .1 1.1 0 1.1 .1 1.1 0 1.1 .1 1.1 0 1.1 0 1.2 0 1.1 0 1.1 0 1.1 0 1.1 0 1.1 0 1.1 0" stroke="#c4c4c4" stroke-width="0.7" opacity="0.72"/>
<path d="M321.2 178.3l1.1 2.1 1.1 1.9 1.1 1.7 1.1 1.6 1.1 1.5 1.1 1.4 1.1 1.3 1.2 1.1 1.1 1.1 1.1 1 1.1 .9 1.1 .9 1.1 .8 1.1 .7 1.1 .7 1.1 .6 1.1 .6 1.1 .4 1.1 .2 1.1 -.1 1.1 -.8 1.2 -1.9 1.1 -3.4 1.1 -5.3 1.1 -6.9 1.1 -8.1 1.1 -7.7 1.1 -5.9 1.1 -2.5 1.1 1.6 1.1 5.3 1.1 7.8 1.1 8.6 1.1 7.9 1.1 6.4 1.2 4.6 1.1 2.9 1.1 1.7 1.1 .9 1.1 .5 1.1 .3 1.1 .2 1.1 .1 1.1 .2 1.1 .1 1.1 .2 1.1 .1 1.1 .2 1.1 .2 1.2 .2 1.1 .2 1.1 .2 1.1 .2 1.1 .2 1.1 .1 1.1 .2 1.1 0 1.1 .1 1.1 .1 1.1 0 1.1 0 1.1 0 1.1 .1 1.1 0 1.2 0 1.1 0 1.1 0 1.1 0 1.1 0 1.1 0 1.1 0" stroke="#c4c4c4" stroke-width="0.7" opacity="0.72"/>
<path d="M321.2 115.3l1.1 -5.4 1.1 -8.5 1.1 -9.3 1.1 -6.8 1.1 -1.5 1.1 5.2 1.1 10.1 1.2 10.8 1.1 6.2 1.1 -2.5 1.1 -11.4 1.1 -16.4 1.1 -13.7 1.1 -3.7 1.1 9.9 1.1 20.8 1.1 25.4 1.1 23.4 1.1 17.6 1.1 11.2 1.1 6.4 1.2 3.4 1.1 2 1.1 1.3 1.1 1.1 1.1 1 1.1 .9 1.1 .9 1.1 .7 1.1 .8 1.1 .7 1.1 .6 1.1 .7 1.1 .5 1.1 .6 1.2 .5 1.1 .5 1.1 .5 1.1 .4 1.1 .4 1.1 .4 1.1 .4 1.1 .4 1.1 .4 1.1 .4 1.1 .4 1.1 .4 1.1 .4 1.1 .5 1.2 .4 1.1 .5 1.1 .4 1.1 .4 1.1 .4 1.1 .3 1.1 .2 1.1 .2 1.1 .1 1.1 .1 1.1 .1 1.1 0 1.1 0 1.1 .1 1.1 0 1.2 0 1.1 0 1.1 0 1.1 0 1.1 .1 1.1 0 1.1 0" stroke="#c4c4c4" stroke-width="0.7" opacity="0.72"/>
<path d="M321.2 157.5l1.1 2.5 1.1 .9 1.1 -.6 1.1 -1.4 1.1 -1.6 1.1 -1 1.1 .2 1.2 1.8 1.1 3.6 1.1 5.1 1.1 6.1 1.1 6.3 1.1 5.9 1.1 5.2 1.1 4.1 1.1 2.9 1.1 1.7 1.1 .4 1.1 -.8 1.1 -2.4 1.1 -3.8 1.2 -5.4 1.1 -6.7 1.1 -7.4 1.1 -7.3 1.1 -6 1.1 -3.9 1.1 -.9 1.1 2.1 1.1 5 1.1 6.8 1.1 7.8 1.1 7.6 1.1 6.7 1.1 5.4 1.2 3.9 1.1 2.8 1.1 1.7 1.1 1 1.1 .6 1.1 .3 1.1 .2 1.1 .1 1.1 .1 1.1 0 1.1 0 1.1 .1 1.1 0 1.1 .1 1.2 0 1.1 .1 1.1 0 1.1 .1 1.1 0 1.1 .1 1.1 0 1.1 0 1.1 0 1.1 0 1.1 0 1.1 .1 1.1 0 1.1 0 1.1 0 1.2 0 1.1 0 1.1 0 1.1 0 1.1 0 1.1 0 1.1 0" stroke="#c0d8ea" stroke-width="0.7" opacity="0.72"/>
<path d="M321.2 194.7l1.1 .9 1.1 .8 1.1 .7 1.1 .7 1.1 .6 1.1 .5 1.1 .5 1.2 .2 1.1 -.4 1.1 -1.5 1.1 -3.8 1.1 -7.1 1.1 -10.8 1.1 -13.4 1.1 -13 1.1 -8.4 1.1 -.8 1.1 7.4 1.1 12.8 1.1 14.2 1.1 12.1 1.2 8.5 1.1 5 1.1 2.6 1.1 1.1 1.1 .5 1.1 .3 1.1 .1 1.1 .1 1.1 .1 1.1 .2 1.1 0 1.1 .1 1.1 .1 1.1 .1 1.2 .1 1.1 .1 1.1 0 1.1 .1 1.1 .1 1.1 0 1.1 .1 1.1 .1 1.1 0 1.1 .1 1.1 .1 1.1 .1 1.1 .1 1.1 .1 1.2 .1 1.1 .1 1.1 .1 1.1 .1 1.1 .1 1.1 .1 1.1 0 1.1 .1 1.1 0 1.1 .1 1.1 0 1.1 0 1.1 0 1.1 0 1.1 0 1.2 0 1.1 0 1.1 0 1.1 0 1.1 0 1.1 0 1.1 0" stroke="#c4c4c4" stroke-width="0.7" opacity="0.72"/>
<path d="M321.2 186.3l1.1 1 1.1 .8 1.1 .7 1.1 .2 1.1 -.4 1.1 -1.5 1.1 -3.2 1.2 -5.3 1.1 -7.6 1.1 -9.6 1.1 -10.6 1.1 -10 1.1 -7.4 1.1 -3.1 1.1 2.1 1.1 6.7 1.1 10.2 1.1 11.5 1.1 11.1 1.1 9.1 1.1 6.3 1.2 2.9 1.1 -.5 1.1 -3.1 1.1 -4 1.1 -2.6 1.1 .4 1.1 3.6 1.1 5.4 1.1 5.2 1.1 3.9 1.1 2.4 1.1 1.2 1.1 .5 1.1 .3 1.2 .2 1.1 .2 1.1 .2 1.1 .1 1.1 .2 1.1 .1 1.1 .2 1.1 .2 1.1 .1 1.1 .2 1.1 .2 1.1 .2 1.1 .2 1.1 .3 1.2 .2 1.1 .3 1.1 .3 1.1 .2 1.1 .3 1.1 .1 1.1 .2 1.1 .1 1.1 .1 1.1 .1 1.1 0 1.1 .1 1.1 0 1.1 0 1.1 0 1.2 0 1.1 0 1.1 .1 1.1 0 1.1 0 1.1 0 1.1 0" stroke="#c4c4c4" stroke-width="0.7" opacity="0.72"/>
<path d="M321.2 129.7l1.1 7.9 1.1 7.1 1.1 6.3 1.1 5.7 1.1 5.1 1.1 4.6 1.1 4.1 1.2 3.6 1.1 3.3 1.1 2.9 1.1 2.7 1.1 2.3 1.1 2.1 1.1 2 1.1 1.7 1.1 1.5 1.1 1.4 1.1 1.2 1.1 1.1 1.1 1 1.1 .9 1.2 .8 1.1 .7 1.1 .7 1.1 .6 1.1 .5 1.1 .5 1.1 .4 1.1 .3 1.1 .1 1.1 0 1.1 -.4 1.1 -1.1 1.1 -1.9 1.1 -3 1.2 -4.3 1.1 -5.6 1.1 -6.4 1.1 -6.4 1.1 -5.4 1.1 -3.4 1.1 -.7 1.1 2.2 1.1 4.8 1.1 6.5 1.1 7 1.1 6.6 1.1 5.5 1.1 4.1 1.2 2.7 1.1 1.7 1.1 1 1.1 .5 1.1 .3 1.1 .2 1.1 .1 1.1 .1 1.1 0 1.1 0 1.1 .1 1.1 0 1.1 0 1.1 0 1.1 0 1.2 0 1.1 0 1.1 0 1.1 0 1.1 0 1.1 0 1.1 0" stroke="#c4c4c4" stroke-width="0.7" opacity="0.72"/>
<path d="M321.2 140.2l1.1 -13.1 1.1 -17.7 1.1 -20.4 1.1 -20.3 1.1 -16.8 1.1 -10.3 1.1 -2.4 1.2 5.1 1.1 11 1.1 14.5 1.1 15.9 1.1 16 1.1 15.4 1.1 14.7 1.1 13.7 1.1 12.7 1.1 11.2 1.1 9.5 1.1 7.7 1.1 5.8 1.1 4.3 1.2 2.9 1.1 1.9 1.1 1.3 1.1 .8 1.1 .5 1.1 .4 1.1 .3 1.1 .2 1.1 .2 1.1 .2 1.1 .2 1.1 .1 1.1 .1 1.1 .2 1.2 .1 1.1 .1 1.1 .1 1.1 0 1.1 .1 1.1 .1 1.1 .1 1.1 0 1.1 .1 1.1 .1 1.1 0 1.1 .1 1.1 .1 1.1 .1 1.2 0 1.1 .1 1.1 .1 1.1 .1 1.1 0 1.1 .1 1.1 0 1.1 .1 1.1 0 1.1 0 1.1 0 1.1 0 1.1 0 1.1 .1 1.1 0 1.2 0 1.1 0 1.1 0 1.1 0 1.1 0 1.1 0 1.1 0" stroke="#ecd3c0" stroke-width="0.7" opacity="0.72"/>
<path d="M321.2 198.9l1.1 .5 1.1 .4 1.1 .4 1.1 .4 1.1 .2 1.1 -.2 1.1 -.7 1.2 -1.6 1.1 -2.6 1.1 -3.5 1.1 -3.5 1.1 -2.4 1.1 -.2 1.1 2.1 1.1 3.7 1.1 4.1 1.1 3.5 1.1 2.5 1.1 1.5 1.1 .8 1.1 .4 1.2 .2 1.1 .2 1.1 .1 1.1 .1 1.1 .1 1.1 .1 1.1 .1 1.1 0 1.1 0 1.1 -.1 1.1 -.3 1.1 -.5 1.1 -.8 1.1 -1 1.2 -1.4 1.1 -1.8 1.1 -1.9 1.1 -2 1.1 -1.9 1.1 -1.4 1.1 -.8 1.1 0 1.1 .8 1.1 1.5 1.1 2 1.1 2.3 1.1 2.2 1.1 2.1 1.2 1.6 1.1 1.3 1.1 .8 1.1 .6 1.1 .3 1.1 .2 1.1 .1 1.1 .1 1.1 0 1.1 0 1.1 0 1.1 0 1.1 0 1.1 .1 1.1 0 1.2 0 1.1 0 1.1 0 1.1 0 1.1 0 1.1 0 1.1 0" stroke="#c4c4c4" stroke-width="0.7" opacity="0.72"/>
<path d="M321.2 159.7l1.1 3.2 1.1 3 1.1 2.7 1.1 2.5 1.1 2.1 1.1 1.6 1.1 .2 1.2 -2.2 1.1 -6.1 1.1 -11 1.1 -15.3 1.1 -16.5 1.1 -12.2 1.1 -3.2 1.1 7.6 1.1 16 1.1 19 1.1 17.1 1.1 12.6 1.1 7.8 1.1 4.3 1.2 2.2 1.1 1.2 1.1 .8 1.1 .6 1.1 .5 1.1 .5 1.1 .5 1.1 .5 1.1 .4 1.1 .3 1.1 .4 1.1 .3 1.1 .4 1.1 .3 1.2 .2 1.1 .3 1.1 .3 1.1 .2 1.1 .2 1.1 .3 1.1 .2 1.1 .2 1.1 .2 1.1 .2 1.1 .3 1.1 .2 1.1 .3 1.1 .3 1.2 .3 1.1 .3 1.1 .3 1.1 .3 1.1 .3 1.1 .2 1.1 .2 1.1 .1 1.1 .1 1.1 .1 1.1 0 1.1 .1 1.1 0 1.1 0 1.1 0 1.2 0 1.1 0 1.1 .1 1.1 0 1.1 0 1.1 0 1.1 0" stroke="#c4c4c4" stroke-width="0.7" opacity="0.72"/>
<path d="M321.2 161.1l1.1 -7.3 1.1 -10.4 1.1 -12.9 1.1 -14.4 1.1 -14 1.1 -11.4 1.1 -6.8 1.2 -.8 1.1 5.5 1.1 10.7 1.1 14.1 1.1 15.1 1.1 13.6 1.1 10.2 1.1 5.9 1.1 1.1 1.1 -3.1 1.1 -6.3 1.1 -8 1.1 -8.2 1.1 -6.6 1.2 -3.7 1.1 -.1 1.1 3.9 1.1 7.2 1.1 9.6 1.1 10.7 1.1 10.8 1.1 9.8 1.1 8.2 1.1 6.4 1.1 4.7 1.1 3.2 1.1 2.2 1.1 1.3 1.2 .9 1.1 .5 1.1 .4 1.1 .2 1.1 .3 1.1 .1 1.1 .2 1.1 .2 1.1 .2 1.1 .2 1.1 .2 1.1 .2 1.1 .2 1.1 .3 1.2 .3 1.1 .3 1.1 .2 1.1 .3 1.1 .2 1.1 .2 1.1 .2 1.1 .1 1.1 .1 1.1 .1 1.1 0 1.1 .1 1.1 0 1.1 0 1.1 0 1.2 0 1.1 0 1.1 .1 1.1 0 1.1 0 1.1 0 1.1 0" stroke="#c4c4c4" stroke-width="0.7" opacity="0.72"/>
<path d="M321.2 114.2l1.1 -13.9 1.1 -11.1 1.1 -4.2 1.1 4.7 1.1 13.4 1.1 19 1.1 20.5 1.2 18.4 1.1 14.4 1.1 9.9 1.1 6.1 1.1 3.5 1.1 2 1.1 1.2 1.1 .7 1.1 .5 1.1 .5 1.1 .4 1.1 .3 1.1 .3 1.1 .3 1.2 .2 1.1 .3 1.1 .2 1.1 .2 1.1 .1 1.1 .2 1.1 .1 1.1 .1 1.1 0 1.1 -.1 1.1 -.3 1.1 -.7 1.1 -1 1.1 -1.6 1.2 -2.2 1.1 -2.6 1.1 -2.9 1.1 -2.8 1.1 -2.2 1.1 -1.2 1.1 0 1.1 1.2 1.1 2.4 1.1 3 1.1 3.3 1.1 3.1 1.1 2.6 1.1 2.1 1.2 1.5 1.1 1 1.1 .7 1.1 .5 1.1 .3 1.1 .2 1.1 .2 1.1 .2 1.1 .1 1.1 0 1.1 .1 1.1 0 1.1 .1 1.1 0 1.1 0 1.2 0 1.1 0 1.1 0 1.1 0 1.1 0 1.1 0 1.1 0" stroke="#c4c4c4" stroke-width="0.7" opacity="0.72"/>
<path d="M321.2 133.3l1.1 4.1 1.1 3.9 1.1 3.6 1.1 3.2 1.1 2.7 1.1 1.7 1.1 .2 1.2 -1.9 1.1 -5 1.1 -8.8 1.1 -13.5 1.1 -19.6 1.1 -26.2 1.1 -30.9 1.1 -28.2 1.1 -13.8 1.1 9.5 1.1 31.8 1.1 42.6 1.1 39.6 1.1 28.5 1.2 16.7 1.1 8.6 1.1 4 1.1 2.1 1.1 1.4 1.1 1 1.1 .9 1.1 .8 1.1 .7 1.1 .7 1.1 .7 1.1 .7 1.1 .6 1.1 .5 1.2 .6 1.1 .5 1.1 .5 1.1 .5 1.1 .4 1.1 .5 1.1 .4 1.1 .4 1.1 .5 1.1 .4 1.1 .5 1.1 .5 1.1 .6 1.1 .5 1.2 .6 1.1 .6 1.1 .6 1.1 .6 1.1 .4 1.1 .4 1.1 .3 1.1 .3 1.1 .2 1.1 .1 1.1 .1 1.1 .1 1.1 0 1.1 .1 1.1 0 1.2 0 1.1 0 1.1 0 1.1 .1 1.1 0 1.1 0 1.1 0" stroke="#c4c4c4" stroke-width="0.7" opacity="0.72"/>
<path d="M321.2 179l1.1 1.8 1.1 1.6 1.1 1.6 1.1 1.4 1.1 1.3 1.1 1.3 1.1 1.1 1.2 1 1.1 1 1.1 .9 1.1 .8 1.1 .7 1.1 .7 1.1 .4 1.1 .3 1.1 0 1.1 -.3 1.1 -.8 1.1 -1.1 1.1 -1.5 1.1 -1.7 1.2 -1.5 1.1 -1.2 1.1 -.4 1.1 .4 1.1 1.3 1.1 1.8 1.1 2.3 1.1 2.3 1.1 2.1 1.1 1.8 1.1 1.4 1.1 .9 1.1 .5 1.1 .2 1.2 -.2 1.1 -.6 1.1 -1 1.1 -1.4 1.1 -1.7 1.1 -1.8 1.1 -1.6 1.1 -1 1.1 -.3 1.1 .6 1.1 1.4 1.1 2 1.1 2.3 1.1 2.3 1.2 2 1.1 1.5 1.1 1.1 1.1 .8 1.1 .5 1.1 .4 1.1 .2 1.1 .2 1.1 .1 1.1 .1 1.1 .1 1.1 0 1.1 0 1.1 .1 1.1 0 1.2 0 1.1 0 1.1 0 1.1 0 1.1 0 1.1 0 1.1 0" stroke="#c4c4c4" stroke-width="0.7" opacity="0.72"/>
<path d="M321.2 198.8l1.1 .5 1.1 .4 1.1 .3 1.1 .2 1.1 0 1.1 -.2 1.1 -.4 1.2 -.7 1.1 -.8 1.1 -.9 1.1 -.9 1.1 -.6 1.1 -.3 1.1 .1 1.1 .6 1.1 .9 1.1 1.2 1.1 1.3 1.1 1.2 1.1 1.1 1.1 .9 1.2 .7 1.1 .5 1.1 .3 1.1 .3 1.1 .1 1.1 .2 1.1 .1 1.1 0 1.1 .1 1.1 .1 1.1 .1 1.1 0 1.1 .1 1.1 .1 1.2 0 1.1 .1 1.1 0 1.1 .1 1.1 .1 1.1 0 1.1 .1 1.1 .1 1.1 0 1.1 .1 1.1 .1 1.1 .1 1.1 .1 1.1 .1 1.2 .2 1.1 .1 1.1 .2 1.1 .1 1.1 .1 1.1 .2 1.1 0 1.1 .1 1.1 .1 1.1 0 1.1 0 1.1 .1 1.1 0 1.1 0 1.1 0 1.2 0 1.1 0 1.1 0 1.1 0 1.1 0 1.1 0 1.1 0" stroke="#c4c4c4" stroke-width="0.7" opacity="0.72"/>
<path d="M321.2 181.6l1.1 2.4 1.1 2.2 1.1 1.8 1.1 1.7 1.1 1.5 1.1 1.3 1.1 1.1 1.2 1 1.1 .9 1.1 .7 1.1 .5 1.1 .2 1.1 -.2 1.1 -.7 1.1 -1.4 1.1 -2.2 1.1 -2.9 1.1 -3.7 1.1 -4.1 1.1 -4 1.1 -3.3 1.2 -2.2 1.1 -.7 1.1 1.1 1.1 2.5 1.1 3.7 1.1 4.3 1.1 4.4 1.1 4.1 1.1 3.5 1.1 2.8 1.1 2.1 1.1 1.5 1.1 1 1.1 .7 1.2 .4 1.1 .3 1.1 .2 1.1 .2 1.1 .1 1.1 .1 1.1 .1 1.1 .1 1.1 .1 1.1 .2 1.1 .1 1.1 .2 1.1 .2 1.1 .2 1.2 .2 1.1 .2 1.1 .3 1.1 .2 1.1 .2 1.1 .2 1.1 .1 1.1 .1 1.1 .1 1.1 .1 1.1 0 1.1 .1 1.1 0 1.1 0 1.1 0 1.2 0 1.1 0 1.1 .1 1.1 0 1.1 0 1.1 0 1.1 0" stroke="#c4c4c4" stroke-width="0.7" opacity="0.72"/>
<path d="M321.2 149.5l1.1 -1.8 1.1 -3.7 1.1 -5.5 1.1 -7 1.1 -7.3 1.1 -6.2 1.1 -3.6 1.2 .1 1.1 4.1 1.1 7.6 1.1 10 1.1 11 1.1 10.4 1.1 9.1 1.1 7.2 1.1 5.3 1.1 3.8 1.1 2.6 1.1 1.9 1.1 1.3 1.1 1.1 1.2 .9 1.1 .9 1.1 .7 1.1 .8 1.1 .6 1.1 .7 1.1 .6 1.1 .6 1.1 .5 1.1 .5 1.1 .3 1.1 .1 1.1 -.3 1.1 -1 1.2 -2 1.1 -3.5 1.1 -5.3 1.1 -6.9 1.1 -8.2 1.1 -8.3 1.1 -7 1.1 -4 1.1 -.2 1.1 3.9 1.1 7.3 1.1 9.3 1.1 9.5 1.1 8.5 1.2 6.6 1.1 4.6 1.1 2.9 1.1 1.8 1.1 1 1.1 .5 1.1 .4 1.1 .2 1.1 .2 1.1 .1 1.1 .1 1.1 0 1.1 .1 1.1 0 1.1 0 1.2 .1 1.1 0 1.1 0 1.1 0 1.1 0 1.1 0 1.1 0" stroke="#c4c4c4" stroke-width="0.7" opacity="0.72"/>
<path d="M321.2 173.1l1.1 1.5 1.1 -.1 1.1 -1.6 1.1 -2.7 1.1 -2.9 1.1 -1.4 1.1 1 1.2 3.8 1.1 5.7 1.1 6.3 1.1 5.6 1.1 4.3 1.1 3 1.1 1.8 1.1 1.1 1.1 .6 1.1 .2 1.1 -.5 1.1 -1.2 1.1 -2.6 1.1 -4.2 1.2 -6.1 1.1 -8 1.1 -9.3 1.1 -9.6 1.1 -8.3 1.1 -5.5 1.1 -1.6 1.1 2.7 1.1 6.5 1.1 9.1 1.1 10 1.1 9.6 1.1 8.2 1.1 6.2 1.2 4.4 1.1 2.8 1.1 1.7 1.1 1 1.1 .5 1.1 .3 1.1 .2 1.1 .1 1.1 .1 1.1 .1 1.1 .1 1.1 .1 1.1 .1 1.1 .2 1.2 .1 1.1 .2 1.1 .2 1.1 .1 1.1 .1 1.1 .2 1.1 0 1.1 .1 1.1 .1 1.1 0 1.1 0 1.1 .1 1.1 0 1.1 0 1.1 0 1.2 0 1.1 0 1.1 0 1.1 0 1.1 0 1.1 0 1.1 0" stroke="#c4c4c4" stroke-width="0.7" opacity="0.72"/>
<path d="M321.2 196.9l1.1 .5 1.1 .5 1.1 .4 1.1 .5 1.1 .3 1.1 .4 1.1 .4 1.2 .3 1.1 .3 1.1 .3 1.1 .2 1.1 .3 1.1 .2 1.1 .2 1.1 .2 1.1 .2 1.1 .2 1.1 .2 1.1 .1 1.1 0 1.1 0 1.2 -.3 1.1 -.5 1.1 -.9 1.1 -1.3 1.1 -1.8 1.1 -2.1 1.1 -2.3 1.1 -2.2 1.1 -1.7 1.1 -1 1.1 0 1.1 .9 1.1 1.8 1.1 2.4 1.2 2.5 1.1 2.4 1.1 2 1.1 1.7 1.1 1.1 1.1 .8 1.1 .6 1.1 .3 1.1 .2 1.1 .2 1.1 .2 1.1 .1 1.1 .2 1.1 .1 1.2 .2 1.1 .2 1.1 .2 1.1 .2 1.1 .2 1.1 .1 1.1 .1 1.1 .1 1.1 .1 1.1 0 1.1 .1 1.1 0 1.1 0 1.1 0 1.1 .1 1.2 0 1.1 0 1.1 0 1.1 0 1.1 0 1.1 0 1.1 0" stroke="#c4c4c4" stroke-width="0.7" opacity="0.72"/>
<path d="M321.2 194.1l1.1 .5 1.1 .5 1.1 .5 1.1 .3 1.1 .2 1.1 -.1 1.1 -.6 1.2 -1.2 1.1 -2.2 1.1 -3.6 1.1 -5.1 1.1 -7 1.1 -8.6 1.1 -9.8 1.1 -10.3 1.1 -9.6 1.1 -7.8 1.1 -4.7 1.1 -1 1.1 2.9 1.1 6.4 1.2 9 1.1 10.5 1.1 10.7 1.1 10 1.1 8.5 1.1 6.8 1.1 5.1 1.1 3.5 1.1 2.4 1.1 1.5 1.1 .9 1.1 .5 1.1 .4 1.1 .2 1.2 .2 1.1 .1 1.1 .1 1.1 .2 1.1 .1 1.1 .1 1.1 .1 1.1 .1 1.1 .2 1.1 .1 1.1 .1 1.1 .2 1.1 .2 1.1 .2 1.2 .2 1.1 .2 1.1 .3 1.1 .2 1.1 .2 1.1 .1 1.1 .2 1.1 .1 1.1 .1 1.1 0 1.1 .1 1.1 0 1.1 0 1.1 0 1.1 0 1.2 .1 1.1 0 1.1 0 1.1 0 1.1 0 1.1 0 1.1 0" stroke="#c4c4c4" stroke-width="0.7" opacity="0.72"/>
<path d="M321.2 146l1.1 8.7 1.1 7.4 1.1 6.3 1.1 5.5 1.1 4.6 1.1 4 1.1 3.5 1.2 2.9 1.1 2.6 1.1 2.1 1.1 1.9 1.1 1.6 1.1 1.4 1.1 1.2 1.1 1 1.1 .9 1.1 .7 1.1 .7 1.1 .5 1.1 .5 1.1 .4 1.2 .4 1.1 .3 1.1 .3 1.1 .2 1.1 .2 1.1 .2 1.1 .1 1.1 .1 1.1 .2 1.1 0 1.1 .1 1.1 -.1 1.1 -.2 1.1 -.7 1.2 -1.4 1.1 -2.6 1.1 -3.9 1.1 -5.2 1.1 -5.5 1.1 -4.7 1.1 -2.4 1.1 .6 1.1 3.5 1.1 5.3 1.1 5.7 1.1 4.9 1.1 3.5 1.1 2.2 1.2 1.1 1.1 .5 1.1 .3 1.1 .1 1.1 0 1.1 .1 1.1 0 1.1 0 1.1 0 1.1 0 1.1 .1 1.1 0 1.1 0 1.1 0 1.1 0 1.2 0 1.1 0 1.1 0 1.1 0 1.1 0 1.1 0 1.1 0" stroke="#c0d8ea" stroke-width="0.7" opacity="0.72"/>
<path d="M321.2 154.62C321.52 155.03 322.48 155.43 323.12 157.05C323.76 158.66 324.39 162.03 325.03 164.32C325.67 166.61 326.31 168.77 326.95 170.79C327.59 172.81 328.23 175.1 328.87 176.45C329.51 177.79 330.15 178.4 330.78 178.87C331.42 179.34 332.06 179.81 332.7 179.27C333.34 178.74 333.98 177.19 334.62 175.64C335.26 174.09 335.9 171.46 336.54 169.98C337.18 168.5 337.81 166.75 338.45 166.75C339.09 166.75 339.73 168.77 340.37 169.98C341.01 171.19 341.65 173.08 342.29 174.02C342.93 174.96 343.56 175.3 344.2 175.64C344.84 175.97 345.48 175.64 346.12 176.04C346.76 176.45 347.4 177.46 348.04 178.06C348.68 178.67 349.32 179.27 349.95 179.68C350.59 180.08 351.23 180.35 351.87 180.49C352.51 180.62 353.15 180.08 353.79 180.49C354.43 180.89 355.07 182.1 355.71 182.91C356.35 183.72 356.98 184.53 357.62 185.34C358.26 186.14 358.9 187.22 359.54 187.76C360.18 188.3 360.82 188.37 361.46 188.57C362.1 188.77 362.73 188.91 363.37 188.97C364.01 189.04 364.65 188.91 365.29 188.97C365.93 189.04 366.57 189.04 367.21 189.38C367.85 189.71 368.49 190.19 369.12 190.99C369.76 191.8 370.4 193.42 371.04 194.23C371.68 195.04 372.32 195.3 372.96 195.84C373.6 196.38 374.24 196.99 374.88 197.46C375.51 197.93 376.15 198.34 376.79 198.67C377.43 199.01 377.75 199.14 378.71 199.48C379.67 199.82 380.63 200.29 382.54 200.69C384.46 201.1 387.34 201.64 390.21 201.91C393.09 202.17 398.2 202.24 399.8 202.31 L399.8 207.7C398.2 207.68 393.09 207.75 390.21 207.56C387.34 207.37 384.46 206.89 382.54 206.55C380.63 206.21 379.67 205.82 378.71 205.54C377.75 205.26 377.43 205.14 376.79 204.86C376.15 204.58 375.51 204.25 374.88 203.85C374.24 203.46 373.6 202.95 372.96 202.5C372.32 202.05 371.68 201.83 371.04 201.15C370.4 200.48 369.76 199.13 369.12 198.45C368.49 197.78 367.85 197.39 367.21 197.1C366.57 196.82 365.93 196.82 365.29 196.77C364.65 196.71 364.01 196.82 363.37 196.77C362.73 196.71 362.1 196.6 361.46 196.43C360.82 196.26 360.18 196.2 359.54 195.75C358.9 195.3 358.26 194.4 357.62 193.73C356.98 193.06 356.35 192.38 355.71 191.71C355.07 191.03 354.43 190.02 353.79 189.68C353.15 189.34 352.51 189.79 351.87 189.68C351.23 189.57 350.59 189.34 349.95 189.01C349.32 188.67 348.68 188.16 348.04 187.66C347.4 187.15 346.76 186.31 346.12 185.97C345.48 185.63 344.84 185.91 344.2 185.63C343.56 185.35 342.93 185.07 342.29 184.28C341.65 183.5 341.01 181.92 340.37 180.91C339.73 179.9 339.09 178.21 338.45 178.21C337.81 178.21 337.18 179.67 336.54 180.91C335.9 182.15 335.26 184.34 334.62 185.63C333.98 186.93 333.34 188.22 332.7 188.67C332.06 189.12 331.42 188.73 330.78 188.33C330.15 187.94 329.51 187.43 328.87 186.31C328.23 185.18 327.59 183.27 326.95 181.58C326.31 179.9 325.67 178.1 325.03 176.19C324.39 174.27 323.76 171.46 323.12 170.11C322.48 168.76 321.52 168.43 321.2 168.09 Z" fill="#6fb0e6" opacity="0.4"/>
<path d="M321.2 161.73C321.52 162.1 322.48 162.47 323.12 163.95C323.76 165.43 324.39 168.52 325.03 170.62C325.67 172.73 326.31 174.7 326.95 176.56C327.59 178.41 328.23 180.51 328.87 181.75C329.51 182.98 330.15 183.54 330.78 183.97C331.42 184.4 332.06 184.84 332.7 184.34C333.34 183.85 333.98 182.43 334.62 181.01C335.26 179.58 335.9 177.17 336.54 175.82C337.18 174.46 337.81 172.85 338.45 172.85C339.09 172.85 339.73 174.7 340.37 175.82C341.01 176.93 341.65 178.66 342.29 179.52C342.93 180.39 343.56 180.7 344.2 181.01C344.84 181.31 345.48 181.01 346.12 181.38C346.76 181.75 347.4 182.67 348.04 183.23C348.68 183.79 349.32 184.34 349.95 184.71C350.59 185.08 351.23 185.33 351.87 185.45C352.51 185.58 353.15 185.08 353.79 185.45C354.43 185.83 355.07 186.94 355.71 187.68C356.35 188.42 356.98 189.16 357.62 189.9C358.26 190.65 358.9 191.63 359.54 192.13C360.18 192.62 360.82 192.68 361.46 192.87C362.1 193.06 362.73 193.18 363.37 193.24C364.01 193.3 364.65 193.18 365.29 193.24C365.93 193.3 366.57 193.3 367.21 193.61C367.85 193.92 368.49 194.35 369.12 195.09C369.76 195.84 370.4 197.32 371.04 198.06C371.68 198.8 372.32 199.05 372.96 199.54C373.6 200.04 374.24 200.59 374.88 201.03C375.51 201.46 376.15 201.83 376.79 202.14C377.43 202.45 377.75 202.57 378.71 202.88C379.67 203.19 380.63 203.62 382.54 203.99C384.46 204.36 387.34 204.86 390.21 205.1C393.09 205.35 398.2 205.41 399.8 205.48" stroke="#1f6fb8" stroke-width="1.1"/>
</g>
<path d="M321.2 125.8 V207.5 H399.8" fill="none" stroke="#262626" stroke-width="0.7"/>
<path d="M321.2 207.7 h1.2" stroke="#262626" stroke-width="0.5"/>
<text x="319.4" y="209.9" font-size="6.2" text-anchor="end" fill="#1c1c1c" font-family="'DejaVu Sans Condensed','DejaVu Sans','Liberation Sans',sans-serif" font-weight="normal" stroke="#1c1c1c" stroke-width="0.1">0</text>
<path d="M321.2 192.87 h1.2" stroke="#262626" stroke-width="0.5"/>
<text x="319.4" y="195.07" font-size="6.2" text-anchor="end" fill="#1c1c1c" font-family="'DejaVu Sans Condensed','DejaVu Sans','Liberation Sans',sans-serif" font-weight="normal" stroke="#1c1c1c" stroke-width="0.1">0.02</text>
<path d="M321.2 178.04 h1.2" stroke="#262626" stroke-width="0.5"/>
<text x="319.4" y="180.24" font-size="6.2" text-anchor="end" fill="#1c1c1c" font-family="'DejaVu Sans Condensed','DejaVu Sans','Liberation Sans',sans-serif" font-weight="normal" stroke="#1c1c1c" stroke-width="0.1">0.04</text>
<path d="M321.2 163.21 h1.2" stroke="#262626" stroke-width="0.5"/>
<text x="319.4" y="165.41" font-size="6.2" text-anchor="end" fill="#1c1c1c" font-family="'DejaVu Sans Condensed','DejaVu Sans','Liberation Sans',sans-serif" font-weight="normal" stroke="#1c1c1c" stroke-width="0.1">0.06</text>
<path d="M321.2 148.38 h1.2" stroke="#262626" stroke-width="0.5"/>
<text x="319.4" y="150.58" font-size="6.2" text-anchor="end" fill="#1c1c1c" font-family="'DejaVu Sans Condensed','DejaVu Sans','Liberation Sans',sans-serif" font-weight="normal" stroke="#1c1c1c" stroke-width="0.1">0.08</text>
<path d="M321.2 133.55 h1.2" stroke="#262626" stroke-width="0.5"/>
<text x="319.4" y="135.75" font-size="6.2" text-anchor="end" fill="#1c1c1c" font-family="'DejaVu Sans Condensed','DejaVu Sans','Liberation Sans',sans-serif" font-weight="normal" stroke="#1c1c1c" stroke-width="0.1">0.1</text>
<path d="M332.7 207.5 v-1.2" stroke="#262626" stroke-width="0.5"/>
<text x="332.7" y="217.3" font-size="6.2" text-anchor="middle" fill="#1c1c1c" font-family="'DejaVu Sans Condensed','DejaVu Sans','Liberation Sans',sans-serif" font-weight="normal" stroke="#1c1c1c" stroke-width="0.1">10</text>
<path d="M351.87 207.5 v-1.2" stroke="#262626" stroke-width="0.5"/>
<text x="351.87" y="217.3" font-size="6.2" text-anchor="middle" fill="#1c1c1c" font-family="'DejaVu Sans Condensed','DejaVu Sans','Liberation Sans',sans-serif" font-weight="normal" stroke="#1c1c1c" stroke-width="0.1">20</text>
<path d="M371.04 207.5 v-1.2" stroke="#262626" stroke-width="0.5"/>
<text x="371.04" y="217.3" font-size="6.2" text-anchor="middle" fill="#1c1c1c" font-family="'DejaVu Sans Condensed','DejaVu Sans','Liberation Sans',sans-serif" font-weight="normal" stroke="#1c1c1c" stroke-width="0.1">30</text>
<path d="M390.21 207.5 v-1.2" stroke="#262626" stroke-width="0.5"/>
<text x="390.21" y="217.3" font-size="6.2" text-anchor="middle" fill="#1c1c1c" font-family="'DejaVu Sans Condensed','DejaVu Sans','Liberation Sans',sans-serif" font-weight="normal" stroke="#1c1c1c" stroke-width="0.1">40</text>
<text x="363.5" y="226.4" font-size="6.6" text-anchor="middle" fill="#1c1c1c" font-family="'DejaVu Sans','Liberation Sans',sans-serif" font-weight="normal" stroke="#1c1c1c" stroke-width="0.18">Frequency (Hz)</text>
<text x="381.6" y="166.4" font-size="6.8" text-anchor="start" fill="#1c1c1c" font-family="'DejaVu Sans','Liberation Sans',sans-serif" font-weight="normal" stroke="#1c1c1c" stroke-width="0.18">C3</text>
<text x="6.4" y="167" font-size="6.8" text-anchor="middle" fill="#1c1c1c" font-family="'DejaVu Sans','Liberation Sans',sans-serif" font-weight="normal" transform="rotate(-90 6.4 167)" stroke="#1c1c1c" stroke-width="0.18">Normalized PSD (a.u.)</text>
<clipPath id="cd"><rect x="82.5" y="245.8" width="78" height="82"/></clipPath>
<g clip-path="url(#cd)" fill="none" stroke-linejoin="round">
<path d="M81.7 313.1l1.1 .5 1.1 .3 1.1 -.1 1.1 -.4 1.1 -1.2 1.1 -2.2 1.1 -3.4 1.1 -4.9 1.1 -6.2 1.1 -7.1 1.1 -7.3 1.1 -6.6 1.1 -4.7 1.1 -2.2 1.1 1 1.1 3.9 1.1 6.2 1.1 7.7 1.1 7.9 1.1 7.5 1.1 6.3 1.1 4.9 1.1 3.5 1.1 2.4 1.1 1.6 1.1 1 1.1 .6 1.1 .3 1.1 .3 1.1 .2 1.1 .2 1 .1 1.1 .2 1.1 .1 1.1 .1 1.1 -.2 1.1 -.6 1.1 -1.7 1.1 -3.4 1.1 -5.3 1.1 -6.4 1.1 -5.5 1.1 -2.3 1.1 2.1 1.1 5.7 1.1 6.8 1.1 5.8 1.1 3.9 1.1 2.1 1.1 1 1.1 .6 1.1 .3 1.1 .3 1.1 .2 1.1 .2 1.1 .1 1.1 .1 1.1 .1 1.1 .1 1.1 0 1.1 .1 1.1 0 1.1 0 1.1 0 1.1 0 1.1 0 1.1 .1 1 0 1.1 0 1.1 0 1.1 0" stroke="#bcbcbc" stroke-width="0.65" opacity="0.62"/>
<path d="M81.7 293.8l1.1 1.9 1.1 1.7 1.1 1.7 1.1 1.5 1.1 1.4 1.1 1.4 1.1 1.2 1.1 1.2 1.1 1 1.1 .9 1.1 .4 1.1 0 1.1 -.8 1.1 -1.7 1.1 -2.7 1.1 -3.2 1.1 -3.2 1.1 -2.6 1.1 -1.5 1.1 -.2 1.1 .5 1.1 .6 1.1 .5 1.1 .5 1.1 .9 1.1 1.9 1.1 3.2 1.1 4 1.1 4.4 1.1 4 1.1 3.2 1 2.4 1.1 1.5 1.1 .9 1.1 .6 1.1 .4 1.1 .3 1.1 .2 1.1 .2 1.1 .3 1.1 .2 1.1 .2 1.1 .2 1.1 .2 1.1 .3 1.1 .2 1.1 .3 1.1 .3 1.1 .3 1.1 .4 1.1 .4 1.1 .3 1.1 .4 1.1 .3 1.1 .2 1.1 .2 1.1 .2 1.1 .1 1.1 .1 1.1 0 1.1 .1 1.1 0 1.1 .1 1.1 0 1.1 0 1.1 0 1.1 0 1 0 1.1 0 1.1 0 1.1 0" stroke="#bcbcbc" stroke-width="0.65" opacity="0.62"/>
<path d="M81.7 303.8l1.1 1.7 1.1 1.6 1.1 1.5 1.1 1.3 1.1 1.3 1.1 1.1 1.1 1 1.1 .9 1.1 .9 1.1 .8 1.1 .7 1.1 .7 1.1 .6 1.1 .6 1.1 .5 1.1 .5 1.1 .4 1.1 .4 1.1 .4 1.1 .3 1.1 .4 1.1 .3 1.1 .3 1.1 .2 1.1 .3 1.1 .2 1.1 .2 1.1 .2 1.1 .1 1.1 .1 1.1 0 1 -.2 1.1 -.4 1.1 -.7 1.1 -1.1 1.1 -1.4 1.1 -1.4 1.1 -1.2 1.1 -.8 1.1 0 1.1 .7 1.1 1.2 1.1 1.6 1.1 1.7 1.1 1.5 1.1 1.2 1.1 .8 1.1 .6 1.1 .5 1.1 .3 1.1 .3 1.1 .2 1.1 .2 1.1 .2 1.1 .2 1.1 .1 1.1 .1 1.1 .1 1.1 0 1.1 .1 1.1 0 1.1 0 1.1 0 1.1 0 1.1 .1 1.1 0 1.1 0 1 0 1.1 0 1.1 0 1.1 0" stroke="#bcbcbc" stroke-width="0.65" opacity="0.62"/>
<path d="M81.7 252.7l1.1 8.1 1.1 7.1 1.1 6.3 1.1 5.6 1.1 4.9 1.1 4.2 1.1 3.4 1.1 2.4 1.1 1.2 1.1 -.6 1.1 -2.8 1.1 -5.5 1.1 -8.3 1.1 -10.6 1.1 -11.6 1.1 -10.8 1.1 -7.8 1.1 -3.2 1.1 2.3 1.1 7.7 1.1 11.6 1.1 13.5 1.1 13.6 1.1 11.9 1.1 9.5 1.1 6.9 1.1 4.7 1.1 2.9 1.1 1.8 1.1 1 1.1 .6 1 .3 1.1 0 1.1 -.7 1.1 -1.8 1.1 -3.7 1.1 -6.2 1.1 -8.5 1.1 -9.1 1.1 -7 1.1 -2.4 1.1 3.3 1.1 7.8 1.1 9.5 1.1 8.6 1.1 6.2 1.1 3.8 1.1 2 1.1 .9 1.1 .5 1.1 .3 1.1 .2 1.1 .2 1.1 .2 1.1 .2 1.1 .1 1.1 .1 1.1 .1 1.1 0 1.1 .1 1.1 0 1.1 0 1.1 0 1.1 .1 1.1 0 1.1 0 1.1 0 1 0 1.1 0 1.1 0 1.1 0" stroke="#bcbcbc" stroke-width="0.65" opacity="0.62"/>
<path d="M81.7 304.7l1.1 1.1 1.1 1.1 1.1 1 1.1 1 1.1 .9 1.1 .8 1.1 .9 1.1 .7 1.1 .8 1.1 .7 1.1 .6 1.1 .6 1.1 .6 1.1 .5 1.1 .4 1.1 0 1.1 -.8 1.1 -2 1.1 -3.6 1.1 -4.5 1.1 -3.9 1.1 -1.6 1.1 1.6 1.1 4.4 1.1 5.2 1.1 4.6 1.1 3.1 1.1 1.7 1.1 .9 1.1 .5 1.1 .3 1 .2 1.1 .3 1.1 .2 1.1 .2 1.1 .1 1.1 .2 1.1 .2 1.1 .2 1.1 .1 1.1 .2 1.1 .2 1.1 .1 1.1 .2 1.1 .2 1.1 .2 1.1 .2 1.1 .2 1.1 .3 1.1 .2 1.1 .3 1.1 .2 1.1 .3 1.1 .2 1.1 .2 1.1 .1 1.1 .2 1.1 0 1.1 .1 1.1 .1 1.1 0 1.1 0 1.1 0 1.1 0 1.1 .1 1.1 0 1.1 0 1 0 1.1 0 1.1 0 1.1 0" stroke="#bcbcbc" stroke-width="0.65" opacity="0.62"/>
<path d="M81.7 311.7l1.1 1.1 1.1 1 1.1 .8 1.1 .7 1.1 .4 1.1 -.4 1.1 -2 1.1 -4.5 1.1 -7.1 1.1 -8.5 1.1 -6.5 1.1 -1.4 1.1 4.6 1.1 8.4 1.1 8.9 1.1 6.5 1.1 3.4 1.1 .8 1.1 -.9 1.1 -1.6 1.1 -1.3 1.1 -.3 1.1 .9 1.1 1.8 1.1 2.2 1.1 1.9 1.1 1.4 1.1 .9 1.1 .4 1.1 .3 1.1 .2 1 .1 1.1 .1 1.1 .1 1.1 .1 1.1 .1 1.1 .1 1.1 .1 1.1 .1 1.1 .1 1.1 .1 1.1 .1 1.1 .1 1.1 .1 1.1 .1 1.1 .2 1.1 .1 1.1 .2 1.1 .2 1.1 .2 1.1 .3 1.1 .2 1.1 .2 1.1 .2 1.1 .2 1.1 .1 1.1 .2 1.1 0 1.1 .1 1.1 0 1.1 .1 1.1 0 1.1 0 1.1 0 1.1 0 1.1 .1 1.1 0 1 0 1.1 0 1.1 0 1.1 0" stroke="#bcbcbc" stroke-width="0.65" opacity="0.62"/>
<path d="M81.7 305.7l1.1 1.9 1.1 1.7 1.1 1.5 1.1 1.4 1.1 1.2 1.1 1.1 1.1 1 1.1 .9 1.1 .9 1.1 .7 1.1 .7 1.1 .6 1.1 .5 1.1 .2 1.1 -.9 1.1 -3.3 1.1 -8.2 1.1 -15.7 1.1 -23.3 1.1 -25.7 1.1 -18.5 1.1 -2.7 1.1 14.8 1.1 25.1 1.1 25.4 1.1 18.8 1.1 10.9 1.1 5.1 1.1 2 1.1 .7 1.1 .3 1 .1 1.1 .1 1.1 .1 1.1 .1 1.1 .1 1.1 .1 1.1 .1 1.1 .1 1.1 .1 1.1 0 1.1 .1 1.1 .1 1.1 .1 1.1 .1 1.1 .1 1.1 .1 1.1 .1 1.1 .2 1.1 .1 1.1 .2 1.1 .1 1.1 .2 1.1 .1 1.1 .1 1.1 .1 1.1 .1 1.1 .1 1.1 0 1.1 0 1.1 .1 1.1 0 1.1 0 1.1 0 1.1 0 1.1 0 1.1 0 1 0 1.1 0 1.1 0 1.1 0" stroke="#bcbcbc" stroke-width="0.65" opacity="0.62"/>
<path d="M81.7 315.9l1.1 1.1 1.1 1 1.1 .8 1.1 .7 1.1 .6 1.1 .5 1.1 .4 1.1 .4 1.1 .3 1.1 .3 1.1 .3 1.1 .2 1.1 .2 1.1 .2 1.1 .1 1.1 0 1.1 -.1 1.1 -.2 1.1 -.5 1.1 -.9 1.1 -1.3 1.1 -1.8 1.1 -2.3 1.1 -2.7 1.1 -3 1.1 -3.2 1.1 -3.4 1.1 -3.5 1.1 -3.5 1.1 -2.7 1.1 -1.1 1 1.6 1.1 4.3 1.1 6.1 1.1 6.3 1.1 5.3 1.1 3.8 1.1 2.4 1.1 1.3 1.1 .8 1.1 .4 1.1 .3 1.1 .1 1.1 .2 1.1 .1 1.1 .1 1.1 .1 1.1 .2 1.1 .1 1.1 .2 1.1 .2 1.1 .2 1.1 .2 1.1 .1 1.1 .1 1.1 .2 1.1 0 1.1 .1 1.1 .1 1.1 0 1.1 0 1.1 0 1.1 .1 1.1 0 1.1 0 1.1 0 1.1 0 1 0 1.1 0 1.1 0 1.1 0" stroke="#bcbcbc" stroke-width="0.65" opacity="0.62"/>
<path d="M81.7 312.1l1.1 1.1 1.1 1 1.1 .9 1.1 .9 1.1 .8 1.1 .7 1.1 .7 1.1 .6 1.1 .6 1.1 .6 1.1 .5 1.1 .4 1.1 .5 1.1 .4 1.1 .4 1.1 .3 1.1 .3 1.1 .2 1.1 0 1.1 -.3 1.1 -1.2 1.1 -2.6 1.1 -4.4 1.1 -6.5 1.1 -8.1 1.1 -8.1 1.1 -6.1 1.1 -2.3 1.1 2.5 1.1 6.4 1.1 8.4 1 8.4 1.1 6.8 1.1 4.8 1.1 2.9 1.1 1.5 1.1 .8 1.1 .3 1.1 .2 1.1 .1 1.1 0 1.1 .1 1.1 .1 1.1 .1 1.1 0 1.1 .1 1.1 .1 1.1 .1 1.1 .1 1.1 0 1.1 .1 1.1 .1 1.1 .1 1.1 .1 1.1 .1 1.1 0 1.1 0 1.1 .1 1.1 0 1.1 0 1.1 0 1.1 0 1.1 0 1.1 0 1.1 .1 1.1 0 1.1 0 1 0 1.1 0 1.1 0 1.1 0" stroke="#bcbcbc" stroke-width="0.65" opacity="0.62"/>
<path d="M81.7 225.4l1.1 -8.2 1.1 -6.3 1.1 -2.9 1.1 1.6 1.1 6.2 1.1 10.2 1.1 12.8 1.1 13.6 1.1 12.6 1.1 9.9 1.1 6.4 1.1 2.5 1.1 -1 1.1 -3.4 1.1 -4.4 1.1 -3.8 1.1 -1.8 1.1 1 1.1 3.9 1.1 6.4 1.1 7.8 1.1 8.1 1.1 7.5 1.1 6.2 1.1 4.7 1.1 3.3 1.1 2.1 1.1 1.4 1.1 .8 1.1 .4 1.1 .3 1 .2 1.1 .2 1.1 .1 1.1 .2 1.1 .1 1.1 .1 1.1 .1 1.1 .1 1.1 .1 1.1 .1 1.1 .1 1.1 .1 1.1 .2 1.1 .1 1.1 .1 1.1 .2 1.1 .2 1.1 .2 1.1 .2 1.1 .3 1.1 .2 1.1 .3 1.1 .2 1.1 .2 1.1 .1 1.1 .1 1.1 .1 1.1 .1 1.1 0 1.1 .1 1.1 0 1.1 0 1.1 0 1.1 0 1.1 0 1.1 0 1 .1 1.1 0 1.1 0 1.1 0" stroke="#bcbcbc" stroke-width="0.65" opacity="0.62"/>
<path d="M81.7 228.7l1.1 -19.9 1.1 -5 1.1 12.1 1.1 22.3 1.1 21.6 1.1 13.5 1.1 4.2 1.1 -2.3 1.1 -5.1 1.1 -5 1.1 -3 1.1 -.1 1.1 2.9 1.1 5.8 1.1 7.6 1.1 8.6 1.1 8.4 1.1 7.6 1.1 6.2 1.1 4.7 1.1 3.4 1.1 2.3 1.1 1.6 1.1 1 1.1 .6 1.1 .5 1.1 .3 1.1 .3 1.1 .2 1.1 .2 1.1 .2 1 .2 1.1 .2 1.1 .2 1.1 .1 1.1 .2 1.1 .1 1.1 .1 1.1 .1 1.1 .2 1.1 .1 1.1 .1 1.1 .1 1.1 .1 1.1 .1 1.1 .1 1.1 .2 1.1 .1 1.1 .1 1.1 .2 1.1 .1 1.1 .1 1.1 .2 1.1 .1 1.1 .1 1.1 0 1.1 .1 1.1 0 1.1 .1 1.1 0 1.1 0 1.1 0 1.1 0 1.1 0 1.1 0 1.1 0 1.1 0 1 0 1.1 0 1.1 0 1.1 .1" stroke="#bcbcbc" stroke-width="0.65" opacity="0.62"/>
<path d="M81.7 301.5l1.1 -2.4 1.1 -3.8 1.1 -4.5 1.1 -4.2 1.1 -2.5 1.1 .2 1.1 3.2 1.1 5.4 1.1 6.6 1.1 6.3 1.1 5.3 1.1 3.8 1.1 2.6 1.1 1.5 1.1 .9 1.1 .2 1.1 -.2 1.1 -1 1.1 -1.9 1.1 -2.8 1.1 -3.6 1.1 -3.8 1.1 -3.3 1.1 -1.8 1.1 .1 1.1 2.1 1.1 3.6 1.1 4.3 1.1 4.2 1.1 3.4 1.1 2.6 1 1.6 1.1 1 1.1 .6 1.1 .3 1.1 .2 1.1 .1 1.1 .1 1.1 .1 1.1 .1 1.1 .1 1.1 .1 1.1 .1 1.1 .1 1.1 .1 1.1 .1 1.1 .1 1.1 .1 1.1 .1 1.1 .1 1.1 .1 1.1 .1 1.1 .1 1.1 .1 1.1 .1 1.1 .1 1.1 0 1.1 0 1.1 .1 1.1 0 1.1 0 1.1 0 1.1 0 1.1 0 1.1 0 1.1 0 1.1 0 1 0 1.1 .1 1.1 0 1.1 0" stroke="#bcbcbc" stroke-width="0.65" opacity="0.62"/>
<path d="M81.7 294.7l1.1 3 1.1 2.7 1.1 2.4 1.1 2.2 1.1 1.9 1.1 1.8 1.1 1.6 1.1 1.4 1.1 1.3 1.1 1.2 1.1 1 1.1 1 1.1 .8 1.1 .8 1.1 .7 1.1 .7 1.1 .5 1.1 .6 1.1 .4 1.1 .5 1.1 .4 1.1 .3 1.1 .4 1.1 .3 1.1 .2 1.1 .2 1.1 .1 1.1 0 1.1 -.3 1.1 -.7 1.1 -1.1 1 -1.6 1.1 -1.7 1.1 -1.6 1.1 -1 1.1 -.1 1.1 .8 1.1 1.6 1.1 2 1.1 1.9 1.1 1.6 1.1 1.2 1.1 .8 1.1 .4 1.1 .3 1.1 .2 1.1 .2 1.1 .2 1.1 .1 1.1 .2 1.1 .2 1.1 .2 1.1 .2 1.1 .1 1.1 .2 1.1 .1 1.1 .1 1.1 0 1.1 .1 1.1 0 1.1 0 1.1 0 1.1 .1 1.1 0 1.1 0 1.1 0 1.1 0 1 0 1.1 0 1.1 0 1.1 0" stroke="#bcbcbc" stroke-width="0.65" opacity="0.62"/>
<path d="M81.7 310.3l1.1 1.8 1.1 1.6 1.1 1.4 1.1 1.2 1.1 1.1 1.1 1 1.1 .9 1.1 .8 1.1 .7 1.1 .6 1.1 .6 1.1 .5 1.1 .5 1.1 .4 1.1 .3 1.1 .3 1.1 .3 1.1 .3 1.1 .2 1.1 .2 1.1 .2 1.1 .2 1.1 .1 1.1 .2 1.1 .1 1.1 .1 1.1 .1 1.1 .1 1.1 .1 1.1 .1 1.1 .1 1 0 1.1 0 1.1 0 1.1 -.3 1.1 -.5 1.1 -.8 1.1 -1 1.1 -1.1 1.1 -.8 1.1 0 1.1 .6 1.1 1.1 1.1 1.2 1.1 1 1.1 .7 1.1 .4 1.1 .2 1.1 .1 1.1 .1 1.1 .1 1.1 .1 1.1 .1 1.1 0 1.1 .1 1.1 0 1.1 .1 1.1 0 1.1 0 1.1 0 1.1 0 1.1 0 1.1 0 1.1 0 1.1 .1 1.1 0 1.1 0 1 0 1.1 0 1.1 0 1.1 0" stroke="#bcbcbc" stroke-width="0.65" opacity="0.62"/>
<path d="M81.7 287.9l1.1 2.1 1.1 2 1.1 1.9 1.1 1.8 1.1 1.6 1.1 1.4 1.1 1.2 1.1 .8 1.1 .1 1.1 -.6 1.1 -1.7 1.1 -3.1 1.1 -4.5 1.1 -5.8 1.1 -6.8 1.1 -7 1.1 -6.1 1.1 -4.4 1.1 -1.7 1.1 1.3 1.1 4.2 1.1 6.7 1.1 8 1.1 8.5 1.1 7.9 1.1 6.9 1.1 5.5 1.1 4.1 1.1 2.9 1.1 2 1.1 1.3 1 .9 1.1 .6 1.1 .4 1.1 .4 1.1 .3 1.1 .3 1.1 .3 1.1 .3 1.1 .2 1.1 .3 1.1 .2 1.1 .3 1.1 .2 1.1 .3 1.1 .3 1.1 .3 1.1 .4 1.1 .3 1.1 .4 1.1 .4 1.1 .4 1.1 .4 1.1 .3 1.1 .3 1.1 .2 1.1 .1 1.1 .2 1.1 .1 1.1 0 1.1 .1 1.1 0 1.1 0 1.1 .1 1.1 0 1.1 0 1.1 0 1 0 1.1 0 1.1 0 1.1 0" stroke="#bcbcbc" stroke-width="0.65" opacity="0.62"/>
<path d="M81.7 250l1.1 6 1.1 5.5 1.1 5 1.1 4.7 1.1 4.2 1.1 4 1.1 3.6 1.1 3.3 1.1 3.1 1.1 2.8 1.1 2.6 1.1 2.4 1.1 2.2 1.1 2.1 1.1 1.9 1.1 1.7 1.1 1.6 1.1 1.4 1.1 1.4 1.1 1.3 1.1 1.1 1.1 1.1 1.1 1 1.1 .9 1.1 .8 1.1 .8 1.1 .7 1.1 .6 1.1 .4 1.1 .3 1.1 0 1 -.6 1.1 -1.2 1.1 -2 1.1 -2.9 1.1 -3.7 1.1 -4.1 1.1 -4.1 1.1 -3.6 1.1 -2.8 1.1 -1.8 1.1 -.8 1.1 0 1.1 .9 1.1 2.1 1.1 3.3 1.1 4.5 1.1 5.2 1.1 5.4 1.1 4.8 1.1 3.8 1.1 2.7 1.1 1.7 1.1 1 1.1 .6 1.1 .3 1.1 .2 1.1 .1 1.1 .1 1.1 0 1.1 .1 1.1 0 1.1 0 1.1 0 1.1 0 1.1 .1 1.1 0 1 0 1.1 0 1.1 0 1.1 0" stroke="#bcbcbc" stroke-width="0.65" opacity="0.62"/>
<path d="M81.7 280.9l1.1 -.1 1.1 0 1.1 .7 1.1 1.8 1.1 2.9 1.1 3.9 1.1 4.4 1.1 4.4 1.1 4 1.1 3.1 1.1 2.2 1.1 1.1 1.1 .3 1.1 -.5 1.1 -.9 1.1 -1.2 1.1 -1.1 1.1 -.7 1.1 -.1 1.1 .7 1.1 1.4 1.1 1.9 1.1 2.4 1.1 2.4 1.1 2.3 1.1 2.1 1.1 1.6 1.1 1.3 1.1 1 1.1 .7 1.1 .5 1 .4 1.1 .3 1.1 .2 1.1 .2 1.1 .1 1.1 .2 1.1 .1 1.1 .2 1.1 .1 1.1 .1 1.1 .1 1.1 .1 1.1 .2 1.1 .1 1.1 .1 1.1 .2 1.1 .1 1.1 .2 1.1 .2 1.1 .2 1.1 .1 1.1 .2 1.1 .2 1.1 .1 1.1 .1 1.1 .1 1.1 0 1.1 .1 1.1 0 1.1 0 1.1 .1 1.1 0 1.1 0 1.1 0 1.1 0 1.1 0 1 0 1.1 0 1.1 0 1.1 0" stroke="#bcbcbc" stroke-width="0.65" opacity="0.62"/>
<path d="M81.7 300.4l1.1 2.7 1.1 2.4 1.1 1.9 1.1 1.5 1.1 1 1.1 .4 1.1 -.2 1.1 -.9 1.1 -1.6 1.1 -2 1.1 -2.4 1.1 -2.2 1.1 -1.6 1.1 -.8 1.1 .4 1.1 1.6 1.1 2.5 1.1 3.2 1.1 3.4 1.1 3.4 1.1 2.9 1.1 2.3 1.1 1.7 1.1 1.1 1.1 .4 1.1 -.5 1.1 -1.3 1.1 -2.2 1.1 -3.2 1.1 -3.8 1.1 -3.8 1 -2.9 1.1 -1.3 1.1 .6 1.1 2.4 1.1 3.7 1.1 4.1 1.1 3.8 1.1 3.1 1.1 2.2 1.1 1.4 1.1 .8 1.1 .5 1.1 .3 1.1 .1 1.1 .2 1.1 .1 1.1 .2 1.1 .2 1.1 .2 1.1 .2 1.1 .2 1.1 .2 1.1 .1 1.1 .2 1.1 .1 1.1 .1 1.1 .1 1.1 0 1.1 .1 1.1 0 1.1 0 1.1 0 1.1 .1 1.1 0 1.1 0 1.1 0 1 0 1.1 0 1.1 0 1.1 0" stroke="#bcbcbc" stroke-width="0.65" opacity="0.62"/>
<path d="M81.7 302.3l1.1 -5.9 1.1 -7.4 1.1 -8.3 1.1 -8.2 1.1 -7 1.1 -4.4 1.1 -1.1 1.1 2.6 1.1 5.8 1.1 8.1 1.1 9.1 1.1 8.9 1.1 7.9 1.1 6.4 1.1 4.7 1.1 3.2 1.1 2.1 1.1 1.3 1.1 .8 1.1 .5 1.1 .3 1.1 .3 1.1 .2 1.1 .2 1.1 .1 1.1 .2 1.1 .1 1.1 .2 1.1 .1 1.1 .1 1.1 .2 1 .1 1.1 .1 1.1 .1 1.1 .1 1.1 .1 1.1 .1 1.1 .1 1.1 .2 1.1 .1 1.1 .1 1.1 .1 1.1 .1 1.1 .1 1.1 .2 1.1 .1 1.1 .2 1.1 .2 1.1 .2 1.1 .3 1.1 .2 1.1 .3 1.1 .2 1.1 .2 1.1 .2 1.1 .2 1.1 .1 1.1 .1 1.1 .1 1.1 0 1.1 .1 1.1 0 1.1 0 1.1 0 1.1 0 1.1 0 1.1 0 1 0 1.1 .1 1.1 0 1.1 0" stroke="#bcbcbc" stroke-width="0.65" opacity="0.62"/>
<path d="M81.7 318.7l1.1 -.2 1.1 -.5 1.1 -1.1 1.1 -1.9 1.1 -2.7 1.1 -3.8 1.1 -4.5 1.1 -5.1 1.1 -5 1.1 -4.3 1.1 -3.5 1.1 -2.4 1.1 -1.4 1.1 -.2 1.1 1.9 1.1 4.5 1.1 6.8 1.1 8 1.1 7.4 1.1 5.6 1.1 3.6 1.1 2 1.1 1.1 1.1 .5 1.1 .3 1.1 .2 1.1 .2 1.1 .1 1.1 .1 1.1 .1 1.1 .1 1 .1 1.1 .1 1.1 .1 1.1 0 1.1 .1 1.1 .1 1.1 .1 1.1 .1 1.1 0 1.1 .1 1.1 .1 1.1 .1 1.1 .1 1.1 .1 1.1 .1 1.1 .1 1.1 .2 1.1 .1 1.1 .2 1.1 .2 1.1 .2 1.1 .2 1.1 .1 1.1 .2 1.1 .1 1.1 .1 1.1 0 1.1 .1 1.1 0 1.1 0 1.1 0 1.1 .1 1.1 0 1.1 0 1.1 0 1.1 0 1 0 1.1 0 1.1 0 1.1 0" stroke="#bcbcbc" stroke-width="0.65" opacity="0.62"/>
<path d="M81.7 309.9l1.1 .8 1.1 .8 1.1 .8 1.1 .7 1.1 .7 1.1 .7 1.1 .6 1.1 .5 1.1 .6 1.1 .5 1.1 .5 1.1 .4 1.1 .5 1.1 .4 1.1 .4 1.1 .3 1.1 .4 1.1 .3 1.1 .3 1.1 .3 1.1 .3 1.1 .3 1.1 .2 1.1 .3 1.1 .2 1.1 .2 1.1 .2 1.1 .1 1.1 0 1.1 -.4 1.1 -1 1 -2 1.1 -3.2 1.1 -3.7 1.1 -3.1 1.1 -1.4 1.1 1.2 1.1 3.1 1.1 4 1.1 3.6 1.1 2.6 1.1 1.5 1.1 .8 1.1 .4 1.1 .2 1.1 .2 1.1 .2 1.1 .2 1.1 .3 1.1 .2 1.1 .3 1.1 .3 1.1 .2 1.1 .2 1.1 .2 1.1 .2 1.1 .1 1.1 .1 1.1 .1 1.1 0 1.1 .1 1.1 0 1.1 0 1.1 0 1.1 0 1.1 0 1.1 0 1 .1 1.1 0 1.1 0 1.1 0" stroke="#bcbcbc" stroke-width="0.65" opacity="0.62"/>
<path d="M81.7 297.7l1.1 1.7 1.1 1.6 1.1 1.4 1.1 1.4 1.1 1.3 1.1 1.3 1.1 1.2 1.1 1.1 1.1 1 1.1 1 1.1 .9 1.1 .8 1.1 .8 1.1 .7 1.1 .7 1.1 .5 1.1 .4 1.1 .1 1.1 0 1.1 -.4 1.1 -.6 1.1 -.9 1.1 -1.1 1.1 -1.2 1.1 -1 1.1 -.7 1.1 -.3 1.1 .3 1.1 .9 1.1 1.3 1.1 1.7 1 1.8 1.1 1.9 1.1 1.6 1.1 1.4 1.1 1.2 1.1 .9 1.1 .6 1.1 .5 1.1 .4 1.1 .3 1.1 .2 1.1 .2 1.1 .2 1.1 .2 1.1 .2 1.1 .2 1.1 .2 1.1 .3 1.1 .2 1.1 .3 1.1 .2 1.1 .3 1.1 .2 1.1 .2 1.1 .1 1.1 .1 1.1 .1 1.1 0 1.1 .1 1.1 0 1.1 0 1.1 0 1.1 .1 1.1 0 1.1 0 1.1 0 1 0 1.1 0 1.1 0 1.1 0" stroke="#bcbcbc" stroke-width="0.65" opacity="0.62"/>
<path d="M81.7 311.9l1.1 1 1.1 .9 1.1 .9 1.1 .7 1.1 .7 1.1 .6 1.1 .4 1.1 .2 1.1 -.1 1.1 -.5 1.1 -.7 1.1 -.9 1.1 -1 1.1 -.7 1.1 -.2 1.1 .4 1.1 1 1.1 1.5 1.1 1.6 1.1 1.6 1.1 1.3 1.1 1.1 1.1 .7 1.1 .5 1.1 .4 1.1 .2 1.1 .2 1.1 .2 1.1 .1 1.1 .2 1.1 .1 1 .1 1.1 .1 1.1 .1 1.1 .1 1.1 .1 1.1 .1 1.1 .1 1.1 .1 1.1 .1 1.1 .1 1.1 .1 1.1 .1 1.1 .1 1.1 .1 1.1 .1 1.1 .2 1.1 .1 1.1 .2 1.1 .2 1.1 .2 1.1 .2 1.1 .1 1.1 .2 1.1 .1 1.1 .2 1.1 0 1.1 .1 1.1 .1 1.1 0 1.1 0 1.1 0 1.1 .1 1.1 0 1.1 0 1.1 0 1.1 0 1 0 1.1 0 1.1 0 1.1 0" stroke="#bcbcbc" stroke-width="0.65" opacity="0.62"/>
<path d="M81.7 318.3l1.1 .4 1.1 .4 1.1 .3 1.1 .4 1.1 .3 1.1 .3 1.1 .3 1.1 .2 1.1 .3 1.1 .2 1.1 .3 1.1 .2 1.1 .2 1.1 .2 1.1 .2 1.1 .2 1.1 .1 1.1 .2 1.1 .1 1.1 .2 1.1 .1 1.1 .1 1.1 .1 1.1 -.1 1.1 -.3 1.1 -.8 1.1 -1.7 1.1 -2.9 1.1 -4.3 1.1 -5.4 1.1 -5.6 1 -4.6 1.1 -2.4 1.1 .7 1.1 3.5 1.1 5.3 1.1 5.9 1.1 5.2 1.1 3.9 1.1 2.6 1.1 1.5 1.1 .8 1.1 .5 1.1 .2 1.1 .1 1.1 .1 1.1 .2 1.1 .1 1.1 .2 1.1 .2 1.1 .2 1.1 .2 1.1 .1 1.1 .2 1.1 .1 1.1 .2 1.1 0 1.1 .1 1.1 .1 1.1 0 1.1 0 1.1 0 1.1 .1 1.1 0 1.1 0 1.1 0 1.1 0 1 0 1.1 0 1.1 0 1.1 0" stroke="#bcbcbc" stroke-width="0.65" opacity="0.62"/>
<path d="M81.7 316.7l1.1 -1.4 1.1 -1.5 1.1 -1.7 1.1 -1.5 1.1 -1.2 1.1 -.6 1.1 .1 1.1 .8 1.1 1.4 1.1 1.8 1.1 2.1 1.1 2.1 1.1 2 1.1 1.6 1.1 1.3 1.1 1.1 1.1 .7 1.1 .5 1.1 .4 1.1 .2 1.1 .2 1.1 .1 1.1 .2 1.1 .1 1.1 .1 1.1 .1 1.1 0 1.1 .1 1.1 .1 1.1 .1 1.1 0 1 .1 1.1 .1 1.1 0 1.1 .1 1.1 .1 1.1 0 1.1 .1 1.1 0 1.1 .1 1.1 0 1.1 .1 1.1 0 1.1 .1 1.1 0 1.1 .1 1.1 .1 1.1 .1 1.1 0 1.1 .1 1.1 .1 1.1 .1 1.1 .1 1.1 .1 1.1 0 1.1 .1 1.1 0 1.1 .1 1.1 0 1.1 0 1.1 0 1.1 0 1.1 0 1.1 0 1.1 0 1.1 0 1.1 .1 1 0 1.1 0 1.1 0 1.1 0" stroke="#bcbcbc" stroke-width="0.65" opacity="0.62"/>
<path d="M81.7 252.6l1.1 -9.2 1.1 -5.2 1.1 .1 1.1 5.6 1.1 10 1.1 12.5 1.1 13 1.1 11.8 1.1 9.4 1.1 7 1.1 4.7 1.1 2.9 1.1 1.8 1.1 1.1 1.1 .7 1.1 .5 1.1 .3 1.1 .3 1.1 .3 1.1 .1 1.1 -.1 1.1 -.6 1.1 -1.3 1.1 -2.5 1.1 -4.1 1.1 -6.2 1.1 -8.2 1.1 -9.8 1.1 -10.3 1.1 -9.1 1.1 -6.3 1 -2.2 1.1 2.6 1.1 6.7 1.1 9.5 1.1 10.6 1.1 10.1 1.1 8.5 1.1 6.5 1.1 4.4 1.1 2.8 1.1 1.7 1.1 .9 1.1 .5 1.1 .3 1.1 .3 1.1 .2 1.1 .2 1.1 .2 1.1 .3 1.1 .3 1.1 .2 1.1 .3 1.1 .2 1.1 .2 1.1 .2 1.1 .1 1.1 .1 1.1 .1 1.1 0 1.1 .1 1.1 0 1.1 0 1.1 0 1.1 0 1.1 0 1.1 0 1 0 1.1 .1 1.1 0 1.1 0" stroke="#bcbcbc" stroke-width="0.65" opacity="0.62"/>
<path d="M81.7 298.9l1.1 2.3 1.1 2.2 1.1 1.9 1.1 1.7 1.1 1.6 1.1 1.3 1.1 1.3 1.1 1.1 1.1 1 1.1 .9 1.1 .9 1.1 .7 1.1 .7 1.1 .5 1.1 .4 1.1 0 1.1 -.5 1.1 -1.3 1.1 -2.6 1.1 -3.8 1.1 -4.6 1.1 -4.4 1.1 -3.1 1.1 -.7 1.1 2 1.1 4.1 1.1 5.1 1.1 5 1.1 4 1.1 2.8 1.1 1.8 1 .9 1.1 .5 1.1 .3 1.1 0 1.1 -.1 1.1 -.5 1.1 -1.1 1.1 -1.9 1.1 -2.6 1.1 -3 1.1 -2.7 1.1 -1.7 1.1 0 1.1 1.8 1.1 3 1.1 3.5 1.1 3.1 1.1 2.3 1.1 1.6 1.1 .9 1.1 .6 1.1 .4 1.1 .3 1.1 .2 1.1 .2 1.1 .1 1.1 .1 1.1 .1 1.1 .1 1.1 0 1.1 .1 1.1 0 1.1 0 1.1 0 1.1 0 1.1 0 1 0 1.1 0 1.1 0 1.1 0" stroke="#bcbcbc" stroke-width="0.65" opacity="0.62"/>
<path d="M81.7 235.1l1.1 -13.7 1.1 -11.9 1.1 -8.1 1.1 -2.6 1.1 3.6 1.1 9.4 1.1 13.8 1.1 16.1 1.1 16.6 1.1 15.1 1.1 12.8 1.1 9.9 1.1 7.1 1.1 5 1.1 3.3 1.1 2.1 1.1 1.4 1.1 1 1.1 .8 1.1 .6 1.1 .6 1.1 .5 1.1 .5 1.1 .4 1.1 .5 1.1 .4 1.1 .3 1.1 .4 1.1 .3 1.1 .4 1.1 .3 1 .2 1.1 .3 1.1 .3 1.1 .2 1.1 .3 1.1 .2 1.1 .2 1.1 .2 1.1 .2 1.1 .2 1.1 .2 1.1 .2 1.1 .2 1.1 .1 1.1 .3 1.1 .2 1.1 .2 1.1 .2 1.1 .3 1.1 .2 1.1 .3 1.1 .2 1.1 .2 1.1 .2 1.1 .1 1.1 .1 1.1 .1 1.1 .1 1.1 0 1.1 0 1.1 0 1.1 .1 1.1 0 1.1 0 1.1 0 1.1 0 1 0 1.1 0 1.1 0 1.1 0" stroke="#bcbcbc" stroke-width="0.65" opacity="0.62"/>
<path d="M81.7 312.7l1.1 -1 1.1 -.8 1.1 -.4 1.1 .2 1.1 .8 1.1 .9 1.1 .5 1.1 -.6 1.1 -2 1.1 -3.2 1.1 -3.7 1.1 -2.8 1.1 -.8 1.1 1.7 1.1 3.8 1.1 4.9 1.1 4.8 1.1 4 1.1 2.7 1.1 1.7 1.1 .9 1.1 .5 1.1 .2 1.1 .2 1.1 .1 1.1 .1 1.1 .1 1.1 .1 1.1 .1 1.1 0 1.1 .1 1 .1 1.1 0 1.1 .1 1.1 .1 1.1 0 1.1 .1 1.1 0 1.1 .1 1.1 0 1.1 .1 1.1 0 1.1 .1 1.1 .1 1.1 0 1.1 .1 1.1 .1 1.1 .1 1.1 .1 1.1 .1 1.1 .1 1.1 .1 1.1 .1 1.1 .1 1.1 .1 1.1 0 1.1 .1 1.1 0 1.1 .1 1.1 0 1.1 0 1.1 0 1.1 0 1.1 0 1.1 0 1.1 0 1.1 0 1 0 1.1 0 1.1 0 1.1 0" stroke="#bcbcbc" stroke-width="0.65" opacity="0.62"/>
<path d="M81.7 277l1.1 -.6 1.1 -1.1 1.1 -.5 1.1 1.1 1.1 3.3 1.1 5.1 1.1 6.2 1.1 6.2 1.1 5.4 1.1 4.2 1.1 3 1.1 2.1 1.1 1.5 1.1 1.1 1.1 .8 1.1 .6 1.1 .4 1.1 0 1.1 -.4 1.1 -.9 1.1 -1.2 1.1 -1.5 1.1 -1.4 1.1 -1.1 1.1 -.3 1.1 .4 1.1 1.3 1.1 1.9 1.1 2.2 1.1 2.1 1.1 1.9 1 1.5 1.1 1.1 1.1 .7 1.1 .5 1.1 .3 1.1 .3 1.1 .1 1.1 .2 1.1 .2 1.1 .1 1.1 .2 1.1 .1 1.1 .2 1.1 .1 1.1 .2 1.1 .3 1.1 .2 1.1 .3 1.1 .2 1.1 .3 1.1 .3 1.1 .3 1.1 .3 1.1 .2 1.1 .2 1.1 .1 1.1 .1 1.1 .1 1.1 .1 1.1 0 1.1 .1 1.1 0 1.1 0 1.1 0 1.1 0 1.1 0 1 0 1.1 0 1.1 0 1.1 0" stroke="#bcbcbc" stroke-width="0.65" opacity="0.62"/>
<path d="M81.7 294.3l1.1 2.5 1.1 2.3 1.1 1.9 1.1 1.5 1.1 .7 1.1 -.6 1.1 -2.7 1.1 -5.7 1.1 -9.5 1.1 -13 1.1 -15.3 1.1 -15 1.1 -11.5 1.1 -4.8 1.1 3.2 1.1 10.7 1.1 15.7 1.1 17.3 1.1 15.9 1.1 12.7 1.1 8.9 1.1 5.3 1.1 2.6 1.1 .6 1.1 -1.1 1.1 -2.5 1.1 -3.5 1.1 -4.4 1.1 -4.7 1.1 -4.3 1.1 -3.2 1 -1.5 1.1 .6 1.1 2.6 1.1 4.1 1.1 5 1.1 5.1 1.1 4.6 1.1 3.8 1.1 2.9 1.1 1.9 1.1 1.3 1.1 .8 1.1 .5 1.1 .3 1.1 .2 1.1 .1 1.1 .1 1.1 .2 1.1 .1 1.1 .1 1.1 .2 1.1 .1 1.1 .1 1.1 .1 1.1 .1 1.1 0 1.1 0 1.1 .1 1.1 0 1.1 0 1.1 0 1.1 0 1.1 0 1.1 0 1.1 0 1.1 0 1 0 1.1 .1 1.1 0 1.1 0" stroke="#bcbcbc" stroke-width="0.65" opacity="0.62"/>
<path d="M81.7 316.2l1.1 .6 1.1 .6 1.1 .5 1.1 .5 1.1 .5 1.1 .4 1.1 .4 1.1 .3 1.1 .4 1.1 .3 1.1 .3 1.1 .3 1.1 .2 1.1 .3 1.1 .2 1.1 .2 1.1 .2 1.1 .2 1.1 .2 1.1 .1 1.1 .1 1.1 -.1 1.1 -.3 1.1 -.8 1.1 -1.3 1.1 -1.9 1.1 -2.2 1.1 -2 1.1 -1.4 1.1 -.1 1.1 1.1 1 2 1.1 2.4 1.1 2.3 1.1 1.8 1.1 1.2 1.1 .7 1.1 .4 1.1 .2 1.1 .1 1.1 .1 1.1 .1 1.1 .1 1.1 .1 1.1 .1 1.1 .2 1.1 .1 1.1 .1 1.1 .2 1.1 .2 1.1 .2 1.1 .2 1.1 .2 1.1 .2 1.1 .1 1.1 .1 1.1 .1 1.1 .1 1.1 0 1.1 .1 1.1 0 1.1 0 1.1 0 1.1 .1 1.1 0 1.1 0 1.1 0 1 0 1.1 0 1.1 0 1.1 0" stroke="#bcbcbc" stroke-width="0.65" opacity="0.62"/>
<path d="M81.7 290.6l1.1 4 1.1 3.4 1.1 3 1.1 2.6 1.1 2.2 1.1 1.6 1.1 .7 1.1 -1.1 1.1 -4.1 1.1 -8.6 1.1 -14 1.1 -18.9 1.1 -20.6 1.1 -17.1 1.1 -8.4 1.1 3.4 1.1 14.3 1.1 20.7 1.1 21.6 1.1 18.2 1.1 12.9 1.1 7.9 1.1 4.2 1.1 2.1 1.1 .9 1.1 .5 1.1 .3 1.1 .2 1.1 .2 1.1 .2 1.1 .1 1 .2 1.1 .1 1.1 .1 1.1 .2 1.1 .1 1.1 .1 1.1 .1 1.1 .1 1.1 .1 1.1 .2 1.1 .1 1.1 .1 1.1 .1 1.1 .2 1.1 .1 1.1 .2 1.1 .2 1.1 .3 1.1 .2 1.1 .3 1.1 .3 1.1 .2 1.1 .3 1.1 .2 1.1 .1 1.1 .2 1.1 .1 1.1 0 1.1 .1 1.1 0 1.1 .1 1.1 0 1.1 0 1.1 0 1.1 0 1.1 0 1 0 1.1 0 1.1 0 1.1 .1" stroke="#bcbcbc" stroke-width="0.65" opacity="0.62"/>
<path d="M81.7 221.1l1.1 4.1 1.1 5.6 1.1 7.1 1.1 8.4 1.1 9.1 1.1 9.1 1.1 8.6 1.1 7.4 1.1 6.2 1.1 5 1.1 4 1.1 3.2 1.1 2.5 1.1 2.2 1.1 1.9 1.1 1.7 1.1 1.5 1.1 1.3 1.1 1.2 1.1 1.2 1.1 1 1.1 .9 1.1 .9 1.1 .8 1.1 .7 1.1 .6 1.1 .7 1.1 .5 1.1 .5 1.1 .5 1.1 .4 1 .4 1.1 .4 1.1 .4 1.1 .3 1.1 .3 1.1 .3 1.1 .2 1.1 .3 1.1 .2 1.1 .3 1.1 .2 1.1 .2 1.1 .2 1.1 .3 1.1 .2 1.1 .3 1.1 .3 1.1 .3 1.1 .4 1.1 .3 1.1 .4 1.1 .3 1.1 .3 1.1 .2 1.1 .2 1.1 .2 1.1 .1 1.1 .1 1.1 .1 1.1 0 1.1 0 1.1 .1 1.1 0 1.1 0 1.1 0 1.1 0 1 0 1.1 0 1.1 0 1.1 0" stroke="#bcbcbc" stroke-width="0.65" opacity="0.62"/>
<path d="M81.7 301.3l1.1 1 1.1 .9 1.1 .9 1.1 1.2 1.1 1.5 1.1 1.8 1.1 1.8 1.1 1.7 1.1 1.2 1.1 .3 1.1 -.9 1.1 -2.4 1.1 -3.6 1.1 -4.3 1.1 -4 1.1 -2.7 1.1 -.5 1.1 2 1.1 4 1.1 5.1 1.1 5.1 1.1 4.4 1.1 3.4 1.1 2.2 1.1 1.4 1.1 .7 1.1 .5 1.1 .2 1.1 .2 1.1 .1 1.1 .1 1 .1 1.1 .1 1.1 .1 1.1 0 1.1 .1 1.1 .1 1.1 .1 1.1 .1 1.1 0 1.1 .1 1.1 .1 1.1 .1 1.1 .1 1.1 .1 1.1 .1 1.1 .1 1.1 .1 1.1 .2 1.1 .2 1.1 .2 1.1 .2 1.1 .1 1.1 .2 1.1 .1 1.1 .2 1.1 0 1.1 .1 1.1 .1 1.1 0 1.1 0 1.1 0 1.1 .1 1.1 0 1.1 0 1.1 0 1.1 0 1 0 1.1 0 1.1 0 1.1 0" stroke="#bcbcbc" stroke-width="0.65" opacity="0.62"/>
<path d="M81.7 290.9l1.1 3 1.1 2.7 1.1 2.4 1.1 2.3 1.1 2 1.1 1.9 1.1 1.7 1.1 1.5 1.1 1.5 1.1 1.2 1.1 1.2 1.1 1.1 1.1 .8 1.1 .8 1.1 .4 1.1 0 1.1 -.4 1.1 -1.2 1.1 -1.9 1.1 -2.6 1.1 -2.9 1.1 -3 1.1 -2.4 1.1 -1.3 1.1 .3 1.1 1.7 1.1 2.9 1.1 3.6 1.1 3.8 1.1 3.5 1.1 2.8 1 2.1 1.1 1.5 1.1 1 1.1 .6 1.1 .4 1.1 .3 1.1 .2 1.1 .1 1.1 .2 1.1 .1 1.1 .2 1.1 .1 1.1 .1 1.1 .2 1.1 .1 1.1 .2 1.1 .2 1.1 .2 1.1 .2 1.1 .2 1.1 .2 1.1 .2 1.1 .2 1.1 .2 1.1 .1 1.1 .1 1.1 .1 1.1 0 1.1 .1 1.1 0 1.1 0 1.1 0 1.1 .1 1.1 0 1.1 0 1.1 0 1 0 1.1 0 1.1 0 1.1 0" stroke="#bcbcbc" stroke-width="0.65" opacity="0.62"/>
<path d="M81.7 301.4l1.1 2.8 1.1 2.4 1.1 2.1 1.1 1.9 1.1 1.6 1.1 1.4 1.1 1.2 1.1 1.1 1.1 .9 1.1 .9 1.1 .7 1.1 .6 1.1 .5 1.1 .4 1.1 .2 1.1 -.2 1.1 -.8 1.1 -1.9 1.1 -3.4 1.1 -5.7 1.1 -8.3 1.1 -11.1 1.1 -13.3 1.1 -14.4 1.1 -13.5 1.1 -10.3 1.1 -5.2 1.1 .9 1.1 6.8 1.1 11.6 1.1 14.1 1 14.6 1.1 12.9 1.1 10 1.1 5.7 1.1 .4 1.1 -5.5 1.1 -10.8 1.1 -12.6 1.1 -9 1.1 -.9 1.1 8 1.1 13.4 1.1 13.6 1.1 10.2 1.1 6 1.1 2.8 1.1 1.3 1.1 .5 1.1 .2 1.1 .3 1.1 .2 1.1 .2 1.1 .2 1.1 .2 1.1 .1 1.1 .1 1.1 .1 1.1 0 1.1 .1 1.1 0 1.1 0 1.1 0 1.1 0 1.1 .1 1.1 0 1.1 0 1 0 1.1 0 1.1 0 1.1 0" stroke="#bcbcbc" stroke-width="0.65" opacity="0.62"/>
<path d="M81.7 249.6l1.1 3.8 1.1 2.9 1.1 1.6 1.1 -.1 1.1 -2.2 1.1 -4.5 1.1 -7 1.1 -9.1 1.1 -10.5 1.1 -10.7 1.1 -9.5 1.1 -6.8 1.1 -2.7 1.1 1.9 1.1 6.7 1.1 10.8 1.1 13.5 1.1 14.9 1.1 14.8 1.1 13.5 1.1 11.4 1.1 9.2 1.1 7 1.1 5.1 1.1 3.5 1.1 2.4 1.1 1.6 1.1 .8 1.1 .3 1.1 -.3 1.1 -.8 1 -1.4 1.1 -1.7 1.1 -1.8 1.1 -1.5 1.1 -.9 1.1 -.1 1.1 .9 1.1 1.8 1.1 2.5 1.1 2.8 1.1 2.7 1.1 2.5 1.1 2 1.1 1.6 1.1 1.2 1.1 .9 1.1 .7 1.1 .6 1.1 .6 1.1 .5 1.1 .5 1.1 .4 1.1 .4 1.1 .4 1.1 .2 1.1 .2 1.1 .2 1.1 .1 1.1 .1 1.1 0 1.1 .1 1.1 0 1.1 0 1.1 .1 1.1 0 1.1 0 1 0 1.1 0 1.1 0 1.1 0" stroke="#bcbcbc" stroke-width="0.65" opacity="0.62"/>
<path d="M81.7 247.6l1.1 -4 1.1 -4.4 1.1 -4 1.1 -2.5 1.1 -.3 1.1 2.3 1.1 5.1 1.1 7.3 1.1 8.9 1.1 9.5 1.1 9.4 1.1 8.5 1.1 7.1 1.1 5.8 1.1 4.5 1.1 3.2 1.1 2.3 1.1 1.4 1.1 .6 1.1 -.2 1.1 -1.3 1.1 -2.4 1.1 -3.6 1.1 -4.6 1.1 -5.1 1.1 -4.9 1.1 -3.7 1.1 -1.9 1.1 .4 1.1 2.8 1.1 4.7 1 5.9 1.1 6.3 1.1 5.8 1.1 4.8 1.1 3.8 1.1 2.8 1.1 1.8 1.1 1.2 1.1 .8 1.1 .5 1.1 .4 1.1 .4 1.1 .3 1.1 .3 1.1 .3 1.1 .3 1.1 .3 1.1 .4 1.1 .4 1.1 .4 1.1 .3 1.1 .4 1.1 .3 1.1 .2 1.1 .2 1.1 .2 1.1 .1 1.1 .1 1.1 .1 1.1 0 1.1 .1 1.1 0 1.1 0 1.1 0 1.1 0 1.1 0 1 0 1.1 0 1.1 0 1.1 .1" stroke="#bcbcbc" stroke-width="0.65" opacity="0.62"/>
<path d="M81.7 225.4l1.1 -3.3 1.1 -3.6 1.1 -2.6 1.1 -.4 1.1 2.5 1.1 5.2 1.1 7.2 1.1 8 1.1 8 1.1 7.1 1.1 6.1 1.1 5.4 1.1 5.1 1.1 5.1 1.1 5.5 1.1 5.7 1.1 5.7 1.1 5.4 1.1 4.9 1.1 4.2 1.1 3.4 1.1 2.7 1.1 2 1.1 1.5 1.1 1.2 1.1 .9 1.1 .8 1.1 .6 1.1 .5 1.1 .5 1.1 .4 1 .4 1.1 .3 1.1 .4 1.1 .3 1.1 .3 1.1 .2 1.1 .3 1.1 .2 1.1 .2 1.1 .3 1.1 .2 1.1 .2 1.1 .2 1.1 .2 1.1 .2 1.1 .2 1.1 .2 1.1 .3 1.1 .3 1.1 .3 1.1 .2 1.1 .3 1.1 .2 1.1 .2 1.1 .1 1.1 .1 1.1 .1 1.1 .1 1.1 0 1.1 .1 1.1 0 1.1 0 1.1 0 1.1 0 1.1 .1 1.1 0 1 0 1.1 0 1.1 0 1.1 0" stroke="#bcbcbc" stroke-width="0.65" opacity="0.62"/>
</g>
<rect x="98.84" y="245.8" width="13.3" height="82" fill="rgb(42,195,218)" fill-opacity="0.3"/>
<rect x="112.14" y="245.8" width="28.5" height="82" fill="rgb(55,208,28)" fill-opacity="0.3"/>
<g clip-path="url(#cd)" fill="none" stroke-linejoin="round">
<path d="M82.5 288.3C82.71 288.59 82.92 288.3 83.75 290.05C84.58 291.8 86.04 296.09 87.5 298.8C88.96 301.51 91.04 306.3 92.5 306.3C93.96 306.3 94.88 302.05 96.25 298.8C97.62 295.55 99.5 287.43 100.75 286.8C102 286.18 102.71 293.38 103.75 295.05C104.79 296.72 105.96 296.09 107 296.8C108.04 297.51 109.08 299.05 110 299.3C110.92 299.55 111.58 297.97 112.5 298.3C113.42 298.63 114.25 300.05 115.5 301.3C116.75 302.55 118.42 304.63 120 305.8C121.58 306.97 123.33 307.59 125 308.3C126.67 309.01 128.54 309.05 130 310.05C131.46 311.05 132.29 312.84 133.75 314.3C135.21 315.76 136.88 317.63 138.75 318.8C140.62 319.97 143.12 320.76 145 321.3C146.88 321.84 147.42 321.8 150 322.05C152.58 322.3 158.75 322.68 160.5 322.8 L160.5 327C158.75 326.88 152.58 326.5 150 326.25C147.42 326 146.88 326.04 145 325.5C143.12 324.96 140.62 324.17 138.75 323C136.88 321.83 135.21 319.96 133.75 318.5C132.29 317.04 131.46 315.25 130 314.25C128.54 313.25 126.67 313.21 125 312.5C123.33 311.79 121.58 311.17 120 310C118.42 308.83 116.75 306.75 115.5 305.5C114.25 304.25 113.42 302.83 112.5 302.5C111.58 302.17 110.92 303.75 110 303.5C109.08 303.25 108.04 301.71 107 301C105.96 300.29 104.79 300.92 103.75 299.25C102.71 297.58 102 290.38 100.75 291C99.5 291.62 97.62 299.75 96.25 303C94.88 306.25 93.96 310.5 92.5 310.5C91.04 310.5 88.96 305.71 87.5 303C86.04 300.29 84.58 296 83.75 294.25C82.92 292.5 82.71 292.79 82.5 292.5 Z" fill="#f0a080" opacity="0.5"/>
<path d="M82.5 290.5C82.71 290.79 82.92 290.5 83.75 292.25C84.58 294 86.04 298.29 87.5 301C88.96 303.71 91.04 308.5 92.5 308.5C93.96 308.5 94.88 304.25 96.25 301C97.62 297.75 99.5 289.62 100.75 289C102 288.38 102.71 295.58 103.75 297.25C104.79 298.92 105.96 298.29 107 299C108.04 299.71 109.08 301.25 110 301.5C110.92 301.75 111.58 300.17 112.5 300.5C113.42 300.83 114.25 302.25 115.5 303.5C116.75 304.75 118.42 306.83 120 308C121.58 309.17 123.33 309.79 125 310.5C126.67 311.21 128.54 311.25 130 312.25C131.46 313.25 132.29 315.04 133.75 316.5C135.21 317.96 136.88 319.83 138.75 321C140.62 322.17 143.12 322.96 145 323.5C146.88 324.04 147.42 324 150 324.25C152.58 324.5 158.75 324.88 160.5 325" stroke="#d9481c" stroke-width="0.88"/>
</g>
<path d="M82.5 245.8 V327.75 H160.5" fill="none" stroke="#262626" stroke-width="0.7"/>
<path d="M82.5 327.9 h1.2" stroke="#262626" stroke-width="0.5"/>
<text x="80.7" y="330.1" font-size="6.2" text-anchor="end" fill="#1c1c1c" font-family="'DejaVu Sans Condensed','DejaVu Sans','Liberation Sans',sans-serif" font-weight="normal" stroke="#1c1c1c" stroke-width="0.1">0</text>
<path d="M82.5 313.07 h1.2" stroke="#262626" stroke-width="0.5"/>
<text x="80.7" y="315.27" font-size="6.2" text-anchor="end" fill="#1c1c1c" font-family="'DejaVu Sans Condensed','DejaVu Sans','Liberation Sans',sans-serif" font-weight="normal" stroke="#1c1c1c" stroke-width="0.1">0.02</text>
<path d="M82.5 298.24 h1.2" stroke="#262626" stroke-width="0.5"/>
<text x="80.7" y="300.44" font-size="6.2" text-anchor="end" fill="#1c1c1c" font-family="'DejaVu Sans Condensed','DejaVu Sans','Liberation Sans',sans-serif" font-weight="normal" stroke="#1c1c1c" stroke-width="0.1">0.04</text>
<path d="M82.5 283.41 h1.2" stroke="#262626" stroke-width="0.5"/>
<text x="80.7" y="285.61" font-size="6.2" text-anchor="end" fill="#1c1c1c" font-family="'DejaVu Sans Condensed','DejaVu Sans','Liberation Sans',sans-serif" font-weight="normal" stroke="#1c1c1c" stroke-width="0.1">0.06</text>
<path d="M82.5 268.58 h1.2" stroke="#262626" stroke-width="0.5"/>
<text x="80.7" y="270.78" font-size="6.2" text-anchor="end" fill="#1c1c1c" font-family="'DejaVu Sans Condensed','DejaVu Sans','Liberation Sans',sans-serif" font-weight="normal" stroke="#1c1c1c" stroke-width="0.1">0.08</text>
<path d="M82.5 253.75 h1.2" stroke="#262626" stroke-width="0.5"/>
<text x="80.7" y="255.95" font-size="6.2" text-anchor="end" fill="#1c1c1c" font-family="'DejaVu Sans Condensed','DejaVu Sans','Liberation Sans',sans-serif" font-weight="normal" stroke="#1c1c1c" stroke-width="0.1">0.1</text>
<path d="M93.14 327.75 v-1.2" stroke="#262626" stroke-width="0.5"/>
<text x="93.14" y="337.3" font-size="6.2" text-anchor="middle" fill="#1c1c1c" font-family="'DejaVu Sans Condensed','DejaVu Sans','Liberation Sans',sans-serif" font-weight="normal" stroke="#1c1c1c" stroke-width="0.1">10</text>
<path d="M112.14 327.75 v-1.2" stroke="#262626" stroke-width="0.5"/>
<text x="112.14" y="337.3" font-size="6.2" text-anchor="middle" fill="#1c1c1c" font-family="'DejaVu Sans Condensed','DejaVu Sans','Liberation Sans',sans-serif" font-weight="normal" stroke="#1c1c1c" stroke-width="0.1">20</text>
<path d="M131.14 327.75 v-1.2" stroke="#262626" stroke-width="0.5"/>
<text x="131.14" y="337.3" font-size="6.2" text-anchor="middle" fill="#1c1c1c" font-family="'DejaVu Sans Condensed','DejaVu Sans','Liberation Sans',sans-serif" font-weight="normal" stroke="#1c1c1c" stroke-width="0.1">30</text>
<path d="M150.14 327.75 v-1.2" stroke="#262626" stroke-width="0.5"/>
<text x="150.14" y="337.3" font-size="6.2" text-anchor="middle" fill="#1c1c1c" font-family="'DejaVu Sans Condensed','DejaVu Sans','Liberation Sans',sans-serif" font-weight="normal" stroke="#1c1c1c" stroke-width="0.1">40</text>
<text x="123.75" y="345.9" font-size="6.6" text-anchor="middle" fill="#1c1c1c" font-family="'DejaVu Sans','Liberation Sans',sans-serif" font-weight="normal" stroke="#1c1c1c" stroke-width="0.18">Frequency (Hz)</text>
<text x="64" y="287" font-size="6.8" text-anchor="middle" fill="#1c1c1c" font-family="'DejaVu Sans','Liberation Sans',sans-serif" font-weight="normal" transform="rotate(-90 64 287)" stroke="#1c1c1c" stroke-width="0.18">Normalized PSD (a.u.)</text>
<text x="143" y="286.5" font-size="7.1" text-anchor="start" fill="#1c1c1c" font-family="'DejaVu Sans','Liberation Sans',sans-serif" font-weight="normal" stroke="#1c1c1c" stroke-width="0.18">contacts with max β</text>
<rect x="269.3" y="303.34" width="7" height="24.66" fill="#e9956d" stroke="#b5532a" stroke-width="0.5"/>
<rect x="276.3" y="258.13" width="7" height="69.87" fill="#e9956d" stroke="#b5532a" stroke-width="0.5"/>
<rect x="283.3" y="319.78" width="7" height="8.22" fill="#e9956d" stroke="#b5532a" stroke-width="0.5"/>
<rect x="290.3" y="303.34" width="7" height="24.66" fill="#e9956d" stroke="#b5532a" stroke-width="0.5"/>
<rect x="297.3" y="299.23" width="7" height="28.77" fill="#e9956d" stroke="#b5532a" stroke-width="0.5"/>
<rect x="304.3" y="311.56" width="7" height="16.44" fill="#e9956d" stroke="#b5532a" stroke-width="0.5"/>
<rect x="311.3" y="315.67" width="7" height="12.33" fill="#e9956d" stroke="#b5532a" stroke-width="0.5"/>
<rect x="318.3" y="319.78" width="7" height="8.22" fill="#e9956d" stroke="#b5532a" stroke-width="0.5"/>
<rect x="325.3" y="315.67" width="7" height="12.33" fill="#e9956d" stroke="#b5532a" stroke-width="0.5"/>
<path d="M263.2 244.5 V328 H340.5" fill="none" stroke="#262626" stroke-width="0.7"/>
<path d="M263.2 328 h-1.6" stroke="#262626" stroke-width="0.6"/>
<text x="259.8" y="330.2" font-size="6.2" text-anchor="end" fill="#1c1c1c" font-family="'DejaVu Sans Condensed','DejaVu Sans','Liberation Sans',sans-serif" font-weight="normal" stroke="#1c1c1c" stroke-width="0.1">0</text>
<path d="M263.2 307.45 h-1.6" stroke="#262626" stroke-width="0.6"/>
<text x="259.8" y="309.65" font-size="6.2" text-anchor="end" fill="#1c1c1c" font-family="'DejaVu Sans Condensed','DejaVu Sans','Liberation Sans',sans-serif" font-weight="normal" stroke="#1c1c1c" stroke-width="0.1">5</text>
<path d="M263.2 286.9 h-1.6" stroke="#262626" stroke-width="0.6"/>
<text x="259.8" y="289.1" font-size="6.2" text-anchor="end" fill="#1c1c1c" font-family="'DejaVu Sans Condensed','DejaVu Sans','Liberation Sans',sans-serif" font-weight="normal" stroke="#1c1c1c" stroke-width="0.1">10</text>
<path d="M263.2 266.35 h-1.6" stroke="#262626" stroke-width="0.6"/>
<text x="259.8" y="268.55" font-size="6.2" text-anchor="end" fill="#1c1c1c" font-family="'DejaVu Sans Condensed','DejaVu Sans','Liberation Sans',sans-serif" font-weight="normal" stroke="#1c1c1c" stroke-width="0.1">15</text>
<path d="M263.2 245.8 h-1.6" stroke="#262626" stroke-width="0.6"/>
<text x="259.8" y="248" font-size="6.2" text-anchor="end" fill="#1c1c1c" font-family="'DejaVu Sans Condensed','DejaVu Sans','Liberation Sans',sans-serif" font-weight="normal" stroke="#1c1c1c" stroke-width="0.1">20</text>
<path d="M269.3 328 v1.6" stroke="#262626" stroke-width="0.6"/>
<text x="269.3" y="337.3" font-size="6.2" text-anchor="middle" fill="#1c1c1c" font-family="'DejaVu Sans Condensed','DejaVu Sans','Liberation Sans',sans-serif" font-weight="normal" stroke="#1c1c1c" stroke-width="0.1">10</text>
<path d="M297.5 328 v1.6" stroke="#262626" stroke-width="0.6"/>
<text x="297.5" y="337.3" font-size="6.2" text-anchor="middle" fill="#1c1c1c" font-family="'DejaVu Sans Condensed','DejaVu Sans','Liberation Sans',sans-serif" font-weight="normal" stroke="#1c1c1c" stroke-width="0.1">20</text>
<path d="M325.7 328 v1.6" stroke="#262626" stroke-width="0.6"/>
<text x="325.7" y="337.3" font-size="6.2" text-anchor="middle" fill="#1c1c1c" font-family="'DejaVu Sans Condensed','DejaVu Sans','Liberation Sans',sans-serif" font-weight="normal" stroke="#1c1c1c" stroke-width="0.1">30</text>
<text x="303.4" y="345.9" font-size="6.6" text-anchor="middle" fill="#1c1c1c" font-family="'DejaVu Sans','Liberation Sans',sans-serif" font-weight="normal" stroke="#1c1c1c" stroke-width="0.18">Frequency (Hz)</text>
<text x="251" y="287" font-size="5.6" text-anchor="middle" fill="#1c1c1c" font-family="'Liberation Sans','DejaVu Sans',sans-serif" font-weight="bold" transform="rotate(-90 251 287)" stroke="#1c1c1c" stroke-width="0.18">N</text>
</svg>
</body></html>
